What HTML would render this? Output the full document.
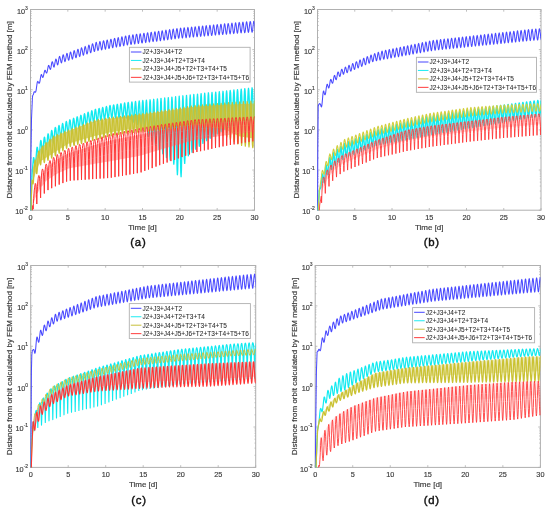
<!DOCTYPE html><html><head><meta charset="utf-8"><style>html,body{margin:0;padding:0;background:#fff}svg{display:block;filter:blur(0.5px)}</style></head><body><svg width="550" height="511" viewBox="0 0 550 511">
<style>text{font-family:"Liberation Sans",Arial,sans-serif;fill:#222}.tl{font-size:7.3px;fill:#3a3a3a;stroke:#3a3a3a;stroke-width:0.15px}.sup{font-size:5px}.xl{font-size:8px;fill:#3c3c3c;stroke:#3c3c3c;stroke-width:0.18px}.lg{font-size:6.5px;fill:#2a2a2a;stroke:#2a2a2a;stroke-width:0.06px}.pl{font-size:11.4px;fill:#111;stroke:#111;stroke-width:0.4px;letter-spacing:0.8px}</style>
<rect width="550" height="511" fill="#fff"/>
<clipPath id="clipa"><rect x="29.9" y="9.5" width="224.6" height="200.7"/></clipPath>
<rect x="30.5" y="9.5" width="224.0" height="200.7" fill="none" stroke="#b0b0b0" stroke-width="1"/>
<path d="M30.50,210.2v-2.2M30.50,9.5v2.2M67.83,210.2v-2.2M67.83,9.5v2.2M105.17,210.2v-2.2M105.17,9.5v2.2M142.50,210.2v-2.2M142.50,9.5v2.2M179.83,210.2v-2.2M179.83,9.5v2.2M217.17,210.2v-2.2M217.17,9.5v2.2M254.50,210.2v-2.2M254.50,9.5v2.2M30.5,210.20h2.2M254.5,210.20h-2.2M30.5,198.12h1.2M254.5,198.12h-1.2M30.5,191.05h1.2M254.5,191.05h-1.2M30.5,186.03h1.2M254.5,186.03h-1.2M30.5,182.14h1.2M254.5,182.14h-1.2M30.5,178.97h1.2M254.5,178.97h-1.2M30.5,176.28h1.2M254.5,176.28h-1.2M30.5,173.95h1.2M254.5,173.95h-1.2M30.5,171.90h1.2M254.5,171.90h-1.2M30.5,170.06h2.2M254.5,170.06h-2.2M30.5,157.98h1.2M254.5,157.98h-1.2M30.5,150.91h1.2M254.5,150.91h-1.2M30.5,145.89h1.2M254.5,145.89h-1.2M30.5,142.00h1.2M254.5,142.00h-1.2M30.5,138.83h1.2M254.5,138.83h-1.2M30.5,136.14h1.2M254.5,136.14h-1.2M30.5,133.81h1.2M254.5,133.81h-1.2M30.5,131.76h1.2M254.5,131.76h-1.2M30.5,129.92h2.2M254.5,129.92h-2.2M30.5,117.84h1.2M254.5,117.84h-1.2M30.5,110.77h1.2M254.5,110.77h-1.2M30.5,105.75h1.2M254.5,105.75h-1.2M30.5,101.86h1.2M254.5,101.86h-1.2M30.5,98.69h1.2M254.5,98.69h-1.2M30.5,96.00h1.2M254.5,96.00h-1.2M30.5,93.67h1.2M254.5,93.67h-1.2M30.5,91.62h1.2M254.5,91.62h-1.2M30.5,89.78h2.2M254.5,89.78h-2.2M30.5,77.70h1.2M254.5,77.70h-1.2M30.5,70.63h1.2M254.5,70.63h-1.2M30.5,65.61h1.2M254.5,65.61h-1.2M30.5,61.72h1.2M254.5,61.72h-1.2M30.5,58.55h1.2M254.5,58.55h-1.2M30.5,55.86h1.2M254.5,55.86h-1.2M30.5,53.53h1.2M254.5,53.53h-1.2M30.5,51.48h1.2M254.5,51.48h-1.2M30.5,49.64h2.2M254.5,49.64h-2.2M30.5,37.56h1.2M254.5,37.56h-1.2M30.5,30.49h1.2M254.5,30.49h-1.2M30.5,25.47h1.2M254.5,25.47h-1.2M30.5,21.58h1.2M254.5,21.58h-1.2M30.5,18.41h1.2M254.5,18.41h-1.2M30.5,15.72h1.2M254.5,15.72h-1.2M30.5,13.39h1.2M254.5,13.39h-1.2M30.5,11.34h1.2M254.5,11.34h-1.2" stroke="#b0b0b0" stroke-width="0.8" fill="none"/>
<g clip-path="url(#clipa)" fill="none" stroke-linejoin="round">
<path d="M30.5,230.0 30.9,160.0 31.5,119.0 32.4,98.0 32.7,95.5 33.2,94.8 33.6,93.7 33.9,92.5 34.2,91.8 34.5,91.7 34.8,91.9 35.1,92.2 35.4,92.3 35.7,91.9 36.0,90.8 36.3,89.1 36.6,86.9 36.9,84.7 37.2,82.7 37.5,81.6 37.8,81.4 38.1,81.8 38.4,82.5 38.8,83.1 39.1,83.3 39.4,83.1 39.7,82.3 40.0,80.8 40.3,79.0 40.6,77.2 40.9,75.6 41.2,74.7 41.5,74.5 41.8,75.2 42.1,76.1 42.4,77.0 42.7,77.4 43.0,77.3 43.3,76.5 43.6,75.3 43.9,73.8 44.3,72.2 44.6,71.0 44.9,70.3 45.2,70.3 45.5,70.8 45.8,71.7 46.1,72.5 46.4,73.0 46.7,72.9 47.0,72.3 47.3,71.1 47.6,69.5 47.9,67.8 48.2,66.4 48.5,65.5 48.8,65.4 49.1,66.0 49.4,67.1 49.8,68.3 50.1,69.2 50.4,69.4 50.7,68.8 51.0,67.4 51.3,65.6 51.6,63.7 51.9,62.3 52.2,61.7 52.5,61.9 52.8,62.9 53.1,64.4 53.4,65.8 53.7,66.9 54.0,67.1 54.3,66.5 54.6,65.0 54.9,63.1 55.3,61.2 55.6,59.7 55.9,59.0 56.2,59.3 56.5,60.3 56.8,61.9 57.1,63.5 57.4,64.6 57.7,64.9 58.0,64.2 58.3,62.7 58.6,60.7 58.9,58.7 59.2,57.1 59.5,56.4 59.8,56.7 60.1,57.8 60.5,59.5 60.8,61.2 61.1,62.5 61.4,62.9 61.7,62.3 62.0,60.8 62.3,58.8 62.6,56.8 62.9,55.3 63.2,54.7 63.5,55.1 63.8,56.4 64.1,58.1 64.4,59.9 64.7,61.2 65.0,61.6 65.3,61.0 65.6,59.5 66.0,57.5 66.3,55.5 66.6,54.0 66.9,53.4 67.2,53.7 67.5,55.0 67.8,56.8 68.1,58.6 68.4,59.9 68.7,60.3 69.0,59.7 69.3,58.2 69.6,56.2 69.9,54.1 70.2,52.6 70.5,52.0 70.8,52.4 71.1,53.7 71.5,55.5 71.8,57.3 72.1,58.7 72.4,59.1 72.7,58.5 73.0,56.9 73.3,54.8 73.6,52.8 73.9,51.2 74.2,50.6 74.5,51.0 74.8,52.3 75.1,54.2 75.4,56.1 75.7,57.4 76.0,57.8 76.3,57.2 76.6,55.6 77.0,53.5 77.3,51.4 77.6,49.9 77.9,49.2 78.2,49.6 78.5,51.0 78.8,52.9 79.1,54.8 79.4,56.1 79.7,56.6 80.0,55.9 80.3,54.3 80.6,52.2 80.9,50.1 81.2,48.5 81.5,47.8 81.8,48.3 82.2,49.6 82.5,51.5 82.8,53.5 83.1,54.9 83.4,55.3 83.7,54.7 84.0,53.0 84.3,50.9 84.6,48.7 84.9,47.1 85.2,46.4 85.5,46.9 85.8,48.3 86.1,50.2 86.4,52.2 86.7,53.6 87.0,54.0 87.3,53.4 87.7,51.8 88.0,49.6 88.3,47.4 88.6,45.7 88.9,45.1 89.2,45.5 89.5,46.9 89.8,48.9 90.1,50.9 90.4,52.3 90.7,52.8 91.0,52.1 91.3,50.5 91.6,48.2 91.9,46.0 92.2,44.4 92.5,43.7 92.8,44.1 93.2,45.6 93.5,47.6 93.8,49.6 94.1,51.1 94.4,51.5 94.7,50.9 95.0,49.2 95.3,46.9 95.6,44.7 95.9,43.0 96.2,42.3 96.5,42.8 96.8,44.3 97.1,46.4 97.4,48.5 97.7,50.0 98.0,50.6 98.3,49.9 98.7,48.3 99.0,46.0 99.3,43.8 99.6,42.2 99.9,41.5 100.2,42.0 100.5,43.6 100.8,45.7 101.1,47.8 101.4,49.3 101.7,49.9 102.0,49.2 102.3,47.6 102.6,45.3 102.9,43.1 103.2,41.4 103.5,40.7 103.9,41.3 104.2,42.8 104.5,44.9 104.8,47.1 105.1,48.6 105.4,49.2 105.7,48.5 106.0,46.8 106.3,44.6 106.6,42.3 106.9,40.6 107.2,40.0 107.5,40.5 107.8,42.0 108.1,44.2 108.4,46.4 108.7,47.9 109.0,48.5 109.4,47.8 109.7,46.1 110.0,43.8 110.3,41.5 110.6,39.8 110.9,39.2 111.2,39.7 111.5,41.3 111.8,43.5 112.1,45.7 112.4,47.2 112.7,47.8 113.0,47.1 113.3,45.4 113.6,43.1 113.9,40.8 114.2,39.1 114.5,38.4 114.9,38.9 115.2,40.5 115.5,42.7 115.8,44.9 116.1,46.5 116.4,47.1 116.7,46.4 117.0,44.7 117.3,42.4 117.6,40.0 117.9,38.3 118.2,37.6 118.5,38.2 118.8,39.8 119.1,42.0 119.4,44.2 119.7,45.8 120.0,46.4 120.4,45.7 120.7,44.0 121.0,41.6 121.3,39.3 121.6,37.5 121.9,36.8 122.2,37.4 122.5,39.0 122.8,41.3 123.1,43.5 123.4,45.1 123.7,45.7 124.0,45.0 124.3,43.3 124.6,40.9 124.9,38.5 125.2,36.7 125.6,36.0 125.9,36.6 126.2,38.2 126.5,40.5 126.8,42.8 127.1,44.4 127.4,45.0 127.7,44.3 128.0,42.6 128.3,40.2 128.6,37.7 128.9,36.0 129.2,35.3 129.5,35.9 129.8,37.5 130.1,39.9 130.4,42.2 130.7,43.9 131.1,44.4 131.4,43.8 131.7,42.0 132.0,39.6 132.3,37.2 132.6,35.4 132.9,34.8 133.2,35.4 133.5,37.0 133.8,39.4 134.1,41.7 134.4,43.4 134.7,44.0 135.0,43.3 135.3,41.5 135.6,39.1 135.9,36.7 136.2,34.9 136.6,34.3 136.9,34.8 137.2,36.5 137.5,38.9 137.8,41.2 138.1,42.9 138.4,43.5 138.7,42.8 139.0,41.0 139.3,38.6 139.6,36.2 139.9,34.4 140.2,33.7 140.5,34.3 140.8,36.0 141.1,38.4 141.4,40.7 141.7,42.4 142.1,43.0 142.4,42.4 142.7,40.6 143.0,38.1 143.3,35.7 143.6,33.9 143.9,33.2 144.2,33.8 144.5,35.5 144.8,37.9 145.1,40.2 145.4,42.0 145.7,42.6 146.0,41.9 146.3,40.1 146.6,37.6 146.9,35.2 147.3,33.4 147.6,32.7 147.9,33.3 148.2,35.0 148.5,37.4 148.8,39.8 149.1,41.5 149.4,42.1 149.7,41.4 150.0,39.6 150.3,37.2 150.6,34.7 150.9,32.9 151.2,32.2 151.5,32.8 151.8,34.5 152.1,36.9 152.4,39.3 152.8,41.0 153.1,41.6 153.4,40.9 153.7,39.1 154.0,36.7 154.3,34.2 154.6,32.4 154.9,31.7 155.2,32.3 155.5,34.0 155.8,36.4 156.1,38.8 156.4,40.5 156.7,41.2 157.0,40.5 157.3,38.6 157.6,36.2 157.9,33.7 158.3,31.9 158.6,31.2 158.9,31.8 159.2,33.5 159.5,35.9 159.8,38.3 160.1,40.1 160.4,40.7 160.7,40.0 161.0,38.2 161.3,35.7 161.6,33.2 161.9,31.4 162.2,30.7 162.5,31.3 162.8,33.0 163.1,35.4 163.4,37.8 163.8,39.6 164.1,40.2 164.4,39.5 164.7,37.7 165.0,35.2 165.3,32.7 165.6,30.9 165.9,30.1 166.2,30.8 166.5,32.5 166.8,34.9 167.1,37.4 167.4,39.1 167.7,39.7 168.0,39.1 168.3,37.2 168.6,34.7 169.0,32.2 169.3,30.3 169.6,29.6 169.9,30.3 170.2,32.0 170.5,34.5 170.8,36.9 171.1,38.7 171.4,39.3 171.7,38.6 172.0,36.7 172.3,34.2 172.6,31.7 172.9,29.8 173.2,29.1 173.5,29.7 173.8,31.5 174.1,34.0 174.5,36.4 174.8,38.2 175.1,38.8 175.4,38.1 175.7,36.2 176.0,33.7 176.3,31.2 176.6,29.3 176.9,28.6 177.2,29.2 177.5,31.0 177.8,33.5 178.1,35.9 178.4,37.7 178.7,38.3 179.0,37.6 179.3,35.8 179.6,33.2 180.0,30.7 180.3,28.8 180.6,28.1 180.9,28.8 181.2,30.6 181.5,33.0 181.8,35.5 182.1,37.3 182.4,38.0 182.7,37.3 183.0,35.4 183.3,32.9 183.6,30.3 183.9,28.5 184.2,27.8 184.5,28.4 184.8,30.2 185.1,32.7 185.5,35.2 185.8,37.0 186.1,37.7 186.4,37.0 186.7,35.1 187.0,32.5 187.3,30.0 187.6,28.1 187.9,27.4 188.2,28.1 188.5,29.9 188.8,32.4 189.1,34.9 189.4,36.7 189.7,37.3 190.0,36.6 190.3,34.8 190.7,32.2 191.0,29.6 191.3,27.8 191.6,27.1 191.9,27.7 192.2,29.5 192.5,32.0 192.8,34.5 193.1,36.4 193.4,37.0 193.7,36.3 194.0,34.4 194.3,31.9 194.6,29.3 194.9,27.4 195.2,26.7 195.5,27.4 195.8,29.2 196.2,31.7 196.5,34.2 196.8,36.1 197.1,36.7 197.4,36.0 197.7,34.1 198.0,31.5 198.3,29.0 198.6,27.1 198.9,26.3 199.2,27.0 199.5,28.8 199.8,31.4 200.1,33.9 200.4,35.7 200.7,36.4 201.0,35.7 201.3,33.8 201.7,31.2 202.0,28.6 202.3,26.7 202.6,26.0 202.9,26.6 203.2,28.5 203.5,31.0 203.8,33.6 204.1,35.4 204.4,36.1 204.7,35.4 205.0,33.5 205.3,30.9 205.6,28.3 205.9,26.4 206.2,25.6 206.5,26.3 206.8,28.1 207.2,30.7 207.5,33.2 207.8,35.1 208.1,35.8 208.4,35.1 208.7,33.1 209.0,30.5 209.3,27.9 209.6,26.0 209.9,25.3 210.2,25.9 210.5,27.8 210.8,30.4 211.1,32.9 211.4,34.8 211.7,35.5 212.0,34.7 212.4,32.8 212.7,30.2 213.0,27.6 213.3,25.6 213.6,24.9 213.9,25.6 214.2,27.5 214.5,30.0 214.8,32.6 215.1,34.5 215.4,35.1 215.7,34.4 216.0,32.5 216.3,29.9 216.6,27.2 216.9,25.3 217.2,24.6 217.5,25.2 217.9,27.1 218.2,29.7 218.5,32.3 218.8,34.1 219.1,34.8 219.4,34.1 219.7,32.2 220.0,29.5 220.3,26.9 220.6,24.9 220.9,24.2 221.2,24.9 221.5,26.8 221.8,29.4 222.1,31.9 222.4,33.8 222.7,34.5 223.0,33.8 223.4,31.8 223.7,29.2 224.0,26.5 224.3,24.6 224.6,23.8 224.9,24.5 225.2,26.4 225.5,29.0 225.8,31.6 226.1,33.5 226.4,34.2 226.7,33.5 227.0,31.5 227.3,28.8 227.6,26.2 227.9,24.2 228.2,23.5 228.5,24.2 228.9,26.1 229.2,28.7 229.5,31.3 229.8,33.2 230.1,33.9 230.4,33.1 230.7,31.2 231.0,28.5 231.3,25.8 231.6,23.9 231.9,23.1 232.2,23.8 232.5,25.7 232.8,28.3 233.1,31.0 233.4,32.9 233.7,33.6 234.1,32.8 234.4,30.9 234.7,28.2 235.0,25.5 235.3,23.5 235.6,22.8 235.9,23.5 236.2,25.4 236.5,28.0 236.8,30.6 237.1,32.6 237.4,33.2 237.7,32.5 238.0,30.5 238.3,27.8 238.6,25.1 238.9,23.2 239.2,22.4 239.6,23.1 239.9,25.0 240.2,27.7 240.5,30.3 240.8,32.2 241.1,32.9 241.4,32.2 241.7,30.2 242.0,27.5 242.3,24.8 242.6,22.8 242.9,22.1 243.2,22.8 243.5,24.7 243.8,27.4 244.1,30.0 244.4,32.0 244.7,32.7 245.1,31.9 245.4,29.9 245.7,27.2 246.0,24.5 246.3,22.5 246.6,21.8 246.9,22.5 247.2,24.4 247.5,27.1 247.8,29.8 248.1,31.7 248.4,32.4 248.7,31.7 249.0,29.7 249.3,27.0 249.6,24.3 249.9,22.3 250.2,21.5 250.6,22.2 250.9,24.2 251.2,26.8 251.5,29.5 251.8,31.5 252.1,32.2 252.4,31.4 252.7,29.4 253.0,26.7 253.3,24.0 253.6,22.0 253.9,21.2 254.2,21.9 254.5,23.9 254.8,26.6 255.1,29.3 255.4,31.3 255.8,32.0 256.1,31.3 256.4,29.3 256.7,26.6" stroke="#4a4aff" stroke-width="1.05" stroke-opacity="1"/>
<path d="M30.5,260.0 31.2,200.0 32.0,175.0 33.5,157.6 33.8,157.6 34.1,159.3 34.4,161.8 34.7,164.3 35.0,166.0 35.3,166.1 35.6,164.3 35.9,160.9 36.2,156.6 36.5,152.2 36.8,148.8 37.1,147.3 37.4,147.6 37.7,149.5 38.0,152.4 38.3,155.3 38.6,157.2 39.0,157.6 39.3,156.0 39.6,152.8 39.9,148.7 40.2,144.6 40.5,141.7 40.8,140.5 41.1,141.1 41.4,143.4 41.7,146.6 42.0,149.9 42.3,152.2 42.6,152.8 42.9,151.6 43.2,148.8 43.5,145.0 43.8,141.2 44.1,138.4 44.4,137.1 44.7,137.8 45.0,140.1 45.3,143.3 45.6,146.5 45.9,148.8 46.2,149.5 46.5,148.3 46.8,145.4 47.2,141.6 47.5,137.9 47.8,135.0 48.1,133.8 48.4,134.5 48.7,136.7 49.0,140.0 49.3,143.2 49.6,145.5 49.9,146.1 50.2,144.9 50.5,142.1 50.8,138.3 51.1,134.5 51.4,131.7 51.7,130.5 52.0,131.1 52.3,133.4 52.6,136.6 52.9,139.9 53.2,142.1 53.5,142.8 53.8,141.6 54.1,138.7 54.4,135.0 54.7,131.3 55.0,128.6 55.3,127.5 55.7,128.2 56.0,130.6 56.3,133.9 56.6,137.1 56.9,139.5 57.2,140.2 57.5,139.1 57.8,136.4 58.1,132.8 58.4,129.2 58.7,126.6 59.0,125.5 59.3,126.2 59.6,128.5 59.9,131.7 60.2,134.9 60.5,137.1 60.8,137.8 61.1,136.7 61.4,134.1 61.7,130.6 62.0,127.1 62.3,124.6 62.6,123.5 62.9,124.2 63.2,126.5 63.5,129.5 63.9,132.6 64.2,134.8 64.5,135.4 64.8,134.4 65.1,131.8 65.4,128.4 65.7,125.1 66.0,122.6 66.3,121.5 66.6,122.2 66.9,124.4 67.2,127.4 67.5,130.3 67.8,132.4 68.1,133.1 68.4,132.1 68.7,129.7 69.0,126.4 69.3,123.2 69.6,120.8 69.9,119.8 70.2,120.5 70.5,122.7 70.8,125.7 71.1,128.7 71.4,130.8 71.7,131.5 72.0,130.6 72.4,128.2 72.7,124.9 73.0,121.7 73.3,119.2 73.6,118.3 73.9,119.0 74.2,121.1 74.5,124.1 74.8,127.1 75.1,129.3 75.4,130.0 75.7,129.1 76.0,126.6 76.3,123.4 76.6,120.1 76.9,117.7 77.2,116.8 77.5,117.5 77.8,119.6 78.1,122.6 78.4,125.6 78.7,127.8 79.0,128.5 79.3,127.5 79.6,125.1 79.9,121.9 80.2,118.6 80.6,116.2 80.9,115.3 81.2,116.0 81.5,118.1 81.8,121.1 82.1,124.1 82.4,126.3 82.7,127.0 83.0,126.0 83.3,123.6 83.6,120.4 83.9,117.1 84.2,114.7 84.5,113.7 84.8,114.5 85.1,116.6 85.4,119.6 85.7,122.6 86.0,124.8 86.3,125.5 86.6,124.5 86.9,122.1 87.2,118.9 87.5,115.6 87.8,113.2 88.1,112.2 88.4,112.9 88.7,115.1 89.1,118.1 89.4,121.1 89.7,123.3 90.0,124.0 90.3,123.0 90.6,120.6 90.9,117.3 91.2,114.1 91.5,111.7 91.8,110.7 92.1,111.4 92.4,113.6 92.7,116.6 93.0,119.6 93.3,121.7 93.6,122.5 93.9,121.5 94.2,119.1 94.5,115.8 94.8,112.6 95.1,110.2 95.4,109.3 95.7,110.1 96.0,112.3 96.3,115.3 96.6,118.4 96.9,120.6 97.3,121.3 97.6,120.4 97.9,118.1 98.2,114.8 98.5,111.6 98.8,109.3 99.1,108.4 99.4,109.1 99.7,111.3 100.0,114.4 100.3,117.4 100.6,119.6 100.9,120.4 101.2,119.5 101.5,117.1 101.8,113.9 102.1,110.7 102.4,108.3 102.7,107.4 103.0,108.2 103.3,110.4 103.6,113.4 103.9,116.5 104.2,118.7 104.5,119.4 104.8,118.5 105.1,116.1 105.5,112.9 105.8,109.7 106.1,107.4 106.4,106.5 106.7,107.2 107.0,109.4 107.3,112.5 107.6,115.5 107.9,117.7 108.2,118.5 108.5,117.6 108.8,115.2 109.1,112.0 109.4,108.8 109.7,106.4 110.0,105.5 110.3,106.3 110.6,108.5 110.9,111.7 111.2,114.8 111.5,117.1 111.8,118.0 112.1,117.1 112.4,114.8 112.7,111.5 113.0,108.2 113.3,105.8 113.6,104.9 114.0,105.7 114.3,108.1 114.6,111.4 114.9,114.7 115.2,117.1 115.5,118.0 115.8,117.1 116.1,114.6 116.4,111.2 116.7,107.8 117.0,105.2 117.3,104.3 117.6,105.1 117.9,107.6 118.2,111.1 118.5,114.5 118.8,117.1 119.1,118.0 119.4,117.1 119.7,114.5 120.0,110.9 120.3,107.3 120.6,104.6 120.9,103.6 121.2,104.5 121.5,107.1 121.8,110.7 122.2,114.4 122.5,117.0 122.8,118.0 123.1,117.0 123.4,114.3 123.7,110.6 124.0,106.8 124.3,104.1 124.6,103.0 124.9,104.0 125.2,106.7 125.5,110.4 125.8,114.2 126.1,117.0 126.4,118.0 126.7,117.0 127.0,114.1 127.3,110.3 127.6,106.4 127.9,103.5 128.2,102.4 128.5,103.5 128.8,106.5 129.1,110.7 129.4,115.0 129.7,118.3 130.0,119.7 130.3,118.7 130.7,115.6 131.0,111.2 131.3,106.6 131.6,103.2 131.9,101.9 132.2,103.2 132.5,106.7 132.8,111.6 133.1,116.7 133.4,120.5 133.7,122.1 134.0,120.9 134.3,117.3 134.6,112.1 134.9,106.9 135.2,102.9 135.5,101.4 135.8,102.9 136.1,106.9 136.4,112.6 136.7,118.4 137.0,122.8 137.3,124.5 137.6,123.2 137.9,119.0 138.2,113.1 138.5,107.1 138.9,102.6 139.2,100.9 139.5,102.6 139.8,107.2 140.1,113.6 140.4,120.1 140.7,125.0 141.0,127.0 141.3,125.4 141.6,120.7 141.9,114.1 142.2,107.4 142.5,102.3 142.8,100.5 143.1,102.3 143.4,107.6 143.7,115.1 144.0,122.7 144.3,128.6 144.6,131.0 144.9,129.4 145.2,124.0 145.5,116.3 145.8,108.3 146.1,102.4 146.4,100.1 146.7,102.4 147.0,108.7 147.4,117.5 147.7,126.5 148.0,133.4 148.3,136.3 148.6,134.2 148.9,127.8 149.2,118.7 149.5,109.4 149.8,102.4 150.1,99.8 150.4,102.4 150.7,109.7 151.0,119.8 151.3,130.1 151.6,137.9 151.9,141.0 152.2,138.6 152.5,131.2 152.8,120.8 153.1,110.2 153.4,102.3 153.7,99.3 154.0,102.3 154.3,110.4 154.6,121.8 154.9,133.3 155.2,142.0 155.6,145.4 155.9,142.7 156.2,134.4 156.5,122.8 156.8,110.9 157.1,102.2 157.4,98.9 157.7,102.1 158.0,111.2 158.3,123.7 158.6,136.5 158.9,146.1 159.2,149.8 159.5,146.7 159.8,137.5 160.1,124.7 160.4,111.7 160.7,102.0 161.0,98.4 161.3,102.0 161.6,111.9 161.9,125.6 162.2,139.4 162.5,149.7 162.8,153.7 163.1,150.3 163.4,140.3 163.8,126.4 164.1,112.3 164.4,101.9 164.7,98.0 165.0,101.9 165.3,112.5 165.6,127.3 165.9,142.2 166.2,153.3 166.5,157.6 166.8,153.7 167.1,142.9 167.4,127.9 167.7,112.8 168.0,101.7 168.3,97.6 168.6,101.7 168.9,112.9 169.2,128.4 169.5,144.1 169.8,155.6 170.1,160.0 170.4,156.0 170.7,144.6 171.0,128.9 171.3,113.1 171.6,101.5 171.9,97.1 172.3,101.4 172.6,113.2 172.9,129.4 173.2,145.9 173.5,158.7 173.8,164.1 174.1,160.5 174.4,148.8 174.7,131.9 175.0,114.6 175.3,101.6 175.6,96.7 175.9,101.6 176.2,115.4 176.5,134.7 176.8,154.5 177.1,169.1 177.4,174.7 177.7,169.8 178.0,155.7 178.3,136.1 178.6,116.2 178.9,101.6 179.2,96.2 179.5,101.6 179.8,116.5 180.1,137.1 180.5,157.8 180.8,172.4 181.1,176.7 181.4,170.2 181.7,154.8 182.0,134.5 182.3,114.9 182.6,100.8 182.9,95.8 183.2,100.6 183.5,113.6 183.8,131.0 184.1,147.9 184.4,159.8 184.7,163.4 185.0,157.9 185.3,145.0 185.6,128.0 185.9,111.5 186.2,99.7 186.5,95.4 186.8,99.5 187.1,110.7 187.4,126.0 187.7,141.1 188.0,152.0 188.3,155.8 188.6,151.5 189.0,140.2 189.3,125.0 189.6,109.9 189.9,99.0 190.2,95.0 190.5,98.9 190.8,109.5 191.1,124.0 191.4,138.4 191.7,148.7 192.0,152.3 192.3,148.2 192.6,137.5 192.9,123.1 193.2,108.7 193.5,98.3 193.8,94.5 194.1,98.2 194.4,108.4 194.7,122.1 195.0,135.8 195.3,145.7 195.6,149.1 195.9,145.2 196.2,135.0 196.5,121.3 196.8,107.7 197.2,97.7 197.5,94.1 197.8,97.6 198.1,107.3 198.4,120.5 198.7,133.5 199.0,143.0 199.3,146.3 199.6,142.5 199.9,132.8 200.2,119.6 200.5,106.6 200.8,97.1 201.1,93.6 201.4,97.0 201.7,106.2 202.0,118.8 202.3,131.3 202.6,140.3 202.9,143.4 203.2,139.8 203.5,130.5 203.8,118.0 204.1,105.5 204.4,96.5 204.7,93.2 205.0,96.4 205.3,105.2 205.7,117.1 206.0,129.0 206.3,137.6 206.6,140.6 206.9,137.3 207.2,128.4 207.5,116.5 207.8,104.6 208.1,96.0 208.4,92.8 208.7,95.9 209.0,104.3 209.3,115.8 209.6,127.2 209.9,135.5 210.2,138.3 210.5,135.1 210.8,126.6 211.1,115.2 211.4,103.8 211.7,95.5 212.0,92.5 212.3,95.4 212.6,103.5 212.9,114.5 213.2,125.4 213.5,133.3 213.9,136.1 214.2,133.0 214.5,124.8 214.8,113.9 215.1,103.0 215.4,95.0 215.7,92.1 216.0,95.0 216.3,102.7 216.6,113.2 216.9,123.6 217.2,131.2 217.5,133.8 217.8,130.8 218.1,123.1 218.4,112.6 218.7,102.1 219.0,94.5 219.3,91.7 219.6,94.4 219.9,101.9 220.2,111.9 220.5,121.9 220.8,129.2 221.1,131.7 221.4,128.8 221.7,121.4 222.0,111.3 222.4,101.3 222.7,94.0 223.0,91.3 223.3,93.9 223.6,101.0 223.9,110.6 224.2,120.2 224.5,127.1 224.8,129.5 225.1,126.8 225.4,119.6 225.7,110.0 226.0,100.4 226.3,93.5 226.6,90.9 226.9,93.4 227.2,100.1 227.5,109.4 227.8,118.5 228.1,125.1 228.4,127.4 228.7,124.8 229.0,117.9 229.3,108.8 229.6,99.6 229.9,92.9 230.2,90.5 230.6,92.9 230.9,99.4 231.2,108.4 231.5,117.3 231.8,123.8 232.1,126.1 232.4,123.6 232.7,117.0 233.0,108.0 233.3,99.0 233.6,92.5 233.9,90.0 234.2,92.4 234.5,98.8 234.8,107.6 235.1,116.4 235.4,122.7 235.7,125.0 236.0,122.6 236.3,116.1 236.6,107.2 236.9,98.4 237.2,92.0 237.5,89.6 237.8,91.9 238.1,98.2 238.4,106.8 238.8,115.4 239.1,121.7 239.4,123.9 239.7,121.5 240.0,115.1 240.3,106.5 240.6,97.8 240.9,91.5 241.2,89.2 241.5,91.4 241.8,97.6 242.1,106.1 242.4,114.6 242.7,120.8 243.0,123.1 243.3,120.7 243.6,114.4 243.9,105.9 244.2,97.3 244.5,91.0 244.8,88.7 245.1,91.0 245.4,97.1 245.7,105.6 246.0,114.0 246.3,120.2 246.6,122.4 246.9,120.1 247.3,113.8 247.6,105.3 247.9,96.8 248.2,90.6 248.5,88.3 248.8,90.5 249.1,96.6 249.4,105.0 249.7,113.4 250.0,119.5 250.3,121.8 250.6,119.4 250.9,113.2 251.2,104.8 251.5,96.3 251.8,90.1 252.1,87.8 252.4,90.0 252.7,96.1 253.0,104.5 253.3,112.8 253.6,118.9 253.9,121.1 254.2,118.8 254.5,112.6 254.8,104.3 255.1,95.9 255.5,89.7 255.8,87.5 256.1,89.7 256.4,95.9 256.7,104.2" stroke="#10eaf0" stroke-width="1.35" stroke-opacity="1"/>
<path d="M32.7,168.8 33.9,164.9 35.0,161.0 36.1,157.4 37.2,155.1 38.4,152.7 39.5,150.3 40.6,148.5 41.7,147.5 42.9,146.5 44.0,145.5 45.1,144.5 46.2,143.5 47.4,142.6 48.5,141.6 49.6,140.6 50.8,139.6 51.9,138.6 53.0,137.6 54.1,136.9 55.3,136.4 56.4,135.9 57.5,135.4 58.6,135.0 59.8,134.5 60.9,134.0 62.0,133.6 63.1,133.1 64.3,132.6 65.4,132.2 66.5,131.7 67.6,131.2 68.8,130.8 69.9,130.4 71.0,129.9 72.1,129.5 73.3,129.1 74.4,128.7 75.5,128.2 76.6,127.8 77.8,127.4 78.9,127.0 80.0,126.5 81.1,126.1 82.3,125.7 83.4,125.3 84.5,124.8 85.6,124.4 86.8,124.0 87.9,123.6 89.0,123.1 90.1,122.7 91.3,122.3 92.4,121.9 93.5,121.4 94.6,121.0 95.8,120.8 96.9,120.6 98.0,120.5 99.2,120.3 100.3,120.1 101.4,119.9 102.5,119.7 103.7,119.5 104.8,119.3 105.9,119.2 107.0,119.0 108.2,118.8 109.3,118.6 110.4,118.4 111.5,118.3 112.7,118.2 113.8,118.0 114.9,117.9 116.0,117.8 117.2,117.6 118.3,117.5 119.4,117.3 120.5,117.2 121.7,117.1 122.8,116.9 123.9,116.8 125.0,116.7 126.2,116.5 127.3,116.4 128.4,116.3 129.5,116.1 130.7,116.0 131.8,115.8 132.9,115.7 134.0,115.5 135.2,115.4 136.3,115.2 137.4,115.1 138.5,114.9 139.7,114.8 140.8,114.6 141.9,114.5 143.1,114.3 144.2,114.2 145.3,114.0 146.4,113.9 147.6,113.7 148.7,113.6 149.8,113.4 150.9,113.3 152.1,113.1 153.2,112.9 154.3,112.8 155.4,112.6 156.6,112.4 157.7,112.3 158.8,112.1 159.9,111.9 161.1,111.8 162.2,111.6 163.3,111.4 164.4,111.3 165.6,111.1 166.7,110.9 167.8,110.8 168.9,110.6 170.1,110.4 171.2,110.3 172.3,110.1 173.4,109.9 174.6,109.7 175.7,109.6 176.8,109.4 177.9,109.2 179.1,109.1 180.2,108.9 181.3,108.7 182.4,108.6 183.6,108.4 184.7,108.2 185.8,108.1 187.0,107.9 188.1,107.7 189.2,107.6 190.3,107.4 191.5,107.2 192.6,107.1 193.7,106.9 194.8,106.7 196.0,106.6 197.1,106.6 198.2,106.5 199.3,106.4 200.5,106.3 201.6,106.3 202.7,106.2 203.8,106.1 205.0,106.0 206.1,105.9 207.2,105.9 208.3,105.8 209.5,105.7 210.6,105.6 211.7,105.5 212.8,105.5 214.0,105.4 215.1,105.3 216.2,105.2 217.3,105.2 218.5,105.1 219.6,105.0 220.7,104.9 221.8,104.8 223.0,104.8 224.1,104.7 225.2,104.6 226.3,104.6 227.5,104.6 228.6,104.5 229.7,104.5 230.9,104.4 232.0,104.4 233.1,104.4 234.2,104.3 235.4,104.3 236.5,104.3 237.6,104.2 238.7,104.2 239.9,104.1 241.0,104.1 242.1,104.0 243.2,104.0 244.4,103.9 245.5,103.8 246.6,103.8 247.7,103.7 248.9,103.7 250.0,103.6 251.1,103.5 252.2,103.5 253.4,103.4 254.5,103.4 255.6,103.3 256.7,103.3 256.7,138.6 255.6,138.6 254.5,138.6 253.4,138.4 252.2,138.3 251.1,138.1 250.0,137.9 248.9,137.8 247.7,137.6 246.6,137.4 245.5,137.3 244.4,137.1 243.2,136.9 242.1,136.8 241.0,136.6 239.9,136.4 238.7,136.0 237.6,135.5 236.5,135.0 235.4,134.4 234.2,133.9 233.1,133.4 232.0,132.8 230.9,132.3 229.7,131.8 228.6,131.3 227.5,130.7 226.3,130.2 225.2,129.7 224.1,129.3 223.0,129.2 221.8,129.0 220.7,128.8 219.6,128.7 218.5,128.5 217.3,128.4 216.2,128.2 215.1,128.0 214.0,127.9 212.8,127.7 211.7,127.5 210.6,127.4 209.5,127.2 208.3,127.1 207.2,126.9 206.1,126.7 205.0,126.6 203.8,126.4 202.7,126.2 201.6,126.1 200.5,125.9 199.3,125.8 198.2,125.6 197.1,125.4 196.0,125.3 194.8,125.1 193.7,125.2 192.6,125.2 191.5,125.3 190.3,125.3 189.2,125.4 188.1,125.4 187.0,125.5 185.8,125.5 184.7,125.6 183.6,125.6 182.4,125.7 181.3,125.8 180.2,125.8 179.1,125.9 177.9,125.9 176.8,126.0 175.7,126.0 174.6,126.1 173.4,126.1 172.3,126.2 171.2,126.3 170.1,126.3 168.9,126.4 167.8,126.4 166.7,126.5 165.6,126.5 164.4,126.6 163.3,126.6 162.2,126.7 161.1,126.8 159.9,126.8 158.8,126.9 157.7,126.9 156.6,127.0 155.4,127.0 154.3,127.1 153.2,127.1 152.1,127.2 150.9,127.3 149.8,127.3 148.7,127.4 147.6,127.5 146.4,127.6 145.3,127.8 144.2,127.9 143.1,128.0 141.9,128.1 140.8,128.2 139.7,128.3 138.5,128.4 137.4,128.5 136.3,128.6 135.2,128.8 134.0,128.9 132.9,129.0 131.8,129.1 130.7,129.2 129.5,129.3 128.4,129.4 127.3,129.5 126.2,129.7 125.0,129.9 123.9,130.1 122.8,130.3 121.7,130.5 120.5,130.6 119.4,130.8 118.3,131.0 117.2,131.2 116.0,131.4 114.9,131.6 113.8,131.7 112.7,131.9 111.5,132.1 110.4,132.3 109.3,132.6 108.2,132.8 107.0,133.1 105.9,133.4 104.8,133.6 103.7,133.9 102.5,134.2 101.4,134.4 100.3,134.7 99.2,135.0 98.0,135.2 96.9,135.5 95.8,135.7 94.6,136.0 93.5,136.3 92.4,136.7 91.3,137.0 90.1,137.3 89.0,137.7 87.9,138.0 86.8,138.3 85.6,138.6 84.5,139.0 83.4,139.3 82.3,139.6 81.1,139.9 80.0,140.3 78.9,140.6 77.8,140.9 76.6,141.3 75.5,141.6 74.4,141.9 73.3,142.2 72.1,142.6 71.0,142.9 69.9,143.2 68.8,143.5 67.6,144.2 66.5,144.9 65.4,145.6 64.3,146.3 63.1,147.0 62.0,147.6 60.9,148.3 59.8,149.0 58.6,149.7 57.5,150.4 56.4,151.1 55.3,151.8 54.1,152.5 53.0,153.2 51.9,154.0 50.8,154.7 49.6,155.4 48.5,156.2 47.4,156.9 46.2,157.6 45.1,158.4 44.0,159.1 42.9,159.9 41.7,160.6 40.6,161.3 39.5,163.3 38.4,166.1 37.2,168.9 36.1,171.6 35.0,174.9 33.9,178.2 32.7,181.6Z" fill="#c8c040" fill-opacity="0.7" stroke="none"/>
<path d="M30.5,260.0 31.2,200.0 32.0,180.0 32.8,183.7 33.1,183.9 33.4,181.9 33.7,177.8 34.0,172.4 34.3,166.9 34.7,162.5 35.0,160.2 35.3,160.3 35.6,162.7 35.9,166.4 36.2,170.4 36.5,173.1 36.8,173.6 37.1,171.6 37.5,167.4 37.8,162.1 38.1,156.9 38.4,153.0 38.7,151.1 39.0,151.7 39.3,154.2 39.6,157.8 39.9,161.4 40.2,163.8 40.6,164.8 40.9,163.5 41.2,160.1 41.5,155.5 41.8,151.0 42.1,147.5 42.4,146.0 42.7,146.9 43.0,149.9 43.3,154.2 43.7,158.4 44.0,161.5 44.3,162.6 44.6,161.2 44.9,157.6 45.2,152.8 45.5,147.9 45.8,144.2 46.1,142.7 46.4,143.7 46.8,146.9 47.1,151.4 47.4,155.9 47.7,159.3 48.0,160.4 48.3,158.9 48.6,155.1 48.9,150.0 49.2,144.9 49.6,141.0 49.9,139.4 50.2,140.4 50.5,143.8 50.8,148.6 51.1,153.5 51.4,157.0 51.7,158.1 52.0,156.6 52.3,152.6 52.7,147.2 53.0,141.8 53.3,137.7 53.6,136.1 53.9,137.3 54.2,141.0 54.5,146.0 54.8,151.0 55.1,154.6 55.4,155.8 55.8,154.2 56.1,150.3 56.4,145.0 56.7,139.8 57.0,136.0 57.3,134.5 57.6,135.7 57.9,139.2 58.2,144.0 58.5,148.8 58.9,152.2 59.2,153.3 59.5,151.8 59.8,148.0 60.1,143.0 60.4,138.1 60.7,134.4 61.0,133.0 61.3,134.2 61.7,137.5 62.0,142.0 62.3,146.6 62.6,149.8 62.9,150.8 63.2,149.4 63.5,145.8 63.8,141.0 64.1,136.3 64.4,132.9 64.8,131.5 65.1,132.6 65.4,135.8 65.7,140.1 66.0,144.3 66.3,147.3 66.6,148.3 66.9,146.9 67.2,143.6 67.5,139.1 67.9,134.6 68.2,131.3 68.5,130.0 68.8,131.1 69.1,134.1 69.4,138.2 69.7,142.4 70.0,145.5 70.3,146.5 70.6,145.3 71.0,142.0 71.3,137.6 71.6,133.2 71.9,129.9 72.2,128.6 72.5,129.7 72.8,132.7 73.1,137.0 73.4,141.3 73.7,144.4 74.1,145.5 74.4,144.3 74.7,140.9 75.0,136.4 75.3,131.9 75.6,128.5 75.9,127.2 76.2,128.3 76.5,131.4 76.9,135.8 77.2,140.2 77.5,143.4 77.8,144.5 78.1,143.2 78.4,139.8 78.7,135.2 79.0,130.6 79.3,127.1 79.6,125.8 80.0,126.9 80.3,130.1 80.6,134.6 80.9,139.1 81.2,142.4 81.5,143.5 81.8,142.2 82.1,138.7 82.4,134.0 82.7,129.2 83.1,125.7 83.4,124.3 83.7,125.5 84.0,128.8 84.3,133.4 84.6,138.0 84.9,141.4 85.2,142.5 85.5,141.2 85.8,137.6 86.2,132.8 86.5,127.9 86.8,124.3 87.1,122.9 87.4,124.1 87.7,127.5 88.0,132.2 88.3,136.9 88.6,140.3 89.0,141.5 89.3,140.2 89.6,136.5 89.9,131.6 90.2,126.6 90.5,122.9 90.8,121.5 91.1,122.7 91.4,126.2 91.7,131.0 92.1,135.8 92.4,139.3 92.7,140.5 93.0,139.1 93.3,135.4 93.6,130.4 93.9,125.3 94.2,121.5 94.5,120.1 94.8,121.3 95.2,124.9 95.5,129.8 95.8,134.8 96.1,138.3 96.4,139.6 96.7,138.2 97.0,134.5 97.3,129.5 97.6,124.5 97.9,120.8 98.3,119.4 98.6,120.7 98.9,124.2 99.2,129.1 99.5,133.9 99.8,137.4 100.1,138.6 100.4,137.2 100.7,133.6 101.1,128.7 101.4,123.8 101.7,120.2 102.0,118.8 102.3,120.1 102.6,123.6 102.9,128.3 103.2,133.0 103.5,136.5 103.8,137.7 104.2,136.3 104.5,132.7 104.8,127.9 105.1,123.1 105.4,119.6 105.7,118.2 106.0,119.5 106.3,122.9 106.6,127.5 106.9,132.2 107.3,135.5 107.6,136.7 107.9,135.4 108.2,131.9 108.5,127.1 108.8,122.4 109.1,119.0 109.4,117.7 109.7,118.8 110.0,122.2 110.4,126.8 110.7,131.3 111.0,134.7 111.3,135.8 111.6,134.6 111.9,131.1 112.2,126.5 112.5,121.8 112.8,118.4 113.2,117.2 113.5,118.4 113.8,121.7 114.1,126.2 114.4,130.7 114.7,134.0 115.0,135.2 115.3,133.9 115.6,130.5 115.9,125.9 116.3,121.4 116.6,118.0 116.9,116.7 117.2,117.9 117.5,121.2 117.8,125.7 118.1,130.1 118.4,133.4 118.7,134.5 119.0,133.3 119.4,129.9 119.7,125.4 120.0,120.9 120.3,117.5 120.6,116.3 120.9,117.5 121.2,120.7 121.5,125.1 121.8,129.5 122.1,132.8 122.5,133.9 122.8,132.6 123.1,129.3 123.4,124.9 123.7,120.4 124.0,117.1 124.3,115.9 124.6,117.0 124.9,120.2 125.2,124.6 125.6,128.9 125.9,132.1 126.2,133.2 126.5,132.0 126.8,128.7 127.1,124.3 127.4,119.9 127.7,116.7 128.0,115.4 128.4,116.6 128.7,119.7 129.0,124.1 129.3,128.5 129.6,131.6 129.9,132.8 130.2,131.6 130.5,128.3 130.8,123.9 131.1,119.4 131.5,116.2 131.8,114.9 132.1,116.1 132.4,119.3 132.7,123.7 133.0,128.1 133.3,131.3 133.6,132.5 133.9,131.2 134.2,128.0 134.6,123.5 134.9,119.0 135.2,115.7 135.5,114.4 135.8,115.6 136.1,118.8 136.4,123.3 136.7,127.7 137.0,131.0 137.3,132.1 137.7,130.9 138.0,127.6 138.3,123.1 138.6,118.5 138.9,115.2 139.2,113.9 139.5,115.1 139.8,118.4 140.1,122.8 140.5,127.3 140.8,130.6 141.1,131.8 141.4,130.6 141.7,127.2 142.0,122.6 142.3,118.1 142.6,114.7 142.9,113.4 143.2,114.6 143.6,117.9 143.9,122.4 144.2,127.0 144.5,130.3 144.8,131.5 145.1,130.2 145.4,126.8 145.7,122.2 146.0,117.6 146.3,114.2 146.7,112.9 147.0,114.1 147.3,117.5 147.6,122.0 147.9,126.6 148.2,129.9 148.5,131.1 148.8,129.9 149.1,126.5 149.4,121.8 149.8,117.2 150.1,113.7 150.4,112.4 150.7,113.6 151.0,117.0 151.3,121.6 151.6,126.3 151.9,129.7 152.2,130.9 152.6,129.7 152.9,126.2 153.2,121.5 153.5,116.7 153.8,113.2 154.1,111.9 154.4,113.1 154.7,116.5 155.0,121.3 155.3,126.1 155.7,129.6 156.0,130.9 156.3,129.6 156.6,126.0 156.9,121.1 157.2,116.2 157.5,112.6 157.8,111.3 158.1,112.5 158.4,116.1 158.8,121.0 159.1,125.9 159.4,129.5 159.7,130.8 160.0,129.4 160.3,125.8 160.6,120.8 160.9,115.8 161.2,112.1 161.5,110.7 161.9,112.0 162.2,115.6 162.5,120.6 162.8,125.7 163.1,129.3 163.4,130.7 163.7,129.3 164.0,125.6 164.3,120.5 164.6,115.3 165.0,111.5 165.3,110.1 165.6,111.4 165.9,115.2 166.2,120.3 166.5,125.5 166.8,129.2 167.1,130.6 167.4,129.2 167.8,125.4 168.1,120.1 168.4,114.9 168.7,111.0 169.0,109.5 169.3,110.9 169.6,114.7 169.9,120.0 170.2,125.2 170.5,129.1 170.9,130.5 171.2,129.1 171.5,125.2 171.8,119.8 172.1,114.4 172.4,110.4 172.7,108.9 173.0,110.3 173.3,114.3 173.6,119.6 174.0,125.0 174.3,129.0 174.6,130.5 174.9,129.0 175.2,125.0 175.5,119.5 175.8,114.0 176.1,109.9 176.4,108.4 176.7,109.8 177.1,113.8 177.4,119.3 177.7,124.8 178.0,128.9 178.3,130.4 178.6,128.9 178.9,124.8 179.2,119.1 179.5,113.5 179.9,109.3 180.2,107.8 180.5,109.2 180.8,113.3 181.1,119.0 181.4,124.6 181.7,128.8 182.0,130.3 182.3,128.7 182.6,124.6 183.0,118.8 183.3,113.0 183.6,108.8 183.9,107.2 184.2,108.7 184.5,112.9 184.8,118.6 185.1,124.4 185.4,128.7 185.7,130.2 186.1,128.6 186.4,124.3 186.7,118.5 187.0,112.6 187.3,108.2 187.6,106.6 187.9,108.1 188.2,112.4 188.5,118.3 188.8,124.2 189.2,128.5 189.5,130.1 189.8,128.5 190.1,124.1 190.4,118.1 190.7,112.1 191.0,107.7 191.3,106.0 191.6,107.6 192.0,112.0 192.3,118.0 192.6,124.0 192.9,128.4 193.2,130.0 193.5,128.4 193.8,123.9 194.1,117.8 194.4,111.7 194.7,107.1 195.1,105.5 195.4,107.1 195.7,111.6 196.0,117.8 196.3,124.1 196.6,128.7 196.9,130.4 197.2,128.8 197.5,124.2 197.8,117.9 198.2,111.6 198.5,106.9 198.8,105.2 199.1,106.9 199.4,111.6 199.7,118.0 200.0,124.6 200.3,129.4 200.6,131.2 200.9,129.5 201.3,124.7 201.6,118.1 201.9,111.5 202.2,106.7 202.5,104.9 202.8,106.6 203.1,111.5 203.4,118.3 203.7,125.0 204.1,130.0 204.4,131.9 204.7,130.2 205.0,125.2 205.3,118.4 205.6,111.5 205.9,106.4 206.2,104.5 206.5,106.4 206.8,111.5 207.2,118.5 207.5,125.5 207.8,130.7 208.1,132.7 208.4,130.8 208.7,125.7 209.0,118.6 209.3,111.4 209.6,106.2 209.9,104.2 210.3,106.1 210.6,111.4 210.9,118.7 211.2,126.0 211.5,131.4 211.8,133.4 212.1,131.5 212.4,126.2 212.7,118.8 213.0,111.4 213.4,105.9 213.7,103.9 214.0,105.9 214.3,111.4 214.6,118.9 214.9,126.5 215.2,132.1 215.5,134.2 215.8,132.2 216.1,126.6 216.5,119.0 216.8,111.3 217.1,105.7 217.4,103.6 217.7,105.7 218.0,111.3 218.3,119.1 218.6,127.0 218.9,132.8 219.3,134.9 219.6,132.9 219.9,127.1 220.2,119.2 220.5,111.3 220.8,105.5 221.1,103.3 221.4,105.4 221.7,111.3 222.0,119.3 222.4,127.5 222.7,133.4 223.0,135.7 223.3,133.5 223.6,127.6 223.9,119.5 224.2,111.3 224.5,105.2 224.8,103.0 225.1,105.2 225.5,111.3 225.8,119.8 226.1,128.4 226.4,134.8 226.7,137.2 227.0,135.1 227.3,128.9 227.6,120.3 227.9,111.6 228.2,105.1 228.6,102.7 228.9,105.1 229.2,111.7 229.5,120.8 229.8,130.0 230.1,136.8 230.4,139.5 230.7,137.2 231.0,130.5 231.4,121.3 231.7,112.0 232.0,105.0 232.3,102.5 232.6,105.0 232.9,112.1 233.2,121.8 233.5,131.6 233.8,138.9 234.1,141.7 234.5,139.3 234.8,132.2 235.1,122.3 235.4,112.3 235.7,105.0 236.0,102.2 236.3,105.0 236.6,112.5 236.9,122.8 237.2,133.2 237.6,141.0 237.9,144.0 238.2,141.3 238.5,133.8 238.8,123.3 239.1,112.7 239.4,104.9 239.7,102.0 240.0,104.9 240.3,112.7 240.7,123.6 241.0,134.4 241.3,142.4 241.6,145.4 241.9,142.5 242.2,134.6 242.5,123.7 242.8,112.8 243.1,104.7 243.5,101.7 243.8,104.7 244.1,112.7 244.4,123.8 244.7,134.9 245.0,143.1 245.3,146.2 245.6,143.2 245.9,135.1 246.2,123.9 246.6,112.7 246.9,104.5 247.2,101.5 247.5,104.5 247.8,112.8 248.1,124.1 248.4,135.4 248.7,143.8 249.0,146.9 249.3,143.9 249.7,135.6 250.0,124.2 250.3,112.7 250.6,104.3 250.9,101.2 251.2,104.3 251.5,112.8 251.8,124.3 252.1,135.9 252.4,144.5 252.8,147.7 253.1,144.6 253.4,136.1 253.7,124.4 254.0,112.8 254.3,104.2 254.6,101.0 254.9,104.1 255.2,112.7 255.6,124.5 255.9,136.3 256.2,144.9 256.5,148.0" stroke="#cac232" stroke-width="1.25" stroke-opacity="1"/>
<path d="M32.7,199.7 33.9,193.9 35.0,188.1 36.1,184.8 37.2,182.4 38.4,180.1 39.5,177.7 40.6,175.9 41.7,174.2 42.9,172.5 44.0,171.0 45.1,169.5 46.2,168.0 47.4,167.0 48.5,166.0 49.6,165.0 50.8,164.0 51.9,163.2 53.0,162.3 54.1,161.5 55.3,160.6 56.4,159.8 57.5,159.0 58.6,158.4 59.8,157.8 60.9,157.2 62.0,156.6 63.1,156.0 64.3,155.4 65.4,154.8 66.5,154.2 67.6,153.6 68.8,153.0 69.9,152.7 71.0,152.3 72.1,152.0 73.3,151.6 74.4,151.3 75.5,150.9 76.6,150.6 77.8,150.2 78.9,149.9 80.0,149.5 81.1,149.2 82.3,148.9 83.4,148.5 84.5,148.2 85.6,147.8 86.8,147.5 87.9,147.1 89.0,146.8 90.1,146.4 91.3,146.1 92.4,145.7 93.5,145.4 94.6,145.0 95.8,144.7 96.9,144.4 98.0,144.1 99.2,143.8 100.3,143.4 101.4,143.1 102.5,142.8 103.7,142.5 104.8,142.2 105.9,141.8 107.0,141.5 108.2,141.2 109.3,140.9 110.4,140.6 111.5,140.4 112.7,140.1 113.8,139.9 114.9,139.7 116.0,139.5 117.2,139.3 118.3,139.0 119.4,138.8 120.5,138.6 121.7,138.4 122.8,138.1 123.9,137.9 125.0,137.7 126.2,137.5 127.3,137.3 128.4,137.0 129.5,136.8 130.7,136.6 131.8,136.4 132.9,136.1 134.0,135.9 135.2,135.7 136.3,135.5 137.4,135.3 138.5,135.0 139.7,134.8 140.8,134.6 141.9,134.4 143.1,134.1 144.2,133.9 145.3,133.7 146.4,133.5 147.6,133.2 148.7,133.0 149.8,132.8 150.9,132.6 152.1,132.3 153.2,132.1 154.3,131.9 155.4,131.7 156.6,131.4 157.7,131.2 158.8,131.0 159.9,130.8 161.1,130.5 162.2,130.3 163.3,130.1 164.4,129.9 165.6,129.7 166.7,129.5 167.8,129.3 168.9,129.1 170.1,128.9 171.2,128.7 172.3,128.5 173.4,128.3 174.6,128.1 175.7,127.9 176.8,127.7 177.9,127.5 179.1,127.3 180.2,127.1 181.3,126.9 182.4,126.7 183.6,126.5 184.7,126.3 185.8,126.1 187.0,125.9 188.1,125.7 189.2,125.5 190.3,125.3 191.5,125.0 192.6,124.8 193.7,124.6 194.8,124.4 196.0,124.4 197.1,124.3 198.2,124.2 199.3,124.1 200.5,124.0 201.6,123.9 202.7,123.9 203.8,123.8 205.0,123.7 206.1,123.6 207.2,123.5 208.3,123.4 209.5,123.3 210.6,123.3 211.7,123.2 212.8,123.1 214.0,123.0 215.1,122.9 216.2,122.8 217.3,122.7 218.5,122.7 219.6,122.6 220.7,122.5 221.8,122.4 223.0,122.3 224.1,122.2 225.2,122.2 226.3,122.1 227.5,122.0 228.6,121.9 229.7,121.9 230.9,121.8 232.0,121.7 233.1,121.6 234.2,121.5 235.4,121.5 236.5,121.4 237.6,121.3 238.7,121.2 239.9,121.2 241.0,121.1 242.1,121.0 243.2,120.9 244.4,120.9 245.5,120.8 246.6,120.7 247.7,120.6 248.9,120.6 250.0,120.5 251.1,120.4 252.2,120.3 253.4,120.3 254.5,120.2 255.6,120.2 256.7,120.2 256.7,131.7 255.6,131.7 254.5,131.7 253.4,131.8 252.2,132.0 251.1,132.1 250.0,132.2 248.9,132.4 247.7,132.5 246.6,132.7 245.5,132.8 244.4,132.9 243.2,133.1 242.1,133.2 241.0,133.4 239.9,133.5 238.7,133.6 237.6,133.8 236.5,133.9 235.4,134.0 234.2,134.2 233.1,134.3 232.0,134.5 230.9,134.6 229.7,134.7 228.6,134.9 227.5,135.0 226.3,135.1 225.2,135.3 224.1,135.4 223.0,135.6 221.8,135.8 220.7,136.0 219.6,136.1 218.5,136.3 217.3,136.5 216.2,136.7 215.1,136.8 214.0,137.0 212.8,137.2 211.7,137.3 210.6,137.5 209.5,137.7 208.3,137.9 207.2,138.0 206.1,138.2 205.0,138.4 203.8,138.6 202.7,138.7 201.6,138.9 200.5,139.1 199.3,139.3 198.2,139.4 197.1,139.6 196.0,139.8 194.8,140.0 193.7,140.3 192.6,140.6 191.5,140.9 190.3,141.2 189.2,141.5 188.1,141.8 187.0,142.1 185.8,142.5 184.7,142.8 183.6,143.1 182.4,143.4 181.3,143.7 180.2,144.0 179.1,144.4 177.9,144.7 176.8,145.0 175.7,145.3 174.6,145.6 173.4,145.9 172.3,146.2 171.2,146.6 170.1,146.9 168.9,147.2 167.8,147.5 166.7,147.8 165.6,148.1 164.4,148.4 163.3,148.8 162.2,149.1 161.1,149.4 159.9,149.7 158.8,150.1 157.7,150.4 156.6,150.8 155.4,151.1 154.3,151.4 153.2,151.8 152.1,152.1 150.9,152.5 149.8,152.8 148.7,153.2 147.6,153.5 146.4,153.8 145.3,154.2 144.2,154.5 143.1,154.9 141.9,155.2 140.8,155.5 139.7,155.8 138.5,156.0 137.4,156.2 136.3,156.4 135.2,156.7 134.0,156.9 132.9,157.1 131.8,157.3 130.7,157.5 129.5,157.7 128.4,157.9 127.3,158.1 126.2,158.3 125.0,158.5 123.9,158.7 122.8,158.9 121.7,159.1 120.5,159.3 119.4,159.6 118.3,159.8 117.2,160.0 116.0,160.2 114.9,160.4 113.8,160.6 112.7,160.8 111.5,161.0 110.4,161.2 109.3,161.4 108.2,161.6 107.0,161.8 105.9,162.0 104.8,162.1 103.7,162.3 102.5,162.5 101.4,162.7 100.3,162.9 99.2,163.1 98.0,163.3 96.9,163.4 95.8,163.6 94.6,163.8 93.5,164.0 92.4,164.2 91.3,164.4 90.1,164.6 89.0,164.8 87.9,165.0 86.8,165.2 85.6,165.4 84.5,165.6 83.4,165.8 82.3,166.0 81.1,166.2 80.0,166.4 78.9,166.6 77.8,166.8 76.6,167.0 75.5,167.2 74.4,167.4 73.3,167.6 72.1,167.8 71.0,168.0 69.9,168.2 68.8,168.4 67.6,168.8 66.5,169.4 65.4,169.9 64.3,170.4 63.1,170.9 62.0,171.4 60.9,171.9 59.8,172.5 58.6,173.0 57.5,173.5 56.4,174.2 55.3,174.9 54.1,175.6 53.0,176.3 51.9,177.0 50.8,177.7 49.6,178.4 48.5,179.2 47.4,179.9 46.2,180.7 45.1,182.2 44.0,183.7 42.9,185.2 41.7,186.6 40.6,188.0 39.5,189.5 38.4,191.7 37.2,193.9 36.1,196.2 35.0,198.7 33.9,201.9 32.7,205.1Z" fill="#ff8080" fill-opacity="0.5" stroke="none"/>
<path d="M30.5,260.0 31.6,230.0 32.8,205.5 33.1,209.1 33.4,203.6 33.7,198.5 34.0,193.9 34.3,190.1 34.7,187.1 35.0,184.8 35.3,183.4 35.6,184.2 35.9,186.0 36.2,189.2 36.5,194.5 36.8,204.0 37.1,193.3 37.5,186.6 37.8,182.0 38.1,178.9 38.4,176.8 38.7,175.7 39.0,175.4 39.3,176.2 39.6,178.1 39.9,181.6 40.2,187.4 40.6,197.9 40.9,186.5 41.2,179.7 41.5,175.1 41.8,172.0 42.1,170.0 42.4,169.1 42.7,169.1 43.0,170.2 43.3,172.4 43.7,176.1 44.0,182.2 44.3,193.5 44.6,181.4 44.9,174.4 45.2,169.9 45.5,166.8 45.8,164.9 46.1,164.1 46.4,164.2 46.8,165.4 47.1,167.8 47.4,171.7 47.7,178.1 48.0,190.1 48.3,177.6 48.6,170.6 48.9,166.0 49.2,163.0 49.6,161.3 49.9,160.5 50.2,160.7 50.5,161.9 50.8,164.3 51.1,168.4 51.4,175.2 51.7,188.2 52.0,174.8 52.3,167.5 52.7,162.9 53.0,159.9 53.3,158.1 53.6,157.4 53.9,157.6 54.2,158.9 54.5,161.5 54.8,165.7 55.1,172.6 55.4,186.3 55.8,172.2 56.1,164.7 56.4,160.0 56.7,157.0 57.0,155.2 57.3,154.5 57.6,154.8 57.9,156.2 58.2,158.8 58.5,163.1 58.9,170.3 59.2,184.6 59.5,170.0 59.8,162.5 60.1,157.8 60.4,154.8 60.7,153.1 61.0,152.4 61.3,152.7 61.7,154.1 62.0,156.8 62.3,161.1 62.6,168.4 62.9,183.1 63.2,168.1 63.5,160.5 63.8,155.8 64.1,152.7 64.4,151.0 64.8,150.3 65.1,150.7 65.4,152.1 65.7,154.7 66.0,159.2 66.3,166.5 66.6,181.6 66.9,166.2 67.2,158.5 67.5,153.7 67.9,150.7 68.2,148.9 68.5,148.3 68.8,148.6 69.1,150.1 69.4,152.9 69.7,157.4 70.0,165.0 70.3,180.7 70.6,164.8 71.0,157.0 71.3,152.3 71.6,149.3 71.9,147.6 72.2,146.9 72.5,147.3 72.8,148.8 73.1,151.6 73.4,156.3 73.7,164.0 74.1,180.4 74.4,163.8 74.7,155.9 75.0,151.0 75.3,148.0 75.6,146.2 75.9,145.6 76.2,146.0 76.5,147.5 76.9,150.4 77.2,155.1 77.5,163.0 77.8,180.2 78.1,162.8 78.4,154.7 78.7,149.8 79.0,146.7 79.3,144.9 79.6,144.3 80.0,144.7 80.3,146.3 80.6,149.1 80.9,153.9 81.2,162.0 81.5,179.9 81.8,161.8 82.1,153.5 82.4,148.5 82.7,145.4 83.1,143.6 83.4,143.0 83.7,143.4 84.0,145.0 84.3,147.9 84.6,152.7 84.9,160.9 85.2,179.7 85.5,160.8 85.8,152.3 86.2,147.2 86.5,144.1 86.8,142.3 87.1,141.7 87.4,142.1 87.7,143.7 88.0,146.6 88.3,151.5 88.6,159.9 89.0,179.4 89.3,159.7 89.6,151.1 89.9,146.0 90.2,142.8 90.5,141.0 90.8,140.4 91.1,140.8 91.4,142.4 91.7,145.3 92.1,150.3 92.4,158.8 92.7,179.1 93.0,158.6 93.3,149.9 93.6,144.7 93.9,141.5 94.2,139.7 94.5,139.1 94.8,139.5 95.2,141.1 95.5,144.1 95.8,149.1 96.1,157.8 96.4,178.9 96.7,157.6 97.0,148.7 97.3,143.5 97.6,140.3 97.9,138.5 98.3,137.9 98.6,138.3 98.9,139.9 99.2,142.9 99.5,148.0 99.8,156.8 100.1,178.6 100.4,156.6 100.7,147.6 101.1,142.4 101.4,139.1 101.7,137.3 102.0,136.7 102.3,137.1 102.6,138.8 102.9,141.8 103.2,146.9 103.5,155.8 103.8,178.4 104.2,155.6 104.5,146.5 104.8,141.2 105.1,138.0 105.4,136.1 105.7,135.5 106.0,135.9 106.3,137.6 106.6,140.6 106.9,145.8 107.3,154.8 107.6,178.1 107.9,154.6 108.2,145.4 108.5,140.1 108.8,136.8 109.1,135.0 109.4,134.3 109.7,134.8 110.0,136.4 110.4,139.5 110.7,144.7 111.0,153.8 111.3,177.7 111.6,153.7 111.9,144.4 112.2,139.1 112.5,135.9 112.8,134.1 113.2,133.4 113.5,133.9 113.8,135.6 114.1,138.7 114.4,143.9 114.7,153.1 115.0,177.1 115.3,153.0 115.6,143.7 115.9,138.4 116.3,135.1 116.6,133.3 116.9,132.7 117.2,133.2 117.5,134.9 117.8,138.0 118.1,143.2 118.4,152.4 118.7,176.4 119.0,152.2 119.4,142.9 119.7,137.6 120.0,134.4 120.3,132.6 120.6,132.0 120.9,132.4 121.2,134.1 121.5,137.2 121.8,142.5 122.1,151.6 122.5,175.8 122.8,151.5 123.1,142.2 123.4,136.9 123.7,133.6 124.0,131.8 124.3,131.2 124.6,131.7 124.9,133.4 125.2,136.5 125.6,141.7 125.9,150.9 126.2,175.2 126.5,150.8 126.8,141.5 127.1,136.1 127.4,132.9 127.7,131.1 128.0,130.5 128.4,130.9 128.7,132.6 129.0,135.8 129.3,141.0 129.6,150.2 129.9,174.5 130.2,150.1 130.5,140.7 130.8,135.4 131.1,132.1 131.5,130.3 131.8,129.7 132.1,130.2 132.4,131.9 132.7,135.0 133.0,140.2 133.3,149.5 133.6,173.9 133.9,149.3 134.2,140.0 134.6,134.6 134.9,131.4 135.2,129.6 135.5,129.0 135.8,129.5 136.1,131.1 136.4,134.3 136.7,139.5 137.0,148.7 137.3,173.2 137.7,148.6 138.0,139.2 138.3,133.9 138.6,130.6 138.9,128.8 139.2,128.2 139.5,128.7 139.8,130.4 140.1,133.5 140.5,138.8 140.8,148.0 141.1,172.4 141.4,147.9 141.7,138.5 142.0,133.2 142.3,130.0 142.6,128.2 142.9,127.6 143.2,128.1 143.6,129.7 143.9,132.9 144.2,138.1 144.5,147.2 144.8,170.9 145.1,147.1 145.4,137.8 145.7,132.5 146.0,129.3 146.3,127.5 146.7,126.9 147.0,127.4 147.3,129.1 147.6,132.2 147.9,137.4 148.2,146.4 148.5,169.5 148.8,146.3 149.1,137.2 149.4,131.9 149.8,128.7 150.1,126.9 150.4,126.3 150.7,126.8 151.0,128.5 151.3,131.6 151.6,136.7 151.9,145.6 152.2,168.1 152.6,145.5 152.9,136.5 153.2,131.2 153.5,128.1 153.8,126.3 154.1,125.7 154.4,126.2 154.7,127.8 155.0,130.9 155.3,136.0 155.7,144.8 156.0,166.6 156.3,144.7 156.6,135.8 156.9,130.6 157.2,127.4 157.5,125.7 157.8,125.1 158.1,125.6 158.4,127.2 158.8,130.3 159.1,135.3 159.4,144.1 159.7,165.2 160.0,143.9 160.3,135.1 160.6,129.9 160.9,126.8 161.2,125.0 161.5,124.4 161.9,124.9 162.2,126.6 162.5,129.6 162.8,134.6 163.1,143.3 163.4,163.8 163.7,143.2 164.0,134.4 164.3,129.3 164.6,126.2 165.0,124.5 165.3,123.9 165.6,124.4 165.9,126.0 166.2,129.0 166.5,134.0 166.8,142.5 167.1,162.5 167.4,142.4 167.8,133.8 168.1,128.7 168.4,125.6 168.7,123.9 169.0,123.3 169.3,123.8 169.6,125.5 169.9,128.5 170.2,133.4 170.5,141.8 170.9,161.1 171.2,141.7 171.5,133.2 171.8,128.2 172.1,125.1 172.4,123.4 172.7,122.8 173.0,123.3 173.3,124.9 173.6,127.9 174.0,132.8 174.3,141.1 174.6,159.8 174.9,140.9 175.2,132.5 175.5,127.6 175.8,124.5 176.1,122.8 176.4,122.2 176.7,122.7 177.1,124.3 177.4,127.3 177.7,132.1 178.0,140.3 178.3,158.4 178.6,140.2 178.9,131.9 179.2,127.0 179.5,123.9 179.9,122.2 180.2,121.7 180.5,122.2 180.8,123.7 181.1,126.7 181.4,131.5 181.7,139.5 182.0,157.1 182.3,139.4 182.6,131.3 183.0,126.4 183.3,123.4 183.6,121.7 183.9,121.1 184.2,121.6 184.5,123.2 184.8,126.1 185.1,130.8 185.4,138.8 185.7,155.7 186.1,138.6 186.4,130.6 186.7,125.8 187.0,122.8 187.3,121.1 187.6,120.6 187.9,121.0 188.2,122.6 188.5,125.5 188.8,130.2 189.2,138.0 189.5,154.4 189.8,137.9 190.1,130.0 190.4,125.2 190.7,122.2 191.0,120.6 191.3,120.0 191.6,120.5 192.0,122.0 192.3,124.9 192.6,129.5 192.9,137.2 193.2,153.1 193.5,137.1 193.8,129.3 194.1,124.6 194.4,121.7 194.7,120.0 195.1,119.5 195.4,120.0 195.7,121.6 196.0,124.4 196.3,129.0 196.6,136.6 196.9,152.0 197.2,136.6 197.5,128.9 197.8,124.3 198.2,121.4 198.5,119.8 198.8,119.3 199.1,119.8 199.4,121.4 199.7,124.2 200.0,128.8 200.3,136.2 200.6,151.2 200.9,136.2 201.3,128.7 201.6,124.1 201.9,121.2 202.2,119.6 202.5,119.1 202.8,119.6 203.1,121.2 203.4,124.0 203.7,128.5 204.1,135.9 204.4,150.4 204.7,135.8 205.0,128.4 205.3,123.8 205.6,121.0 205.9,119.4 206.2,118.9 206.5,119.4 206.8,121.0 207.2,123.7 207.5,128.2 207.8,135.5 208.1,149.6 208.4,135.4 208.7,128.1 209.0,123.6 209.3,120.8 209.6,119.3 209.9,118.7 210.3,119.2 210.6,120.7 210.9,123.5 211.2,127.9 211.5,135.1 211.8,148.8 212.1,135.0 212.4,127.8 212.7,123.4 213.0,120.6 213.4,119.1 213.7,118.6 214.0,119.0 214.3,120.5 214.6,123.3 214.9,127.6 215.2,134.7 215.5,148.0 215.8,134.6 216.1,127.6 216.5,123.2 216.8,120.4 217.1,118.9 217.4,118.4 217.7,118.8 218.0,120.3 218.3,123.0 218.6,127.4 218.9,134.3 219.3,147.2 219.6,134.2 219.9,127.3 220.2,122.9 220.5,120.2 220.8,118.7 221.1,118.2 221.4,118.6 221.7,120.1 222.0,122.8 222.4,127.1 222.7,133.9 223.0,146.4 223.3,133.8 223.6,127.0 223.9,122.7 224.2,120.0 224.5,118.5 224.8,118.0 225.1,118.5 225.5,119.9 225.8,122.6 226.1,126.8 226.4,133.5 226.7,145.7 227.0,133.4 227.3,126.7 227.6,122.5 227.9,119.8 228.2,118.3 228.6,117.8 228.9,118.3 229.2,119.7 229.5,122.4 229.8,126.5 230.1,133.1 230.4,145.0 230.7,133.1 231.0,126.4 231.4,122.3 231.7,119.6 232.0,118.1 232.3,117.6 232.6,118.1 232.9,119.5 233.2,122.1 233.5,126.3 233.8,132.8 234.1,144.4 234.5,132.7 234.8,126.2 235.1,122.0 235.4,119.4 235.7,117.9 236.0,117.4 236.3,117.9 236.6,119.3 236.9,121.9 237.2,126.0 237.6,132.4 237.9,143.8 238.2,132.4 238.5,125.9 238.8,121.8 239.1,119.2 239.4,117.7 239.7,117.2 240.0,117.7 240.3,119.1 240.7,121.7 241.0,125.7 241.3,132.1 241.6,143.2 241.9,132.0 242.2,125.7 242.5,121.6 242.8,119.0 243.1,117.5 243.5,117.1 243.8,117.5 244.1,118.9 244.4,121.5 244.7,125.5 245.0,131.7 245.3,142.5 245.6,131.7 245.9,125.4 246.2,121.4 246.6,118.8 246.9,117.3 247.2,116.9 247.5,117.3 247.8,118.7 248.1,121.2 248.4,125.2 248.7,131.4 249.0,141.9 249.3,131.3 249.7,125.1 250.0,121.1 250.3,118.6 250.6,117.2 250.9,116.7 251.2,117.1 251.5,118.5 251.8,121.0 252.1,124.9 252.4,131.0 252.8,141.3 253.1,130.9 253.4,124.8 253.7,120.9 254.0,118.4 254.3,117.0 254.6,116.5 254.9,117.0 255.2,118.4 255.6,120.9 255.9,124.8 256.2,130.8 256.5,141.0" stroke="#ff3434" stroke-width="1.0" stroke-opacity="1"/>
</g>
<text x="30.50" y="219.80" text-anchor="middle" class="tl">0</text>
<text x="67.83" y="219.80" text-anchor="middle" class="tl">5</text>
<text x="105.17" y="219.80" text-anchor="middle" class="tl">10</text>
<text x="142.50" y="219.80" text-anchor="middle" class="tl">15</text>
<text x="179.83" y="219.80" text-anchor="middle" class="tl">20</text>
<text x="217.17" y="219.80" text-anchor="middle" class="tl">25</text>
<text x="254.50" y="219.80" text-anchor="middle" class="tl">30</text>
<text x="27.90" y="214.40" text-anchor="end" class="tl">10<tspan dy="-4.1" class="sup">-2</tspan></text>
<text x="27.90" y="174.26" text-anchor="end" class="tl">10<tspan dy="-4.1" class="sup">-1</tspan></text>
<text x="27.90" y="134.12" text-anchor="end" class="tl">10<tspan dy="-4.1" class="sup">0</tspan></text>
<text x="27.90" y="93.98" text-anchor="end" class="tl">10<tspan dy="-4.1" class="sup">1</tspan></text>
<text x="27.90" y="53.84" text-anchor="end" class="tl">10<tspan dy="-4.1" class="sup">2</tspan></text>
<text x="27.90" y="13.70" text-anchor="end" class="tl">10<tspan dy="-4.1" class="sup">3</tspan></text>
<text x="142.50" y="229.80" text-anchor="middle" class="xl">Time [d]</text>
<text transform="translate(12.20,109.85) rotate(-90)" text-anchor="middle" class="xl">Distance from orbit calculated by FEM method [m]</text>
<text x="138.40" y="246.40" text-anchor="middle" class="pl">(a)</text>
<rect x="129.4" y="47.3" width="120.70" height="34.80" fill="#fff" stroke="#b0b0b0" stroke-width="0.9"/>
<path d="M130.90,52.00h10.6" stroke="#3c3cff" stroke-width="0.95"/>
<text x="142.60" y="54.30" class="lg">J2+J3+J4+T2</text>
<path d="M130.90,60.45h10.6" stroke="#10eaf0" stroke-width="0.95"/>
<text x="142.60" y="62.75" class="lg">J2+J3+J4+T2+T3+T4</text>
<path d="M130.90,68.90h10.6" stroke="#c4bc30" stroke-width="0.95"/>
<text x="142.60" y="71.20" class="lg">J2+J3+J4+J5+T2+T3+T4+T5</text>
<path d="M130.90,77.35h10.6" stroke="#ff3030" stroke-width="0.95"/>
<text x="142.60" y="79.65" class="lg">J2+J3+J4+J5+J6+T2+T3+T4+T5+T6</text>
<clipPath id="clipb"><rect x="316.9" y="9.5" width="224.1" height="200.7"/></clipPath>
<rect x="317.5" y="9.5" width="223.5" height="200.7" fill="none" stroke="#b0b0b0" stroke-width="1"/>
<path d="M317.50,210.2v-2.2M317.50,9.5v2.2M354.75,210.2v-2.2M354.75,9.5v2.2M392.00,210.2v-2.2M392.00,9.5v2.2M429.25,210.2v-2.2M429.25,9.5v2.2M466.50,210.2v-2.2M466.50,9.5v2.2M503.75,210.2v-2.2M503.75,9.5v2.2M541.00,210.2v-2.2M541.00,9.5v2.2M317.5,210.20h2.2M541.0,210.20h-2.2M317.5,198.12h1.2M541.0,198.12h-1.2M317.5,191.05h1.2M541.0,191.05h-1.2M317.5,186.03h1.2M541.0,186.03h-1.2M317.5,182.14h1.2M541.0,182.14h-1.2M317.5,178.97h1.2M541.0,178.97h-1.2M317.5,176.28h1.2M541.0,176.28h-1.2M317.5,173.95h1.2M541.0,173.95h-1.2M317.5,171.90h1.2M541.0,171.90h-1.2M317.5,170.06h2.2M541.0,170.06h-2.2M317.5,157.98h1.2M541.0,157.98h-1.2M317.5,150.91h1.2M541.0,150.91h-1.2M317.5,145.89h1.2M541.0,145.89h-1.2M317.5,142.00h1.2M541.0,142.00h-1.2M317.5,138.83h1.2M541.0,138.83h-1.2M317.5,136.14h1.2M541.0,136.14h-1.2M317.5,133.81h1.2M541.0,133.81h-1.2M317.5,131.76h1.2M541.0,131.76h-1.2M317.5,129.92h2.2M541.0,129.92h-2.2M317.5,117.84h1.2M541.0,117.84h-1.2M317.5,110.77h1.2M541.0,110.77h-1.2M317.5,105.75h1.2M541.0,105.75h-1.2M317.5,101.86h1.2M541.0,101.86h-1.2M317.5,98.69h1.2M541.0,98.69h-1.2M317.5,96.00h1.2M541.0,96.00h-1.2M317.5,93.67h1.2M541.0,93.67h-1.2M317.5,91.62h1.2M541.0,91.62h-1.2M317.5,89.78h2.2M541.0,89.78h-2.2M317.5,77.70h1.2M541.0,77.70h-1.2M317.5,70.63h1.2M541.0,70.63h-1.2M317.5,65.61h1.2M541.0,65.61h-1.2M317.5,61.72h1.2M541.0,61.72h-1.2M317.5,58.55h1.2M541.0,58.55h-1.2M317.5,55.86h1.2M541.0,55.86h-1.2M317.5,53.53h1.2M541.0,53.53h-1.2M317.5,51.48h1.2M541.0,51.48h-1.2M317.5,49.64h2.2M541.0,49.64h-2.2M317.5,37.56h1.2M541.0,37.56h-1.2M317.5,30.49h1.2M541.0,30.49h-1.2M317.5,25.47h1.2M541.0,25.47h-1.2M317.5,21.58h1.2M541.0,21.58h-1.2M317.5,18.41h1.2M541.0,18.41h-1.2M317.5,15.72h1.2M541.0,15.72h-1.2M317.5,13.39h1.2M541.0,13.39h-1.2M317.5,11.34h1.2M541.0,11.34h-1.2" stroke="#b0b0b0" stroke-width="0.8" fill="none"/>
<g clip-path="url(#clipb)" fill="none" stroke-linejoin="round">
<path d="M317.5,230.0 317.8,150.0 318.2,106.0 319.0,104.0 319.4,103.9 319.7,103.5 320.0,103.7 320.3,104.3 320.7,105.1 321.0,106.2 321.3,106.9 321.6,106.7 321.9,105.1 322.2,102.4 322.5,99.0 322.8,95.6 323.1,92.8 323.4,91.0 323.7,91.0 324.0,92.0 324.3,93.3 324.6,94.4 324.9,94.8 325.2,94.7 325.5,93.6 325.8,91.8 326.1,89.4 326.4,87.1 326.8,85.3 327.1,84.2 327.4,84.2 327.7,85.1 328.0,86.2 328.3,87.3 328.6,87.9 328.9,87.8 329.2,87.0 329.5,85.5 329.8,83.6 330.1,81.7 330.4,80.2 330.7,79.4 331.0,79.5 331.3,80.2 331.6,81.3 331.9,82.4 332.2,83.1 332.6,83.2 332.9,82.5 333.2,81.1 333.5,79.4 333.8,77.6 334.1,76.1 334.4,75.4 334.7,75.5 335.0,76.3 335.3,77.5 335.6,78.8 335.9,79.6 336.2,79.7 336.5,79.0 336.8,77.7 337.1,75.9 337.4,74.1 337.7,72.7 338.0,72.0 338.3,72.1 338.7,73.0 339.0,74.3 339.3,75.5 339.6,76.3 339.9,76.4 340.2,75.8 340.5,74.6 340.8,72.9 341.1,71.2 341.4,69.9 341.7,69.2 342.0,69.3 342.3,70.2 342.6,71.6 342.9,73.0 343.2,74.0 343.5,74.3 343.8,73.7 344.1,72.5 344.5,70.7 344.8,69.0 345.1,67.7 345.4,67.1 345.7,67.4 346.0,68.4 346.3,69.9 346.6,71.4 346.9,72.4 347.2,72.7 347.5,72.1 347.8,70.8 348.1,69.0 348.4,67.3 348.7,65.9 349.0,65.3 349.3,65.6 349.6,66.7 349.9,68.2 350.2,69.7 350.6,70.8 350.9,71.1 351.2,70.5 351.5,69.2 351.8,67.3 352.1,65.5 352.4,64.1 352.7,63.5 353.0,63.8 353.3,64.9 353.6,66.5 353.9,68.1 354.2,69.2 354.5,69.5 354.8,68.9 355.1,67.5 355.4,65.6 355.7,63.7 356.0,62.3 356.4,61.7 356.7,62.0 357.0,63.2 357.3,64.8 357.6,66.4 357.9,67.6 358.2,67.9 358.5,67.3 358.8,65.9 359.1,63.9 359.4,62.0 359.7,60.5 360.0,59.9 360.3,60.2 360.6,61.4 360.9,63.1 361.2,64.8 361.5,66.0 361.8,66.4 362.1,65.7 362.5,64.2 362.8,62.3 363.1,60.3 363.4,58.8 363.7,58.2 364.0,58.5 364.3,59.8 364.6,61.5 364.9,63.2 365.2,64.4 365.5,64.8 365.8,64.2 366.1,62.7 366.4,60.7 366.7,58.7 367.0,57.2 367.3,56.6 367.6,57.0 367.9,58.2 368.3,59.9 368.6,61.7 368.9,62.9 369.2,63.3 369.5,62.6 369.8,61.1 370.1,59.1 370.4,57.2 370.7,55.7 371.0,55.0 371.3,55.4 371.6,56.6 371.9,58.4 372.2,60.1 372.5,61.4 372.8,61.7 373.1,61.1 373.4,59.6 373.7,57.6 374.0,55.7 374.4,54.2 374.7,53.6 375.0,54.0 375.3,55.3 375.6,57.1 375.9,59.0 376.2,60.4 376.5,60.8 376.8,60.2 377.1,58.7 377.4,56.6 377.7,54.6 378.0,53.0 378.3,52.3 378.6,52.8 378.9,54.2 379.2,56.1 379.5,58.1 379.8,59.6 380.2,60.1 380.5,59.4 380.8,57.8 381.1,55.6 381.4,53.4 381.7,51.8 382.0,51.1 382.3,51.6 382.6,53.1 382.9,55.2 383.2,57.3 383.5,58.8 383.8,59.3 384.1,58.7 384.4,57.1 384.7,54.8 385.0,52.6 385.3,50.9 385.6,50.3 386.0,50.8 386.3,52.4 386.6,54.5 386.9,56.6 387.2,58.1 387.5,58.7 387.8,58.0 388.1,56.4 388.4,54.1 388.7,51.9 389.0,50.2 389.3,49.5 389.6,50.1 389.9,51.6 390.2,53.8 390.5,55.9 390.8,57.5 391.1,58.0 391.4,57.3 391.7,55.7 392.1,53.4 392.4,51.1 392.7,49.4 393.0,48.8 393.3,49.3 393.6,50.9 393.9,53.0 394.2,55.2 394.5,56.8 394.8,57.3 395.1,56.7 395.4,55.0 395.7,52.7 396.0,50.4 396.3,48.7 396.6,48.0 396.9,48.5 397.2,50.1 397.5,52.3 397.9,54.5 398.2,56.1 398.5,56.7 398.8,56.0 399.1,54.3 399.4,52.0 399.7,49.6 400.0,47.9 400.3,47.2 400.6,47.8 400.9,49.4 401.2,51.6 401.5,53.8 401.8,55.4 402.1,56.0 402.4,55.3 402.7,53.6 403.0,51.3 403.3,48.9 403.6,47.2 404.0,46.5 404.3,47.0 404.6,48.6 404.9,50.9 405.2,53.1 405.5,54.8 405.8,55.3 406.1,54.7 406.4,52.9 406.7,50.5 407.0,48.2 407.3,46.4 407.6,45.7 407.9,46.3 408.2,47.9 408.5,50.2 408.8,52.5 409.1,54.1 409.4,54.7 409.8,54.0 410.1,52.2 410.4,49.8 410.7,47.4 411.0,45.6 411.3,44.9 411.6,45.5 411.9,47.2 412.2,49.5 412.5,51.8 412.8,53.4 413.1,54.0 413.4,53.3 413.7,51.5 414.0,49.1 414.3,46.7 414.6,44.9 414.9,44.2 415.2,44.7 415.5,46.4 415.9,48.7 416.2,51.1 416.5,52.8 416.8,53.3 417.1,52.6 417.4,50.8 417.7,48.4 418.0,45.9 418.3,44.1 418.6,43.4 418.9,44.0 419.2,45.7 419.5,48.0 419.8,50.4 420.1,52.1 420.4,52.7 420.7,52.0 421.0,50.1 421.3,47.7 421.7,45.2 422.0,43.4 422.3,42.6 422.6,43.2 422.9,44.9 423.2,47.3 423.5,49.7 423.8,51.4 424.1,52.0 424.4,51.3 424.7,49.5 425.0,47.0 425.3,44.5 425.6,42.6 425.9,41.9 426.2,42.5 426.5,44.2 426.8,46.6 427.1,49.0 427.4,50.7 427.8,51.3 428.1,50.6 428.4,48.8 428.7,46.2 429.0,43.7 429.3,41.8 429.6,41.1 429.9,41.7 430.2,43.5 430.5,45.9 430.8,48.3 431.1,50.1 431.4,50.7 431.7,50.0 432.0,48.1 432.3,45.5 432.6,43.0 432.9,41.1 433.2,40.4 433.6,41.0 433.9,42.8 434.2,45.3 434.5,47.7 434.8,49.5 435.1,50.2 435.4,49.5 435.7,47.6 436.0,45.1 436.3,42.5 436.6,40.7 436.9,40.0 437.2,40.6 437.5,42.4 437.8,44.9 438.1,47.4 438.4,49.2 438.7,49.8 439.0,49.1 439.3,47.2 439.7,44.7 440.0,42.1 440.3,40.2 440.6,39.5 440.9,40.2 441.2,42.0 441.5,44.5 441.8,47.0 442.1,48.8 442.4,49.4 442.7,48.7 443.0,46.9 443.3,44.3 443.6,41.7 443.9,39.8 444.2,39.1 444.5,39.8 444.8,41.6 445.1,44.1 445.5,46.6 445.8,48.4 446.1,49.1 446.4,48.4 446.7,46.5 447.0,43.9 447.3,41.3 447.6,39.4 447.9,38.7 448.2,39.4 448.5,41.2 448.8,43.7 449.1,46.2 449.4,48.0 449.7,48.7 450.0,48.0 450.3,46.1 450.6,43.5 450.9,40.9 451.3,39.0 451.6,38.3 451.9,38.9 452.2,40.8 452.5,43.3 452.8,45.8 453.1,47.7 453.4,48.3 453.7,47.6 454.0,45.7 454.3,43.1 454.6,40.5 454.9,38.6 455.2,37.9 455.5,38.5 455.8,40.4 456.1,42.9 456.4,45.4 456.7,47.3 457.0,48.0 457.4,47.2 457.7,45.3 458.0,42.7 458.3,40.1 458.6,38.2 458.9,37.5 459.2,38.1 459.5,40.0 459.8,42.5 460.1,45.1 460.4,46.9 460.7,47.6 461.0,46.9 461.3,44.9 461.6,42.3 461.9,39.7 462.2,37.8 462.5,37.1 462.8,37.7 463.2,39.6 463.5,42.1 463.8,44.7 464.1,46.5 464.4,47.2 464.7,46.5 465.0,44.6 465.3,41.9 465.6,39.3 465.9,37.4 466.2,36.6 466.5,37.3 466.8,39.2 467.1,41.7 467.4,44.3 467.7,46.2 468.0,46.8 468.3,46.1 468.6,44.2 468.9,41.5 469.3,38.9 469.6,37.0 469.9,36.2 470.2,36.9 470.5,38.8 470.8,41.3 471.1,43.9 471.4,45.8 471.7,46.5 472.0,45.7 472.3,43.8 472.6,41.1 472.9,38.5 473.2,36.5 473.5,35.8 473.8,36.5 474.1,38.4 474.4,40.9 474.7,43.5 475.1,45.4 475.4,46.1 475.7,45.4 476.0,43.4 476.3,40.7 476.6,38.1 476.9,36.1 477.2,35.4 477.5,36.1 477.8,38.0 478.1,40.5 478.4,43.1 478.7,45.0 479.0,45.7 479.3,45.0 479.6,43.0 479.9,40.4 480.2,37.7 480.5,35.7 480.8,35.0 481.2,35.7 481.5,37.5 481.8,40.2 482.1,42.8 482.4,44.7 482.7,45.3 483.0,44.6 483.3,42.6 483.6,40.0 483.9,37.3 484.2,35.3 484.5,34.6 484.8,35.2 485.1,37.1 485.4,39.8 485.7,42.4 486.0,44.3 486.3,45.0 486.6,44.2 487.0,42.3 487.3,39.6 487.6,36.9 487.9,34.9 488.2,34.1 488.5,34.8 488.8,36.7 489.1,39.4 489.4,42.0 489.7,43.9 490.0,44.6 490.3,43.9 490.6,41.9 490.9,39.2 491.2,36.5 491.5,34.5 491.8,33.7 492.1,34.4 492.4,36.3 492.7,39.0 493.1,41.6 493.4,43.5 493.7,44.2 494.0,43.5 494.3,41.5 494.6,38.8 494.9,36.1 495.2,34.1 495.5,33.3 495.8,34.0 496.1,35.9 496.4,38.6 496.7,41.2 497.0,43.2 497.3,43.9 497.6,43.1 497.9,41.1 498.2,38.4 498.5,35.7 498.9,33.7 499.2,32.9 499.5,33.6 499.8,35.5 500.1,38.2 500.4,40.8 500.7,42.8 501.0,43.5 501.3,42.7 501.6,40.7 501.9,38.0 502.2,35.3 502.5,33.2 502.8,32.5 503.1,33.2 503.4,35.1 503.7,37.8 504.0,40.5 504.3,42.4 504.6,43.1 505.0,42.4 505.3,40.3 505.6,37.6 505.9,34.9 506.2,32.8 506.5,32.1 506.8,32.8 507.1,34.7 507.4,37.4 507.7,40.1 508.0,42.0 508.3,42.7 508.6,42.0 508.9,40.0 509.2,37.2 509.5,34.5 509.8,32.4 510.1,31.7 510.4,32.4 510.8,34.3 511.1,37.0 511.4,39.7 511.7,41.7 512.0,42.4 512.3,41.6 512.6,39.6 512.9,36.8 513.2,34.0 513.5,32.0 513.8,31.2 514.1,31.9 514.4,33.9 514.7,36.6 515.0,39.3 515.3,41.3 515.6,42.0 515.9,41.2 516.2,39.2 516.6,36.4 516.9,33.6 517.2,31.6 517.5,30.8 517.8,31.5 518.1,33.5 518.4,36.2 518.7,38.9 519.0,40.9 519.3,41.6 519.6,40.9 519.9,38.8 520.2,36.0 520.5,33.2 520.8,31.2 521.1,30.4 521.4,31.1 521.7,33.1 522.0,35.8 522.3,38.6 522.7,40.5 523.0,41.2 523.3,40.5 523.6,38.4 523.9,35.6 524.2,32.8 524.5,30.8 524.8,30.0 525.1,30.7 525.4,32.7 525.7,35.4 526.0,38.2 526.3,40.2 526.6,40.9 526.9,40.1 527.2,38.0 527.5,35.2 527.8,32.4 528.1,30.4 528.5,29.6 528.8,30.3 529.1,32.3 529.4,35.1 529.7,37.8 530.0,39.8 530.3,40.6 530.6,39.8 530.9,37.7 531.2,34.9 531.5,32.1 531.8,30.1 532.1,29.3 532.4,30.0 532.7,32.0 533.0,34.8 533.3,37.6 533.6,39.6 533.9,40.3 534.2,39.5 534.6,37.5 534.9,34.7 535.2,31.8 535.5,29.8 535.8,29.0 536.1,29.7 536.4,31.8 536.7,34.5 537.0,37.3 537.3,39.3 537.6,40.0 537.9,39.3 538.2,37.2 538.5,34.4 538.8,31.6 539.1,29.5 539.4,28.7 539.7,29.4 540.0,31.5 540.4,34.2 540.7,37.0 541.0,39.1 541.3,39.8 541.6,39.0 541.9,37.0 542.2,34.2 542.5,31.4 542.8,29.4 543.1,28.6" stroke="#4a4aff" stroke-width="1.05" stroke-opacity="1"/>
<path d="M317.5,260.0 318.2,210.0 319.4,190.0 320.8,187.3 321.1,184.9 321.4,181.7 321.7,178.4 322.0,175.6 322.3,174.1 322.6,174.1 323.0,175.5 323.3,178.0 323.6,180.5 323.9,182.4 324.2,182.8 324.5,181.4 324.8,178.3 325.1,174.1 325.4,169.9 325.7,166.6 326.0,165.0 326.4,165.2 326.7,167.1 327.0,169.9 327.3,172.7 327.6,174.5 327.9,174.8 328.2,173.1 328.5,169.8 328.8,165.8 329.1,161.9 329.5,158.9 329.8,157.5 330.1,158.1 330.4,160.3 330.7,163.4 331.0,166.6 331.3,168.8 331.6,169.4 331.9,168.1 332.2,165.0 332.5,161.0 332.9,157.0 333.2,154.1 333.5,152.8 333.8,153.5 334.1,155.8 334.4,159.2 334.7,162.5 335.0,164.8 335.3,165.5 335.6,164.2 336.0,161.3 336.3,157.3 336.6,153.4 336.9,150.5 337.2,149.2 337.5,150.0 337.8,152.4 338.1,155.7 338.4,159.1 338.7,161.5 339.0,162.2 339.4,161.0 339.7,158.1 340.0,154.2 340.3,150.4 340.6,147.5 340.9,146.3 341.2,147.0 341.5,149.4 341.8,152.8 342.1,156.1 342.5,158.5 342.8,159.3 343.1,158.0 343.4,155.1 343.7,151.3 344.0,147.4 344.3,144.5 344.6,143.4 344.9,144.2 345.2,146.8 345.5,150.3 345.9,153.8 346.2,156.3 346.5,157.1 346.8,156.0 347.1,153.3 347.4,149.5 347.7,145.7 348.0,142.9 348.3,141.8 348.6,142.7 349.0,145.2 349.3,148.8 349.6,152.3 349.9,154.8 350.2,155.7 350.5,154.6 350.8,151.8 351.1,148.0 351.4,144.2 351.7,141.4 352.0,140.3 352.4,141.2 352.7,143.7 353.0,147.3 353.3,150.8 353.6,153.3 353.9,154.2 354.2,153.1 354.5,150.3 354.8,146.5 355.1,142.7 355.5,139.9 355.8,138.8 356.1,139.6 356.4,142.2 356.7,145.7 357.0,149.3 357.3,151.9 357.6,152.7 357.9,151.6 358.2,148.8 358.5,145.0 358.9,141.2 359.2,138.4 359.5,137.3 359.8,138.1 360.1,140.7 360.4,144.2 360.7,147.8 361.0,150.4 361.3,151.3 361.6,150.1 362.0,147.3 362.3,143.5 362.6,139.7 362.9,136.8 363.2,135.7 363.5,136.6 363.8,139.2 364.1,142.7 364.4,146.3 364.7,148.9 365.0,149.8 365.4,148.7 365.7,145.8 366.0,142.0 366.3,138.2 366.6,135.3 366.9,134.2 367.2,135.1 367.5,137.7 367.8,141.2 368.1,144.8 368.5,147.4 368.8,148.3 369.1,147.2 369.4,144.3 369.7,140.5 370.0,136.6 370.3,133.8 370.6,132.7 370.9,133.5 371.2,136.1 371.6,139.7 371.9,143.3 372.2,146.0 372.5,146.8 372.8,145.7 373.1,142.9 373.4,139.0 373.7,135.1 374.0,132.3 374.3,131.1 374.6,132.0 375.0,134.6 375.3,138.2 375.6,141.9 375.9,144.5 376.2,145.4 376.5,144.2 376.8,141.4 377.1,137.5 377.4,133.7 377.7,130.8 378.1,129.7 378.4,130.7 378.7,133.3 379.0,137.1 379.3,140.8 379.6,143.5 379.9,144.5 380.2,143.4 380.5,140.5 380.8,136.6 381.1,132.7 381.5,129.8 381.8,128.7 382.1,129.6 382.4,132.4 382.7,136.2 383.0,140.0 383.3,142.8 383.6,143.8 383.9,142.7 384.2,139.8 384.6,135.7 384.9,131.7 385.2,128.8 385.5,127.6 385.8,128.6 386.1,131.4 386.4,135.3 386.7,139.2 387.0,142.1 387.3,143.1 387.6,142.0 388.0,139.0 388.3,134.9 388.6,130.8 388.9,127.7 389.2,126.6 389.5,127.6 389.8,130.4 390.1,134.4 390.4,138.5 390.7,141.4 391.1,142.4 391.4,141.3 391.7,138.2 392.0,134.0 392.3,129.8 392.6,126.7 392.9,125.5 393.2,126.5 393.5,129.5 393.8,133.6 394.1,137.7 394.5,140.7 394.8,141.7 395.1,140.6 395.4,137.4 395.7,133.1 396.0,128.8 396.3,125.7 396.6,124.4 396.9,125.5 397.2,128.5 397.6,132.7 397.9,136.9 398.2,140.0 398.5,141.1 398.8,139.8 399.1,136.6 399.4,132.3 399.7,127.9 400.0,124.6 400.3,123.4 400.6,124.4 401.0,127.5 401.3,131.8 401.6,136.1 401.9,139.3 402.2,140.4 402.5,139.1 402.8,135.9 403.1,131.4 403.4,126.9 403.7,123.6 404.1,122.3 404.4,123.4 404.7,126.6 405.0,131.0 405.3,135.3 405.6,138.5 405.9,139.7 406.2,138.4 406.5,135.1 406.8,130.5 407.1,125.9 407.5,122.6 407.8,121.3 408.1,122.4 408.4,125.7 408.7,130.1 409.0,134.6 409.3,137.8 409.6,139.0 409.9,137.7 410.2,134.3 410.6,129.7 410.9,125.1 411.2,121.7 411.5,120.4 411.8,121.5 412.1,124.8 412.4,129.3 412.7,133.8 413.0,137.0 413.3,138.2 413.6,136.9 414.0,133.5 414.3,128.9 414.6,124.2 414.9,120.8 415.2,119.5 415.5,120.6 415.8,123.9 416.1,128.4 416.4,133.0 416.7,136.3 417.1,137.5 417.4,136.2 417.7,132.7 418.0,128.0 418.3,123.3 418.6,119.9 418.9,118.5 419.2,119.7 419.5,123.0 419.8,127.6 420.1,132.2 420.5,135.5 420.8,136.7 421.1,135.4 421.4,131.9 421.7,127.2 422.0,122.5 422.3,119.0 422.6,117.6 422.9,118.8 423.2,122.2 423.6,126.8 423.9,131.4 424.2,134.8 424.5,136.0 424.8,134.6 425.1,131.1 425.4,126.4 425.7,121.6 426.0,118.1 426.3,116.7 426.6,117.9 427.0,121.3 427.3,125.9 427.6,130.6 427.9,134.0 428.2,135.2 428.5,133.9 428.8,130.3 429.1,125.5 429.4,120.7 429.7,117.2 430.1,115.9 430.4,117.1 430.7,120.5 431.0,125.2 431.3,129.9 431.6,133.3 431.9,134.5 432.2,133.2 432.5,129.7 432.8,124.9 433.2,120.2 433.5,116.6 433.8,115.3 434.1,116.6 434.4,120.0 434.7,124.6 435.0,129.3 435.3,132.7 435.6,133.9 435.9,132.6 436.2,129.1 436.6,124.3 436.9,119.6 437.2,116.1 437.5,114.8 437.8,116.0 438.1,119.4 438.4,124.0 438.7,128.7 439.0,132.1 439.3,133.3 439.7,132.0 440.0,128.5 440.3,123.8 440.6,119.0 440.9,115.5 441.2,114.3 441.5,115.5 441.8,118.8 442.1,123.5 442.4,128.1 442.7,131.4 443.1,132.6 443.4,131.3 443.7,127.9 444.0,123.2 444.3,118.5 444.6,115.0 444.9,113.7 445.2,114.9 445.5,118.3 445.8,122.9 446.2,127.5 446.5,130.8 446.8,132.0 447.1,130.7 447.4,127.3 447.7,122.6 448.0,117.9 448.3,114.4 448.6,113.2 448.9,114.4 449.2,117.7 449.6,122.3 449.9,126.9 450.2,130.2 450.5,131.4 450.8,130.1 451.1,126.6 451.4,122.0 451.7,117.3 452.0,113.9 452.3,112.6 452.7,113.8 453.0,117.1 453.3,121.7 453.6,126.2 453.9,129.6 454.2,130.7 454.5,129.5 454.8,126.0 455.1,121.4 455.4,116.8 455.7,113.3 456.1,112.1 456.4,113.3 456.7,116.6 457.0,121.1 457.3,125.6 457.6,128.9 457.9,130.1 458.2,128.8 458.5,125.4 458.8,120.8 459.2,116.2 459.5,112.8 459.8,111.5 460.1,112.7 460.4,116.0 460.7,120.5 461.0,125.0 461.3,128.3 461.6,129.5 461.9,128.2 462.2,124.8 462.6,120.2 462.9,115.6 463.2,112.2 463.5,111.0 463.8,112.2 464.1,115.4 464.4,119.9 464.7,124.4 465.0,127.7 465.3,128.8 465.7,127.6 466.0,124.2 466.3,119.6 466.6,115.1 466.9,111.7 467.2,110.4 467.5,111.6 467.8,114.9 468.1,119.3 468.4,123.8 468.7,127.0 469.1,128.2 469.4,126.9 469.7,123.6 470.0,119.0 470.3,114.5 470.6,111.1 470.9,109.9 471.2,111.1 471.5,114.3 471.8,118.7 472.2,123.2 472.5,126.4 472.8,127.5 473.1,126.3 473.4,123.0 473.7,118.4 474.0,113.9 474.3,110.6 474.6,109.3 474.9,110.5 475.2,113.7 475.6,118.1 475.9,122.5 476.2,125.7 476.5,126.9 476.8,125.6 477.1,122.3 477.4,117.8 477.7,113.3 478.0,110.0 478.3,108.8 478.7,109.9 479.0,113.1 479.3,117.5 479.6,121.9 479.9,125.1 480.2,126.2 480.5,125.0 480.8,121.7 481.1,117.2 481.4,112.7 481.7,109.5 482.1,108.2 482.4,109.4 482.7,112.5 483.0,116.9 483.3,121.3 483.6,124.4 483.9,125.5 484.2,124.3 484.5,121.0 484.8,116.6 485.2,112.2 485.5,108.9 485.8,107.7 486.1,108.8 486.4,112.0 486.7,116.3 487.0,120.6 487.3,123.8 487.6,124.9 487.9,123.7 488.2,120.4 488.6,116.0 488.9,111.6 489.2,108.3 489.5,107.1 489.8,108.2 490.1,111.4 490.4,115.7 490.7,120.0 491.0,123.1 491.3,124.2 491.7,123.0 492.0,119.8 492.3,115.4 492.6,111.0 492.9,107.8 493.2,106.6 493.5,107.7 493.8,110.8 494.1,115.1 494.4,119.3 494.8,122.5 495.1,123.6 495.4,122.3 495.7,119.1 496.0,114.8 496.3,110.4 496.6,107.2 496.9,106.0 497.2,107.1 497.5,110.2 497.8,114.5 498.2,118.7 498.5,121.8 498.8,122.9 499.1,121.7 499.4,118.5 499.7,114.2 500.0,109.8 500.3,106.7 500.6,105.5 500.9,106.6 501.3,109.6 501.6,113.9 501.9,118.1 502.2,121.1 502.5,122.2 502.8,121.0 503.1,117.9 503.4,113.6 503.7,109.3 504.0,106.1 504.3,104.9 504.7,106.0 505.0,109.1 505.3,113.3 505.6,117.5 505.9,120.5 506.2,121.6 506.5,120.4 506.8,117.3 507.1,113.0 507.4,108.7 507.8,105.6 508.1,104.4 508.4,105.5 508.7,108.6 509.0,112.7 509.3,116.9 509.6,119.9 509.9,121.0 510.2,119.8 510.5,116.7 510.8,112.5 511.2,108.2 511.5,105.1 511.8,103.9 512.1,105.0 512.4,108.0 512.7,112.2 513.0,116.3 513.3,119.3 513.6,120.4 513.9,119.2 514.3,116.1 514.6,111.9 514.9,107.7 515.2,104.6 515.5,103.4 515.8,104.5 516.1,107.5 516.4,111.6 516.7,115.7 517.0,118.7 517.3,119.8 517.7,118.6 518.0,115.6 518.3,111.4 518.6,107.2 518.9,104.1 519.2,102.9 519.5,104.0 519.8,107.0 520.1,111.1 520.4,115.2 520.8,118.2 521.1,119.2 521.4,118.1 521.7,115.0 522.0,110.8 522.3,106.6 522.6,103.6 522.9,102.4 523.2,103.5 523.5,106.5 523.8,110.5 524.2,114.6 524.5,117.6 524.8,118.6 525.1,117.5 525.4,114.4 525.7,110.3 526.0,106.1 526.3,103.1 526.6,101.9 526.9,103.0 527.3,105.9 527.6,110.0 527.9,114.0 528.2,117.0 528.5,118.0 528.8,116.9 529.1,113.8 529.4,109.7 529.7,105.6 530.0,102.6 530.3,101.4 530.7,102.5 531.0,105.4 531.3,109.4 531.6,113.5 531.9,116.4 532.2,117.4 532.5,116.3 532.8,113.3 533.1,109.2 533.4,105.1 533.8,102.1 534.1,100.9 534.4,102.0 534.7,104.9 535.0,108.9 535.3,112.9 535.6,115.8 535.9,116.8 536.2,115.7 536.5,112.7 536.8,108.6 537.2,104.5 537.5,101.6 537.8,100.4 538.1,101.5 538.4,104.4 538.7,108.3 539.0,112.3 539.3,115.2 539.6,116.2 539.9,115.1 540.3,112.1 540.6,108.1 540.9,104.0 541.2,101.1 541.5,100.0 541.8,101.1 542.1,104.0 542.4,108.0 542.7,112.0 543.0,114.9" stroke="#10eaf0" stroke-width="1.5" stroke-opacity="1"/>
<path d="M317.5,260.0 318.2,210.0 319.4,190.0 320.8,181.5 321.1,179.4 321.4,176.7 321.7,174.1 322.0,171.9 322.3,170.7 322.6,170.4 323.0,171.1 323.3,172.4 323.6,173.6 323.9,174.4 324.2,174.2 324.5,173.0 324.8,170.8 325.1,168.0 325.4,165.3 325.7,163.0 326.0,161.7 326.4,161.5 326.7,162.3 327.0,163.7 327.3,165.1 327.6,165.9 327.9,165.8 328.2,164.5 328.5,162.2 328.8,159.5 329.1,156.9 329.5,154.9 329.8,153.9 330.1,154.1 330.4,155.2 330.7,156.8 331.0,158.5 331.3,159.6 331.6,159.7 331.9,158.7 332.2,156.7 332.5,154.2 332.9,151.8 333.2,150.0 333.5,149.1 333.8,149.4 334.1,150.6 334.4,152.3 334.7,154.1 335.0,155.3 335.3,155.5 335.6,154.7 336.0,152.9 336.3,150.5 336.6,148.2 336.9,146.4 337.2,145.6 337.5,145.9 337.8,147.1 338.1,148.9 338.4,150.7 338.7,151.9 339.0,152.2 339.4,151.4 339.7,149.7 340.0,147.4 340.3,145.0 340.6,143.3 340.9,142.4 341.2,142.7 341.5,144.0 341.8,145.8 342.1,147.7 342.5,148.9 342.8,149.3 343.1,148.4 343.4,146.6 343.7,144.3 344.0,141.9 344.3,140.1 344.6,139.4 344.9,139.8 345.2,141.3 345.5,143.3 345.9,145.3 346.2,146.7 346.5,147.1 346.8,146.5 347.1,144.8 347.4,142.5 347.7,140.3 348.0,138.6 348.3,137.9 348.6,138.4 349.0,139.8 349.3,141.8 349.6,143.8 349.9,145.2 350.2,145.7 350.5,145.0 350.8,143.3 351.1,141.1 351.4,138.8 351.7,137.1 352.0,136.4 352.4,136.9 352.7,138.3 353.0,140.3 353.3,142.3 353.6,143.8 353.9,144.2 354.2,143.5 354.5,141.8 354.8,139.6 355.1,137.3 355.5,135.7 355.8,135.0 356.1,135.4 356.4,136.8 356.7,138.8 357.0,140.8 357.3,142.3 357.6,142.7 357.9,142.0 358.2,140.4 358.5,138.1 358.9,135.9 359.2,134.2 359.5,133.5 359.8,133.9 360.1,135.4 360.4,137.4 360.7,139.4 361.0,140.8 361.3,141.3 361.6,140.6 362.0,138.9 362.3,136.6 362.6,134.4 362.9,132.7 363.2,132.0 363.5,132.5 363.8,133.9 364.1,135.9 364.4,137.9 364.7,139.3 365.0,139.8 365.4,139.1 365.7,137.4 366.0,135.2 366.3,132.9 366.6,131.2 366.9,130.5 367.2,131.0 367.5,132.4 367.8,134.4 368.1,136.4 368.5,137.9 368.8,138.3 369.1,137.6 369.4,135.9 369.7,133.7 370.0,131.4 370.3,129.8 370.6,129.1 370.9,129.5 371.2,130.9 371.6,133.0 371.9,135.0 372.2,136.4 372.5,136.8 372.8,136.1 373.1,134.5 373.4,132.2 373.7,130.0 374.0,128.3 374.3,127.6 374.6,128.0 375.0,129.5 375.3,131.5 375.6,133.5 375.9,134.9 376.2,135.4 376.5,134.7 376.8,133.0 377.1,130.7 377.4,128.5 377.7,126.9 378.1,126.2 378.4,126.7 378.7,128.2 379.0,130.2 379.3,132.3 379.6,133.8 379.9,134.2 380.2,133.6 380.5,132.0 380.8,129.7 381.1,127.5 381.5,125.9 381.8,125.2 382.1,125.7 382.4,127.2 382.7,129.2 383.0,131.3 383.3,132.8 383.6,133.2 383.9,132.6 384.2,131.0 384.6,128.7 384.9,126.5 385.2,124.9 385.5,124.3 385.8,124.7 386.1,126.2 386.4,128.3 386.7,130.3 387.0,131.8 387.3,132.3 387.6,131.6 388.0,130.0 388.3,127.8 388.6,125.5 388.9,123.9 389.2,123.3 389.5,123.7 389.8,125.2 390.1,127.3 390.4,129.3 390.7,130.8 391.1,131.3 391.4,130.6 391.7,129.0 392.0,126.8 392.3,124.5 392.6,122.9 392.9,122.3 393.2,122.7 393.5,124.2 393.8,126.3 394.1,128.3 394.5,129.8 394.8,130.3 395.1,129.6 395.4,128.0 395.7,125.8 396.0,123.6 396.3,121.9 396.6,121.3 396.9,121.7 397.2,123.2 397.6,125.3 397.9,127.3 398.2,128.8 398.5,129.3 398.8,128.6 399.1,127.0 399.4,124.8 399.7,122.6 400.0,120.9 400.3,120.3 400.6,120.7 401.0,122.2 401.3,124.3 401.6,126.3 401.9,127.8 402.2,128.3 402.5,127.6 402.8,126.0 403.1,123.8 403.4,121.6 403.7,119.9 404.1,119.3 404.4,119.8 404.7,121.2 405.0,123.3 405.3,125.3 405.6,126.8 405.9,127.3 406.2,126.6 406.5,125.0 406.8,122.8 407.1,120.6 407.5,118.9 407.8,118.3 408.1,118.8 408.4,120.3 408.7,122.3 409.0,124.4 409.3,125.9 409.6,126.4 409.9,125.8 410.2,124.1 410.6,121.9 410.9,119.7 411.2,118.1 411.5,117.5 411.8,118.0 412.1,119.5 412.4,121.5 412.7,123.6 413.0,125.1 413.3,125.6 413.6,124.9 414.0,123.3 414.3,121.1 414.6,118.9 414.9,117.3 415.2,116.6 415.5,117.1 415.8,118.6 416.1,120.7 416.4,122.7 416.7,124.2 417.1,124.7 417.4,124.1 417.7,122.5 418.0,120.3 418.3,118.1 418.6,116.5 418.9,115.8 419.2,116.3 419.5,117.8 419.8,119.9 420.1,121.9 420.5,123.4 420.8,123.9 421.1,123.3 421.4,121.6 421.7,119.4 422.0,117.2 422.3,115.6 422.6,115.0 422.9,115.5 423.2,117.0 423.6,119.0 423.9,121.1 424.2,122.6 424.5,123.1 424.8,122.4 425.1,120.8 425.4,118.6 425.7,116.4 426.0,114.8 426.3,114.2 426.6,114.7 427.0,116.1 427.3,118.2 427.6,120.2 427.9,121.7 428.2,122.2 428.5,121.6 428.8,120.0 429.1,117.8 429.4,115.6 429.7,114.0 430.1,113.4 430.4,113.9 430.7,115.4 431.0,117.5 431.3,119.6 431.6,121.1 431.9,121.6 432.2,121.0 432.5,119.4 432.8,117.2 433.2,115.1 433.5,113.5 433.8,112.8 434.1,113.4 434.4,114.9 434.7,117.0 435.0,119.0 435.3,120.5 435.6,121.1 435.9,120.5 436.2,118.9 436.6,116.7 436.9,114.5 437.2,112.9 437.5,112.3 437.8,112.8 438.1,114.3 438.4,116.4 438.7,118.5 439.0,120.0 439.3,120.5 439.7,119.9 440.0,118.3 440.3,116.1 440.6,114.0 440.9,112.4 441.2,111.8 441.5,112.3 441.8,113.8 442.1,115.9 442.4,117.9 442.7,119.5 443.1,120.0 443.4,119.4 443.7,117.8 444.0,115.6 444.3,113.4 444.6,111.8 444.9,111.2 445.2,111.7 445.5,113.2 445.8,115.3 446.2,117.4 446.5,118.9 446.8,119.4 447.1,118.8 447.4,117.2 447.7,115.0 448.0,112.9 448.3,111.3 448.6,110.7 448.9,111.2 449.2,112.7 449.6,114.8 449.9,116.9 450.2,118.4 450.5,118.9 450.8,118.3 451.1,116.7 451.4,114.5 451.7,112.3 452.0,110.7 452.3,110.1 452.7,110.6 453.0,112.2 453.3,114.2 453.6,116.3 453.9,117.8 454.2,118.3 454.5,117.7 454.8,116.1 455.1,114.0 455.4,111.8 455.7,110.2 456.1,109.6 456.4,110.1 456.7,111.6 457.0,113.7 457.3,115.8 457.6,117.3 457.9,117.8 458.2,117.2 458.5,115.6 458.8,113.4 459.2,111.2 459.5,109.6 459.8,109.0 460.1,109.6 460.4,111.1 460.7,113.1 461.0,115.2 461.3,116.7 461.6,117.3 461.9,116.6 462.2,115.0 462.6,112.9 462.9,110.7 463.2,109.1 463.5,108.5 463.8,109.0 464.1,110.5 464.4,112.6 464.7,114.7 465.0,116.2 465.3,116.7 465.7,116.1 466.0,114.5 466.3,112.3 466.6,110.2 466.9,108.6 467.2,107.9 467.5,108.5 467.8,110.0 468.1,112.1 468.4,114.1 468.7,115.6 469.1,116.2 469.4,115.6 469.7,114.0 470.0,111.8 470.3,109.6 470.6,108.0 470.9,107.4 471.2,108.0 471.5,109.5 471.8,111.6 472.2,113.7 472.5,115.2 472.8,115.8 473.1,115.2 473.4,113.6 473.7,111.5 474.0,109.3 474.3,107.8 474.6,107.2 474.9,107.7 475.2,109.2 475.6,111.3 475.9,113.4 476.2,114.9 476.5,115.4 476.8,114.8 477.1,113.3 477.4,111.2 477.7,109.0 478.0,107.5 478.3,106.9 478.7,107.4 479.0,108.9 479.3,111.0 479.6,113.1 479.9,114.6 480.2,115.1 480.5,114.5 480.8,113.0 481.1,110.9 481.4,108.7 481.7,107.2 482.1,106.6 482.4,107.2 482.7,108.6 483.0,110.7 483.3,112.8 483.6,114.2 483.9,114.8 484.2,114.2 484.5,112.6 484.8,110.6 485.2,108.5 485.5,106.9 485.8,106.3 486.1,106.9 486.4,108.4 486.7,110.4 487.0,112.4 487.3,113.9 487.6,114.4 487.9,113.9 488.2,112.3 488.6,110.2 488.9,108.2 489.2,106.6 489.5,106.1 489.8,106.6 490.1,108.1 490.4,110.1 490.7,112.1 491.0,113.6 491.3,114.1 491.7,113.5 492.0,112.0 492.3,109.9 492.6,107.9 492.9,106.4 493.2,105.8 493.5,106.3 493.8,107.8 494.1,109.8 494.4,111.8 494.8,113.3 495.1,113.8 495.4,113.2 495.7,111.7 496.0,109.6 496.3,107.6 496.6,106.1 496.9,105.5 497.2,106.0 497.5,107.5 497.8,109.5 498.2,111.5 498.5,112.9 498.8,113.4 499.1,112.9 499.4,111.4 499.7,109.3 500.0,107.3 500.3,105.8 500.6,105.2 500.9,105.7 501.3,107.2 501.6,109.2 501.9,111.2 502.2,112.6 502.5,113.1 502.8,112.5 503.1,111.1 503.4,109.0 503.7,107.0 504.0,105.5 504.3,105.0 504.7,105.5 505.0,106.9 505.3,108.9 505.6,110.9 505.9,112.4 506.2,112.9 506.5,112.3 506.8,110.8 507.1,108.8 507.4,106.8 507.8,105.4 508.1,104.8 508.4,105.3 508.7,106.8 509.0,108.8 509.3,110.7 509.6,112.2 509.9,112.7 510.2,112.1 510.5,110.7 510.8,108.7 511.2,106.7 511.5,105.2 511.8,104.7 512.1,105.2 512.4,106.6 512.7,108.6 513.0,110.5 513.3,112.0 513.6,112.5 513.9,111.9 514.3,110.5 514.6,108.5 514.9,106.5 515.2,105.1 515.5,104.5 515.8,105.0 516.1,106.5 516.4,108.4 516.7,110.3 517.0,111.8 517.3,112.3 517.7,111.7 518.0,110.3 518.3,108.3 518.6,106.4 518.9,104.9 519.2,104.4 519.5,104.9 519.8,106.3 520.1,108.2 520.4,110.2 520.8,111.6 521.1,112.1 521.4,111.5 521.7,110.1 522.0,108.1 522.3,106.2 522.6,104.8 522.9,104.2 523.2,104.7 523.5,106.1 523.8,108.1 524.2,110.0 524.5,111.4 524.8,111.9 525.1,111.3 525.4,109.9 525.7,108.0 526.0,106.0 526.3,104.6 526.6,104.1 526.9,104.6 527.3,106.0 527.6,107.9 527.9,109.8 528.2,111.2 528.5,111.7 528.8,111.1 529.1,109.7 529.4,107.8 529.7,105.9 530.0,104.5 530.3,103.9 530.7,104.4 531.0,105.8 531.3,107.7 531.6,109.6 531.9,111.0 532.2,111.5 532.5,110.9 532.8,109.5 533.1,107.6 533.4,105.7 533.8,104.3 534.1,103.8 534.4,104.3 534.7,105.7 535.0,107.5 535.3,109.4 535.6,110.8 535.9,111.3 536.2,110.7 536.5,109.3 536.8,107.4 537.2,105.5 537.5,104.1 537.8,103.6 538.1,104.1 538.4,105.5 538.7,107.4 539.0,109.2 539.3,110.6 539.6,111.1 539.9,110.6 540.3,109.2 540.6,107.3 540.9,105.4 541.2,104.0 541.5,103.5 541.8,104.0 542.1,105.4 542.4,107.3 542.7,109.1 543.0,110.5" stroke="#d2d040" stroke-width="1.1" stroke-opacity="1"/>
<path d="M321.2,184.0 322.3,180.3 323.5,177.4 324.6,175.0 325.7,172.6 326.8,170.5 327.9,169.0 329.0,167.5 330.2,166.0 331.3,164.6 332.4,163.4 333.5,162.2 334.6,161.0 335.7,160.1 336.8,159.3 338.0,158.4 339.1,157.5 340.2,156.8 341.3,156.0 342.4,155.3 343.5,154.7 344.7,154.2 345.8,153.7 346.9,153.2 348.0,152.7 349.1,152.2 350.2,151.8 351.3,151.3 352.5,150.8 353.6,150.3 354.7,149.8 355.8,149.3 356.9,148.8 358.0,148.3 359.2,147.9 360.3,147.4 361.4,146.9 362.5,146.4 363.6,145.9 364.7,145.4 365.9,144.9 367.0,144.4 368.1,143.9 369.2,143.5 370.3,143.0 371.4,142.5 372.5,142.0 373.7,141.5 374.8,141.0 375.9,140.5 377.0,140.0 378.1,139.7 379.2,139.3 380.4,138.9 381.5,138.5 382.6,138.2 383.7,137.8 384.8,137.4 385.9,137.0 387.0,136.7 388.2,136.3 389.3,135.9 390.4,135.5 391.5,135.2 392.6,134.8 393.7,134.4 394.9,134.0 396.0,133.7 397.1,133.3 398.2,132.9 399.3,132.5 400.4,132.2 401.6,131.8 402.7,131.4 403.8,131.0 404.9,130.7 406.0,130.3 407.1,130.0 408.2,129.8 409.4,129.6 410.5,129.4 411.6,129.2 412.7,129.0 413.8,128.8 414.9,128.6 416.1,128.4 417.2,128.2 418.3,128.0 419.4,127.8 420.5,127.6 421.6,127.4 422.7,127.2 423.9,127.0 425.0,126.8 426.1,126.6 427.2,126.4 428.3,126.2 429.4,126.0 430.6,125.8 431.7,125.7 432.8,125.6 433.9,125.4 435.0,125.3 436.1,125.2 437.3,125.0 438.4,124.9 439.5,124.8 440.6,124.6 441.7,124.5 442.8,124.3 443.9,124.2 445.1,124.1 446.2,123.9 447.3,123.8 448.4,123.7 449.5,123.5 450.6,123.4 451.8,123.3 452.9,123.1 454.0,123.0 455.1,122.8 456.2,122.7 457.3,122.6 458.4,122.4 459.6,122.3 460.7,122.2 461.8,122.0 462.9,121.9 464.0,121.8 465.1,121.6 466.3,121.5 467.4,121.3 468.5,121.2 469.6,121.1 470.7,120.9 471.8,120.8 473.0,120.7 474.1,120.5 475.2,120.4 476.3,120.3 477.4,120.1 478.5,120.0 479.6,119.9 480.8,119.7 481.9,119.6 483.0,119.5 484.1,119.3 485.2,119.2 486.3,119.1 487.5,118.9 488.6,118.8 489.7,118.7 490.8,118.5 491.9,118.4 493.0,118.3 494.1,118.1 495.3,118.0 496.4,117.9 497.5,117.7 498.6,117.6 499.7,117.5 500.8,117.3 502.0,117.2 503.1,117.1 504.2,117.0 505.3,116.9 506.4,116.7 507.5,116.6 508.7,116.5 509.8,116.4 510.9,116.3 512.0,116.2 513.1,116.1 514.2,116.0 515.3,115.9 516.5,115.8 517.6,115.7 518.7,115.6 519.8,115.5 520.9,115.4 522.0,115.3 523.2,115.2 524.3,115.1 525.4,115.0 526.5,114.9 527.6,114.8 528.7,114.7 529.8,114.5 531.0,114.4 532.1,114.3 533.2,114.2 534.3,114.1 535.4,114.0 536.5,113.9 537.7,113.8 538.8,113.7 539.9,113.6 541.0,113.5 542.1,113.5 543.2,113.5 543.2,124.3 542.1,124.3 541.0,124.3 539.9,124.3 538.8,124.4 537.7,124.5 536.5,124.6 535.4,124.7 534.3,124.8 533.2,124.9 532.1,125.0 531.0,125.1 529.8,125.2 528.7,125.3 527.6,125.4 526.5,125.5 525.4,125.6 524.3,125.7 523.2,125.8 522.0,125.9 520.9,126.0 519.8,126.1 518.7,126.2 517.6,126.3 516.5,126.4 515.3,126.5 514.2,126.6 513.1,126.7 512.0,126.8 510.9,126.9 509.8,127.0 508.7,127.1 507.5,127.2 506.4,127.3 505.3,127.4 504.2,127.5 503.1,127.6 502.0,127.7 500.8,127.8 499.7,128.0 498.6,128.1 497.5,128.2 496.4,128.3 495.3,128.5 494.1,128.6 493.0,128.7 491.9,128.8 490.8,129.0 489.7,129.1 488.6,129.2 487.5,129.3 486.3,129.5 485.2,129.6 484.1,129.7 483.0,129.9 481.9,130.0 480.8,130.1 479.6,130.2 478.5,130.4 477.4,130.5 476.3,130.6 475.2,130.7 474.1,130.9 473.0,131.0 471.8,131.1 470.7,131.2 469.6,131.4 468.5,131.5 467.4,131.7 466.3,131.8 465.1,131.9 464.0,132.1 462.9,132.2 461.8,132.4 460.7,132.5 459.6,132.7 458.4,132.8 457.3,132.9 456.2,133.1 455.1,133.2 454.0,133.4 452.9,133.5 451.8,133.6 450.6,133.8 449.5,133.9 448.4,134.1 447.3,134.2 446.2,134.4 445.1,134.5 443.9,134.6 442.8,134.8 441.7,134.9 440.6,135.1 439.5,135.2 438.4,135.3 437.3,135.5 436.1,135.6 435.0,135.8 433.9,135.9 432.8,136.1 431.7,136.2 430.6,136.3 429.4,136.5 428.3,136.7 427.2,136.9 426.1,137.1 425.0,137.3 423.9,137.5 422.7,137.7 421.6,137.9 420.5,138.1 419.4,138.3 418.3,138.5 417.2,138.7 416.1,138.9 414.9,139.1 413.8,139.3 412.7,139.5 411.6,139.7 410.5,139.9 409.4,140.1 408.2,140.3 407.1,140.5 406.0,140.8 404.9,141.1 403.8,141.4 402.7,141.7 401.6,142.0 400.4,142.3 399.3,142.7 398.2,143.0 397.1,143.3 396.0,143.6 394.9,143.9 393.7,144.3 392.6,144.6 391.5,144.9 390.4,145.2 389.3,145.5 388.2,145.8 387.0,146.2 385.9,146.5 384.8,146.8 383.7,147.1 382.6,147.4 381.5,147.8 380.4,148.1 379.2,148.4 378.1,148.7 377.0,149.0 375.9,149.5 374.8,150.0 373.7,150.5 372.5,150.9 371.4,151.4 370.3,151.9 369.2,152.3 368.1,152.8 367.0,153.3 365.9,153.8 364.7,154.2 363.6,154.7 362.5,155.2 361.4,155.6 360.3,156.1 359.2,156.6 358.0,157.1 356.9,157.5 355.8,158.0 354.7,158.5 353.6,159.0 352.5,159.4 351.3,159.9 350.2,160.4 349.1,160.8 348.0,161.3 346.9,161.8 345.8,162.3 344.7,162.7 343.5,163.2 342.4,163.8 341.3,164.6 340.2,165.4 339.1,166.3 338.0,167.1 336.8,168.0 335.7,168.9 334.6,169.8 333.5,171.0 332.4,172.3 331.3,173.6 330.2,175.2 329.0,176.9 327.9,178.7 326.8,180.4 325.7,182.6 324.6,185.0 323.5,187.4 322.3,190.3 321.2,194.0Z" fill="#ff9a9a" fill-opacity="0.35" stroke="none"/>
<path d="M317.5,260.0 318.2,230.0 319.7,205.0 321.3,196.1 321.6,202.8 321.9,194.0 322.2,188.0 322.5,183.5 322.8,180.4 323.1,178.5 323.4,177.4 323.8,177.2 324.1,177.8 324.4,179.3 324.7,182.0 325.0,186.4 325.3,193.4 325.6,185.1 325.9,179.4 326.2,175.3 326.5,172.5 326.9,170.9 327.2,170.0 327.5,170.0 327.8,170.8 328.1,172.6 328.4,175.4 328.7,179.7 329.0,186.4 329.3,178.8 329.6,173.6 330.0,170.0 330.3,167.5 330.6,165.8 330.9,165.0 331.2,165.1 331.5,165.9 331.8,167.7 332.1,170.4 332.4,174.6 332.7,180.8 333.0,173.9 333.4,169.1 333.7,165.6 334.0,163.3 334.3,161.8 334.6,161.0 334.9,161.2 335.2,162.1 335.5,163.9 335.8,166.7 336.1,170.9 336.5,177.1 336.8,170.4 337.1,165.7 337.4,162.4 337.7,160.2 338.0,158.7 338.3,158.1 338.6,158.3 338.9,159.2 339.2,161.0 339.5,163.8 339.9,168.0 340.2,174.1 340.5,167.5 340.8,163.0 341.1,159.7 341.4,157.5 341.7,156.1 342.0,155.5 342.3,155.7 342.6,156.6 343.0,158.5 343.3,161.3 343.6,165.5 343.9,171.6 344.2,165.2 344.5,160.8 344.8,157.7 345.1,155.5 345.4,154.2 345.7,153.7 346.0,154.0 346.4,155.0 346.7,156.8 347.0,159.7 347.3,163.9 347.6,170.1 347.9,163.7 348.2,159.2 348.5,156.0 348.8,153.9 349.1,152.6 349.5,152.1 349.8,152.3 350.1,153.4 350.4,155.2 350.7,158.1 351.0,162.3 351.3,168.5 351.6,162.1 351.9,157.6 352.2,154.4 352.5,152.3 352.9,151.0 353.2,150.5 353.5,150.7 353.8,151.7 354.1,153.6 354.4,156.5 354.7,160.8 355.0,167.0 355.3,160.5 355.6,156.0 356.0,152.8 356.3,150.7 356.6,149.4 356.9,148.8 357.2,149.1 357.5,150.1 357.8,152.0 358.1,154.9 358.4,159.2 358.7,165.5 359.0,158.9 359.4,154.4 359.7,151.2 360.0,149.0 360.3,147.7 360.6,147.2 360.9,147.5 361.2,148.5 361.5,150.4 361.8,153.3 362.1,157.6 362.5,164.0 362.8,157.4 363.1,152.8 363.4,149.6 363.7,147.4 364.0,146.1 364.3,145.6 364.6,145.8 364.9,146.9 365.2,148.8 365.5,151.7 365.9,156.1 366.2,162.5 366.5,155.8 366.8,151.2 367.1,148.0 367.4,145.8 367.7,144.5 368.0,144.0 368.3,144.2 368.6,145.3 369.0,147.2 369.3,150.1 369.6,154.5 369.9,160.9 370.2,154.2 370.5,149.6 370.8,146.4 371.1,144.2 371.4,142.9 371.7,142.3 372.0,142.6 372.4,143.6 372.7,145.6 373.0,148.5 373.3,152.9 373.6,159.4 373.9,152.7 374.2,148.0 374.5,144.8 374.8,142.6 375.1,141.2 375.5,140.7 375.8,141.0 376.1,142.0 376.4,144.0 376.7,146.9 377.0,151.3 377.3,158.0 377.6,151.2 377.9,146.5 378.2,143.3 378.5,141.1 378.9,139.8 379.2,139.3 379.5,139.6 379.8,140.7 380.1,142.7 380.4,145.8 380.7,150.3 381.0,157.1 381.3,150.1 381.6,145.4 382.0,142.1 382.3,139.9 382.6,138.6 382.9,138.1 383.2,138.3 383.5,139.5 383.8,141.5 384.1,144.6 384.4,149.2 384.7,156.2 385.0,149.0 385.4,144.2 385.7,140.9 386.0,138.6 386.3,137.3 386.6,136.8 386.9,137.1 387.2,138.2 387.5,140.3 387.8,143.4 388.1,148.2 388.5,155.3 388.8,148.0 389.1,143.1 389.4,139.7 389.7,137.4 390.0,136.1 390.3,135.6 390.6,135.9 390.9,137.0 391.2,139.1 391.6,142.3 391.9,147.1 392.2,154.5 392.5,146.9 392.8,141.9 393.1,138.5 393.4,136.2 393.7,134.8 394.0,134.3 394.3,134.6 394.6,135.8 395.0,137.9 395.3,141.1 395.6,146.0 395.9,153.6 396.2,145.8 396.5,140.8 396.8,137.3 397.1,135.0 397.4,133.6 397.7,133.1 398.1,133.4 398.4,134.5 398.7,136.7 399.0,140.0 399.3,145.0 399.6,152.7 399.9,144.8 400.2,139.6 400.5,136.1 400.8,133.7 401.1,132.3 401.5,131.8 401.8,132.1 402.1,133.3 402.4,135.5 402.7,138.8 403.0,143.9 403.3,151.8 403.6,143.7 403.9,138.4 404.2,134.9 404.6,132.5 404.9,131.1 405.2,130.6 405.5,130.9 405.8,132.1 406.1,134.3 406.4,137.7 406.7,142.8 407.0,151.0 407.3,142.7 407.6,137.4 408.0,133.8 408.3,131.5 408.6,130.1 408.9,129.6 409.2,130.0 409.5,131.3 409.8,133.5 410.1,136.9 410.4,142.1 410.7,150.3 411.1,142.0 411.4,136.7 411.7,133.1 412.0,130.8 412.3,129.5 412.6,129.0 412.9,129.3 413.2,130.6 413.5,132.8 413.8,136.3 414.1,141.5 414.5,149.6 414.8,141.3 415.1,136.0 415.4,132.5 415.7,130.1 416.0,128.8 416.3,128.3 416.6,128.7 416.9,129.9 417.2,132.2 417.6,135.6 417.9,140.8 418.2,149.0 418.5,140.7 418.8,135.4 419.1,131.8 419.4,129.5 419.7,128.1 420.0,127.7 420.3,128.0 420.6,129.3 421.0,131.5 421.3,134.9 421.6,140.1 421.9,148.3 422.2,140.0 422.5,134.7 422.8,131.2 423.1,128.8 423.4,127.5 423.7,127.0 424.1,127.4 424.4,128.6 424.7,130.8 425.0,134.3 425.3,139.5 425.6,147.7 425.9,139.4 426.2,134.1 426.5,130.5 426.8,128.1 427.1,126.8 427.5,126.3 427.8,126.7 428.1,127.9 428.4,130.2 428.7,133.6 429.0,138.8 429.3,147.0 429.6,138.7 429.9,133.4 430.2,129.9 430.6,127.6 430.9,126.2 431.2,125.8 431.5,126.1 431.8,127.4 432.1,129.7 432.4,133.1 432.7,138.3 433.0,146.5 433.3,138.2 433.6,133.0 434.0,129.4 434.3,127.1 434.6,125.8 434.9,125.3 435.2,125.7 435.5,127.0 435.8,129.2 436.1,132.7 436.4,137.8 436.7,146.0 437.1,137.8 437.4,132.5 437.7,129.0 438.0,126.6 438.3,125.3 438.6,124.9 438.9,125.2 439.2,126.5 439.5,128.7 439.8,132.2 440.1,137.4 440.5,145.5 440.8,137.3 441.1,132.0 441.4,128.5 441.7,126.2 442.0,124.9 442.3,124.4 442.6,124.8 442.9,126.0 443.2,128.3 443.6,131.7 443.9,136.9 444.2,145.0 444.5,136.8 444.8,131.6 445.1,128.0 445.4,125.7 445.7,124.4 446.0,124.0 446.3,124.3 446.6,125.6 447.0,127.8 447.3,131.3 447.6,136.4 447.9,144.5 448.2,136.4 448.5,131.1 448.8,127.6 449.1,125.3 449.4,124.0 449.7,123.5 450.1,123.9 450.4,125.1 450.7,127.4 451.0,130.8 451.3,136.0 451.6,144.1 451.9,135.9 452.2,130.7 452.5,127.1 452.8,124.8 453.1,123.5 453.5,123.0 453.8,123.4 454.1,124.7 454.4,126.9 454.7,130.3 455.0,135.5 455.3,143.6 455.6,135.4 455.9,130.2 456.2,126.7 456.6,124.4 456.9,123.0 457.2,122.6 457.5,123.0 457.8,124.2 458.1,126.4 458.4,129.9 458.7,135.0 459.0,143.1 459.3,134.9 459.7,129.7 460.0,126.2 460.3,123.9 460.6,122.6 460.9,122.1 461.2,122.5 461.5,123.8 461.8,126.0 462.1,129.4 462.4,134.6 462.7,142.6 463.1,134.5 463.4,129.3 463.7,125.8 464.0,123.5 464.3,122.1 464.6,121.7 464.9,122.1 465.2,123.3 465.5,125.5 465.8,129.0 466.2,134.1 466.5,142.1 466.8,134.0 467.1,128.8 467.4,125.3 467.7,123.0 468.0,121.7 468.3,121.2 468.6,121.6 468.9,122.9 469.2,125.1 469.6,128.5 469.9,133.6 470.2,141.6 470.5,133.5 470.8,128.4 471.1,124.9 471.4,122.6 471.7,121.2 472.0,120.8 472.3,121.2 472.7,122.4 473.0,124.6 473.3,128.1 473.6,133.2 473.9,141.2 474.2,133.1 474.5,127.9 474.8,124.4 475.1,122.1 475.4,120.8 475.7,120.3 476.1,120.7 476.4,122.0 476.7,124.2 477.0,127.6 477.3,132.8 477.6,140.8 477.9,132.7 478.2,127.5 478.5,124.0 478.8,121.7 479.2,120.4 479.5,119.9 479.8,120.3 480.1,121.5 480.4,123.8 480.7,127.2 481.0,132.3 481.3,140.4 481.6,132.3 481.9,127.1 482.2,123.5 482.6,121.2 482.9,119.9 483.2,119.5 483.5,119.8 483.8,121.1 484.1,123.3 484.4,126.8 484.7,131.9 485.0,140.0 485.3,131.9 485.7,126.6 486.0,123.1 486.3,120.8 486.6,119.5 486.9,119.0 487.2,119.4 487.5,120.6 487.8,122.9 488.1,126.3 488.4,131.5 488.7,139.6 489.1,131.4 489.4,126.2 489.7,122.7 490.0,120.4 490.3,119.0 490.6,118.6 490.9,119.0 491.2,120.2 491.5,122.4 491.8,125.9 492.2,131.1 492.5,139.2 492.8,131.0 493.1,125.8 493.4,122.2 493.7,119.9 494.0,118.6 494.3,118.1 494.6,118.5 494.9,119.8 495.2,122.0 495.6,125.5 495.9,130.7 496.2,138.8 496.5,130.6 496.8,125.3 497.1,121.8 497.4,119.5 497.7,118.1 498.0,117.7 498.3,118.1 498.7,119.3 499.0,121.6 499.3,125.0 499.6,130.2 499.9,138.4 500.2,130.2 500.5,124.9 500.8,121.3 501.1,119.0 501.4,117.7 501.7,117.2 502.1,117.6 502.4,118.9 502.7,121.1 503.0,124.6 503.3,129.8 503.6,138.0 503.9,129.7 504.2,124.5 504.5,120.9 504.8,118.6 505.2,117.3 505.5,116.8 505.8,117.2 506.1,118.5 506.4,120.8 506.7,124.2 507.0,129.5 507.3,137.7 507.6,129.4 507.9,124.1 508.2,120.6 508.6,118.3 508.9,116.9 509.2,116.5 509.5,116.9 509.8,118.2 510.1,120.4 510.4,123.9 510.7,129.1 511.0,137.4 511.3,129.1 511.7,123.8 512.0,120.2 512.3,117.9 512.6,116.6 512.9,116.1 513.2,116.5 513.5,117.8 513.8,120.1 514.1,123.6 514.4,128.8 514.7,137.1 515.1,128.8 515.4,123.5 515.7,119.9 516.0,117.6 516.3,116.2 516.6,115.8 516.9,116.2 517.2,117.5 517.5,119.7 517.8,123.2 518.2,128.5 518.5,136.8 518.8,128.4 519.1,123.1 519.4,119.6 519.7,117.2 520.0,115.9 520.3,115.4 520.6,115.8 520.9,117.1 521.3,119.4 521.6,122.9 521.9,128.2 522.2,136.5 522.5,128.1 522.8,122.8 523.1,119.2 523.4,116.9 523.7,115.5 524.0,115.1 524.3,115.5 524.7,116.8 525.0,119.0 525.3,122.6 525.6,127.8 525.9,136.2 526.2,127.8 526.5,122.4 526.8,118.9 527.1,116.5 527.4,115.2 527.8,114.7 528.1,115.1 528.4,116.4 528.7,118.7 529.0,122.2 529.3,127.5 529.6,135.9 529.9,127.5 530.2,122.1 530.5,118.5 530.8,116.2 531.2,114.8 531.5,114.4 531.8,114.8 532.1,116.1 532.4,118.4 532.7,121.9 533.0,127.2 533.3,135.6 533.6,127.1 533.9,121.8 534.3,118.2 534.6,115.8 534.9,114.5 535.2,114.0 535.5,114.4 535.8,115.7 536.1,118.0 536.4,121.5 536.7,126.9 537.0,135.3 537.3,126.8 537.7,121.4 538.0,117.8 538.3,115.5 538.6,114.2 538.9,113.7 539.2,114.1 539.5,115.4 539.8,117.7 540.1,121.2 540.4,126.5 540.8,135.0 541.1,126.5 541.4,121.1 541.7,117.6 542.0,115.2 542.3,113.9 542.6,113.5 542.9,113.9 543.2,115.2" stroke="#ff3434" stroke-width="0.95" stroke-opacity="0.9"/>
</g>
<text x="317.50" y="219.80" text-anchor="middle" class="tl">0</text>
<text x="354.75" y="219.80" text-anchor="middle" class="tl">5</text>
<text x="392.00" y="219.80" text-anchor="middle" class="tl">10</text>
<text x="429.25" y="219.80" text-anchor="middle" class="tl">15</text>
<text x="466.50" y="219.80" text-anchor="middle" class="tl">20</text>
<text x="503.75" y="219.80" text-anchor="middle" class="tl">25</text>
<text x="541.00" y="219.80" text-anchor="middle" class="tl">30</text>
<text x="314.90" y="214.40" text-anchor="end" class="tl">10<tspan dy="-4.1" class="sup">-2</tspan></text>
<text x="314.90" y="174.26" text-anchor="end" class="tl">10<tspan dy="-4.1" class="sup">-1</tspan></text>
<text x="314.90" y="134.12" text-anchor="end" class="tl">10<tspan dy="-4.1" class="sup">0</tspan></text>
<text x="314.90" y="93.98" text-anchor="end" class="tl">10<tspan dy="-4.1" class="sup">1</tspan></text>
<text x="314.90" y="53.84" text-anchor="end" class="tl">10<tspan dy="-4.1" class="sup">2</tspan></text>
<text x="314.90" y="13.70" text-anchor="end" class="tl">10<tspan dy="-4.1" class="sup">3</tspan></text>
<text x="429.25" y="229.80" text-anchor="middle" class="xl">Time [d]</text>
<text transform="translate(299.20,109.85) rotate(-90)" text-anchor="middle" class="xl">Distance from orbit calculated by FEM method [m]</text>
<text x="431.80" y="246.40" text-anchor="middle" class="pl">(b)</text>
<rect x="416.4" y="57.3" width="120.10" height="35.00" fill="#fff" stroke="#b0b0b0" stroke-width="0.9"/>
<path d="M417.90,62.00h10.6" stroke="#3c3cff" stroke-width="0.95"/>
<text x="429.60" y="64.30" class="lg">J2+J3+J4+T2</text>
<path d="M417.90,70.45h10.6" stroke="#10eaf0" stroke-width="0.95"/>
<text x="429.60" y="72.75" class="lg">J2+J3+J4+T2+T3+T4</text>
<path d="M417.90,78.90h10.6" stroke="#c4bc30" stroke-width="0.95"/>
<text x="429.60" y="81.20" class="lg">J2+J3+J4+J5+T2+T3+T4+T5</text>
<path d="M417.90,87.35h10.6" stroke="#ff3030" stroke-width="0.95"/>
<text x="429.60" y="89.65" class="lg">J2+J3+J4+J5+J6+T2+T3+T4+T5+T6</text>
<clipPath id="clipc"><rect x="30.099999999999998" y="265.5" width="225.6" height="201.89999999999998"/></clipPath>
<rect x="30.7" y="265.5" width="225.0" height="201.89999999999998" fill="none" stroke="#b0b0b0" stroke-width="1"/>
<path d="M30.70,467.4v-2.2M30.70,265.5v2.2M68.20,467.4v-2.2M68.20,265.5v2.2M105.70,467.4v-2.2M105.70,265.5v2.2M143.20,467.4v-2.2M143.20,265.5v2.2M180.70,467.4v-2.2M180.70,265.5v2.2M218.20,467.4v-2.2M218.20,265.5v2.2M255.70,467.4v-2.2M255.70,265.5v2.2M30.7,467.40h2.2M255.7,467.40h-2.2M30.7,455.24h1.2M255.7,455.24h-1.2M30.7,448.13h1.2M255.7,448.13h-1.2M30.7,443.09h1.2M255.7,443.09h-1.2M30.7,439.18h1.2M255.7,439.18h-1.2M30.7,435.98h1.2M255.7,435.98h-1.2M30.7,433.27h1.2M255.7,433.27h-1.2M30.7,430.93h1.2M255.7,430.93h-1.2M30.7,428.87h1.2M255.7,428.87h-1.2M30.7,427.02h2.2M255.7,427.02h-2.2M30.7,414.86h1.2M255.7,414.86h-1.2M30.7,407.75h1.2M255.7,407.75h-1.2M30.7,402.71h1.2M255.7,402.71h-1.2M30.7,398.80h1.2M255.7,398.80h-1.2M30.7,395.60h1.2M255.7,395.60h-1.2M30.7,392.89h1.2M255.7,392.89h-1.2M30.7,390.55h1.2M255.7,390.55h-1.2M30.7,388.49h1.2M255.7,388.49h-1.2M30.7,386.64h2.2M255.7,386.64h-2.2M30.7,374.48h1.2M255.7,374.48h-1.2M30.7,367.37h1.2M255.7,367.37h-1.2M30.7,362.33h1.2M255.7,362.33h-1.2M30.7,358.42h1.2M255.7,358.42h-1.2M30.7,355.22h1.2M255.7,355.22h-1.2M30.7,352.51h1.2M255.7,352.51h-1.2M30.7,350.17h1.2M255.7,350.17h-1.2M30.7,348.11h1.2M255.7,348.11h-1.2M30.7,346.26h2.2M255.7,346.26h-2.2M30.7,334.10h1.2M255.7,334.10h-1.2M30.7,326.99h1.2M255.7,326.99h-1.2M30.7,321.95h1.2M255.7,321.95h-1.2M30.7,318.04h1.2M255.7,318.04h-1.2M30.7,314.84h1.2M255.7,314.84h-1.2M30.7,312.13h1.2M255.7,312.13h-1.2M30.7,309.79h1.2M255.7,309.79h-1.2M30.7,307.73h1.2M255.7,307.73h-1.2M30.7,305.88h2.2M255.7,305.88h-2.2M30.7,293.72h1.2M255.7,293.72h-1.2M30.7,286.61h1.2M255.7,286.61h-1.2M30.7,281.57h1.2M255.7,281.57h-1.2M30.7,277.66h1.2M255.7,277.66h-1.2M30.7,274.46h1.2M255.7,274.46h-1.2M30.7,271.75h1.2M255.7,271.75h-1.2M30.7,269.41h1.2M255.7,269.41h-1.2M30.7,267.35h1.2M255.7,267.35h-1.2" stroke="#b0b0b0" stroke-width="0.8" fill="none"/>
<g clip-path="url(#clipc)" fill="none" stroke-linejoin="round">
<path d="M30.7,480.0 31.1,420.0 31.4,372.0 31.8,355.0 32.3,350.7 32.6,350.5 32.9,349.9 33.2,349.4 33.6,349.4 33.9,349.6 34.2,350.7 34.5,352.2 34.8,353.3 35.1,353.0 35.4,351.3 35.7,348.5 36.0,344.9 36.3,341.4 36.6,338.6 36.9,337.0 37.2,337.1 37.6,338.2 37.9,339.9 38.2,341.4 38.5,342.2 38.8,342.1 39.1,341.0 39.4,338.9 39.7,336.2 40.0,333.5 40.3,331.3 40.6,330.2 40.9,330.3 41.2,331.4 41.5,333.0 41.9,334.5 42.2,335.4 42.5,335.4 42.8,334.4 43.1,332.6 43.4,330.2 43.7,327.8 44.0,326.0 44.3,325.1 44.6,325.2 44.9,326.3 45.2,327.9 45.5,329.5 45.9,330.5 46.2,330.7 46.5,329.8 46.8,328.1 47.1,325.8 47.4,323.5 47.7,321.8 48.0,321.0 48.3,321.3 48.6,322.4 48.9,323.9 49.2,325.5 49.5,326.5 49.8,326.7 50.2,326.0 50.5,324.4 50.8,322.3 51.1,320.2 51.4,318.6 51.7,317.8 52.0,318.0 52.3,319.1 52.6,320.8 52.9,322.5 53.2,323.7 53.5,324.0 53.8,323.2 54.2,321.5 54.5,319.2 54.8,316.9 55.1,315.1 55.4,314.3 55.7,314.6 56.0,315.9 56.3,317.8 56.6,319.6 56.9,320.9 57.2,321.2 57.5,320.5 57.8,318.9 58.1,316.7 58.5,314.6 58.8,312.9 59.1,312.2 59.4,312.7 59.7,314.1 60.0,316.0 60.3,318.0 60.6,319.4 60.9,319.9 61.2,319.2 61.5,317.6 61.8,315.3 62.1,313.1 62.5,311.4 62.8,310.7 63.1,311.1 63.4,312.6 63.7,314.6 64.0,316.6 64.3,318.1 64.6,318.6 64.9,317.9 65.2,316.2 65.5,313.9 65.8,311.6 66.1,309.8 66.4,309.1 66.8,309.6 67.1,311.1 67.4,313.2 67.7,315.3 68.0,316.8 68.3,317.3 68.6,316.6 68.9,314.8 69.2,312.4 69.5,310.1 69.8,308.3 70.1,307.5 70.4,308.0 70.7,309.6 71.1,311.7 71.4,313.9 71.7,315.4 72.0,315.9 72.3,315.2 72.6,313.4 72.9,311.0 73.2,308.6 73.5,306.7 73.8,306.0 74.1,306.5 74.4,308.1 74.7,310.3 75.1,312.5 75.4,314.1 75.7,314.6 76.0,313.9 76.3,312.0 76.6,309.6 76.9,307.1 77.2,305.2 77.5,304.4 77.8,304.9 78.1,306.6 78.4,308.8 78.7,311.1 79.0,312.8 79.4,313.3 79.7,312.6 80.0,310.7 80.3,308.1 80.6,305.6 80.9,303.6 81.2,302.9 81.5,303.4 81.8,305.1 82.1,307.4 82.4,309.7 82.7,311.4 83.0,312.0 83.4,311.2 83.7,309.3 84.0,306.7 84.3,304.1 84.6,302.1 84.9,301.3 85.2,301.8 85.5,303.6 85.8,306.0 86.1,308.4 86.4,310.1 86.7,310.7 87.0,309.9 87.3,307.9 87.7,305.2 88.0,302.6 88.3,300.5 88.6,299.7 88.9,300.3 89.2,302.1 89.5,304.5 89.8,307.0 90.1,308.8 90.4,309.4 90.7,308.6 91.0,306.5 91.3,303.8 91.7,301.0 92.0,299.0 92.3,298.2 92.6,298.7 92.9,300.5 93.2,303.1 93.5,305.6 93.8,307.5 94.1,308.1 94.4,307.2 94.7,305.2 95.0,302.4 95.3,299.5 95.6,297.5 96.0,296.6 96.3,297.3 96.6,299.2 96.9,301.8 97.2,304.5 97.5,306.4 97.8,307.1 98.1,306.3 98.4,304.2 98.7,301.5 99.0,298.7 99.3,296.6 99.6,295.8 100.0,296.5 100.3,298.4 100.6,301.1 100.9,303.8 101.2,305.7 101.5,306.4 101.8,305.6 102.1,303.5 102.4,300.8 102.7,298.0 103.0,295.9 103.3,295.1 103.6,295.8 103.9,297.7 104.3,300.4 104.6,303.1 104.9,305.0 105.2,305.7 105.5,304.9 105.8,302.9 106.1,300.0 106.4,297.2 106.7,295.1 107.0,294.3 107.3,295.0 107.6,297.0 107.9,299.7 108.2,302.4 108.6,304.4 108.9,305.1 109.2,304.3 109.5,302.2 109.8,299.3 110.1,296.5 110.4,294.4 110.7,293.6 111.0,294.3 111.3,296.2 111.6,299.0 111.9,301.7 112.2,303.7 112.6,304.4 112.9,303.6 113.2,301.5 113.5,298.6 113.8,295.8 114.1,293.6 114.4,292.8 114.7,293.5 115.0,295.5 115.3,298.3 115.6,301.0 115.9,303.0 116.2,303.7 116.5,302.9 116.9,300.8 117.2,297.9 117.5,295.0 117.8,292.9 118.1,292.1 118.4,292.8 118.7,294.8 119.0,297.5 119.3,300.3 119.6,302.3 119.9,303.0 120.2,302.2 120.5,300.1 120.9,297.2 121.2,294.3 121.5,292.1 121.8,291.3 122.1,292.0 122.4,294.0 122.7,296.8 123.0,299.6 123.3,301.7 123.6,302.4 123.9,301.6 124.2,299.4 124.5,296.5 124.8,293.5 125.2,291.4 125.5,290.6 125.8,291.3 126.1,293.3 126.4,296.1 126.7,298.9 127.0,301.0 127.3,301.7 127.6,300.9 127.9,298.7 128.2,295.8 128.5,292.8 128.8,290.6 129.2,289.8 129.5,290.5 129.8,292.6 130.1,295.4 130.4,298.2 130.7,300.3 131.0,301.0 131.3,300.2 131.6,298.0 131.9,295.0 132.2,292.1 132.5,289.9 132.8,289.0 133.1,289.8 133.5,291.8 133.8,294.7 134.1,297.6 134.4,299.6 134.7,300.4 135.0,299.5 135.3,297.3 135.6,294.3 135.9,291.3 136.2,289.1 136.5,288.3 136.8,289.0 137.1,291.1 137.5,294.0 137.8,296.9 138.1,299.0 138.4,299.7 138.7,298.8 139.0,296.6 139.3,293.6 139.6,290.6 139.9,288.4 140.2,287.5 140.5,288.3 140.8,290.4 141.1,293.3 141.4,296.2 141.8,298.3 142.1,299.0 142.4,298.2 142.7,295.9 143.0,292.9 143.3,289.9 143.6,287.6 143.9,286.8 144.2,287.5 144.5,289.6 144.8,292.6 145.1,295.5 145.4,297.6 145.7,298.4 146.1,297.5 146.4,295.3 146.7,292.2 147.0,289.1 147.3,286.9 147.6,286.0 147.9,286.8 148.2,288.9 148.5,291.9 148.8,294.9 149.1,297.1 149.4,297.8 149.7,297.0 150.1,294.8 150.4,291.7 150.7,288.7 151.0,286.4 151.3,285.6 151.6,286.4 151.9,288.5 152.2,291.5 152.5,294.5 152.8,296.7 153.1,297.5 153.4,296.7 153.7,294.4 154.0,291.3 154.4,288.3 154.7,286.0 155.0,285.2 155.3,285.9 155.6,288.1 155.9,291.1 156.2,294.2 156.5,296.4 156.8,297.1 157.1,296.3 157.4,294.0 157.7,291.0 158.0,287.9 158.4,285.6 158.7,284.7 159.0,285.5 159.3,287.7 159.6,290.8 159.9,293.8 160.2,296.0 160.5,296.8 160.8,296.0 161.1,293.7 161.4,290.6 161.7,287.5 162.0,285.2 162.3,284.3 162.7,285.1 163.0,287.3 163.3,290.4 163.6,293.4 163.9,295.7 164.2,296.5 164.5,295.6 164.8,293.3 165.1,290.2 165.4,287.1 165.7,284.8 166.0,283.9 166.3,284.7 166.7,286.9 167.0,290.0 167.3,293.1 167.6,295.3 167.9,296.1 168.2,295.3 168.5,292.9 168.8,289.8 169.1,286.7 169.4,284.3 169.7,283.5 170.0,284.3 170.3,286.5 170.6,289.6 171.0,292.7 171.3,295.0 171.6,295.8 171.9,294.9 172.2,292.6 172.5,289.4 172.8,286.3 173.1,283.9 173.4,283.1 173.7,283.9 174.0,286.1 174.3,289.2 174.6,292.3 174.9,294.6 175.3,295.4 175.6,294.6 175.9,292.2 176.2,289.0 176.5,285.9 176.8,283.5 177.1,282.6 177.4,283.4 177.7,285.7 178.0,288.8 178.3,292.0 178.6,294.3 178.9,295.1 179.3,294.2 179.6,291.9 179.9,288.7 180.2,285.5 180.5,283.1 180.8,282.2 181.1,283.0 181.4,285.3 181.7,288.5 182.0,291.6 182.3,293.9 182.6,294.7 182.9,293.9 183.2,291.5 183.6,288.3 183.9,285.1 184.2,282.7 184.5,281.8 184.8,282.6 185.1,284.9 185.4,288.1 185.7,291.2 186.0,293.6 186.3,294.4 186.6,293.5 186.9,291.1 187.2,287.9 187.6,284.6 187.9,282.3 188.2,281.4 188.5,282.2 188.8,284.5 189.1,287.7 189.4,290.9 189.7,293.2 190.0,294.0 190.3,293.2 190.6,290.8 190.9,287.5 191.2,284.2 191.5,281.8 191.9,280.9 192.2,281.8 192.5,284.1 192.8,287.3 193.1,290.5 193.4,292.9 193.7,293.7 194.0,292.8 194.3,290.4 194.6,287.1 194.9,283.8 195.2,281.4 195.5,280.5 195.9,281.4 196.2,283.7 196.5,286.9 196.8,290.2 197.1,292.5 197.4,293.4 197.7,292.5 198.0,290.0 198.3,286.7 198.6,283.4 198.9,281.0 199.2,280.1 199.5,280.9 199.8,283.3 200.2,286.5 200.5,289.8 200.8,292.2 201.1,293.0 201.4,292.1 201.7,289.7 202.0,286.4 202.3,283.0 202.6,280.6 202.9,279.7 203.2,280.5 203.5,282.9 203.8,286.2 204.2,289.4 204.5,291.8 204.8,292.7 205.1,291.8 205.4,289.3 205.7,286.0 206.0,282.6 206.3,280.2 206.6,279.3 206.9,280.1 207.2,282.5 207.5,285.8 207.8,289.1 208.1,291.5 208.5,292.3 208.8,291.4 209.1,288.9 209.4,285.6 209.7,282.2 210.0,279.8 210.3,278.8 210.6,279.7 210.9,282.1 211.2,285.4 211.5,288.7 211.8,291.1 212.1,292.0 212.4,291.1 212.8,288.6 213.1,285.2 213.4,281.8 213.7,279.3 214.0,278.4 214.3,279.3 214.6,281.7 214.9,285.0 215.2,288.3 215.5,290.8 215.8,291.6 216.1,290.7 216.4,288.2 216.8,284.8 217.1,281.4 217.4,278.9 217.7,278.0 218.0,278.9 218.3,281.3 218.6,284.6 218.9,288.0 219.2,290.4 219.5,291.3 219.8,290.4 220.1,287.9 220.4,284.4 220.7,281.0 221.1,278.5 221.4,277.6 221.7,278.4 222.0,280.9 222.3,284.2 222.6,287.6 222.9,290.1 223.2,290.9 223.5,290.0 223.8,287.5 224.1,284.1 224.4,280.6 224.7,278.1 225.1,277.1 225.4,278.0 225.7,280.5 226.0,283.9 226.3,287.2 226.6,289.7 226.9,290.6 227.2,289.7 227.5,287.1 227.8,283.7 228.1,280.2 228.4,277.7 228.7,276.7 229.0,277.6 229.4,280.1 229.7,283.5 230.0,286.9 230.3,289.4 230.6,290.3 230.9,289.3 231.2,286.8 231.5,283.3 231.8,279.8 232.1,277.3 232.4,276.3 232.7,277.2 233.0,279.7 233.4,283.1 233.7,286.5 234.0,289.0 234.3,289.9 234.6,289.0 234.9,286.4 235.2,282.9 235.5,279.4 235.8,276.8 236.1,275.9 236.4,276.8 236.7,279.3 237.0,282.7 237.3,286.2 237.7,288.7 238.0,289.6 238.3,288.6 238.6,286.0 238.9,282.5 239.2,279.0 239.5,276.4 239.8,275.5 240.1,276.4 240.4,278.9 240.7,282.3 241.0,285.8 241.3,288.3 241.7,289.2 242.0,288.3 242.3,285.7 242.6,282.1 242.9,278.6 243.2,276.0 243.5,275.1 243.8,276.0 244.1,278.5 244.4,282.0 244.7,285.4 245.0,288.0 245.3,288.9 245.6,287.9 246.0,285.3 246.3,281.8 246.6,278.3 246.9,275.7 247.2,274.7 247.5,275.6 247.8,278.2 248.1,281.7 248.4,285.1 248.7,287.7 249.0,288.6 249.3,287.6 249.6,285.0 249.9,281.5 250.3,278.0 250.6,275.4 250.9,274.4 251.2,275.3 251.5,277.9 251.8,281.3 252.1,284.8 252.4,287.3 252.7,288.3 253.0,287.3 253.3,284.7 253.6,281.2 253.9,277.7 254.3,275.1 254.6,274.1 254.9,275.0 255.2,277.5 255.5,281.0 255.8,284.5 256.1,287.1 256.4,288.0 256.7,287.1 257.0,284.5 257.3,281.0 257.6,277.5 257.9,274.9" stroke="#4a4aff" stroke-width="1.05" stroke-opacity="1"/>
<path d="M30.7,500.0 31.4,450.0 32.2,435.0 33.1,422.2 33.4,423.8 33.8,426.5 34.1,430.8 34.4,425.3 34.7,420.7 35.0,417.1 35.3,414.3 35.6,412.2 35.9,410.8 36.3,410.3 36.6,410.6 36.9,412.0 37.2,414.9 37.5,419.6 37.8,427.4 38.1,418.8 38.4,413.0 38.7,408.8 39.1,405.9 39.4,404.0 39.7,402.9 40.0,402.8 40.3,403.6 40.6,405.7 40.9,409.2 41.2,415.0 41.5,425.1 41.9,414.3 42.2,407.8 42.5,403.5 42.8,400.6 43.1,398.8 43.4,398.0 43.7,398.1 44.0,399.1 44.4,401.3 44.7,405.0 45.0,411.1 45.3,422.4 45.6,410.5 45.9,403.5 46.2,398.9 46.5,395.9 46.8,394.0 47.2,393.1 47.5,393.2 47.8,394.3 48.1,396.7 48.4,400.8 48.7,407.5 49.0,420.8 49.3,407.0 49.7,399.5 50.0,394.7 50.3,391.5 50.6,389.6 50.9,388.8 51.2,388.9 51.5,390.2 51.8,392.7 52.1,396.9 52.5,404.3 52.8,419.6 53.1,403.9 53.4,396.1 53.7,391.3 54.0,388.2 54.3,386.4 54.6,385.8 54.9,386.1 55.3,387.5 55.6,390.2 55.9,394.7 56.2,402.3 56.5,418.0 56.8,402.0 57.1,394.0 57.4,389.2 57.8,386.1 58.1,384.3 58.4,383.6 58.7,384.0 59.0,385.4 59.3,388.1 59.6,392.7 59.9,400.3 60.2,416.4 60.6,400.0 60.9,392.0 61.2,387.1 61.5,384.0 61.8,382.2 62.1,381.5 62.4,381.8 62.7,383.3 63.1,386.0 63.4,390.6 63.7,398.3 64.0,414.8 64.3,398.0 64.6,389.9 64.9,385.0 65.2,381.8 65.5,380.0 65.9,379.3 66.2,379.7 66.5,381.1 66.8,383.9 67.1,388.5 67.4,396.4 67.7,413.2 68.0,396.0 68.3,387.9 68.7,383.0 69.0,379.9 69.3,378.1 69.6,377.5 69.9,377.9 70.2,379.5 70.5,382.3 70.8,387.0 71.2,395.0 71.5,412.2 71.8,394.8 72.1,386.6 72.4,381.7 72.7,378.6 73.0,376.8 73.3,376.2 73.6,376.6 74.0,378.2 74.3,381.0 74.6,385.8 74.9,393.8 75.2,411.4 75.5,393.6 75.8,385.4 76.1,380.4 76.5,377.3 76.8,375.5 77.1,374.9 77.4,375.3 77.7,376.9 78.0,379.7 78.3,384.5 78.6,392.6 78.9,410.5 79.3,392.4 79.6,384.1 79.9,379.1 80.2,376.0 80.5,374.2 80.8,373.6 81.1,374.0 81.4,375.6 81.7,378.5 82.1,383.3 82.4,391.4 82.7,409.6 83.0,391.2 83.3,382.8 83.6,377.8 83.9,374.7 84.2,372.9 84.6,372.3 84.9,372.7 85.2,374.3 85.5,377.2 85.8,382.0 86.1,390.2 86.4,408.7 86.7,390.0 87.0,381.6 87.4,376.5 87.7,373.4 88.0,371.6 88.3,371.0 88.6,371.4 88.9,373.0 89.2,375.9 89.5,380.7 89.9,389.0 90.2,407.9 90.5,388.8 90.8,380.3 91.1,375.2 91.4,372.1 91.7,370.3 92.0,369.7 92.3,370.1 92.7,371.7 93.0,374.6 93.3,379.5 93.6,387.8 93.9,407.0 94.2,387.6 94.5,379.0 94.8,373.9 95.1,370.8 95.5,369.0 95.8,368.3 96.1,368.8 96.4,370.4 96.7,373.3 97.0,378.2 97.3,386.6 97.6,406.1 98.0,386.4 98.3,377.8 98.6,372.7 98.9,369.5 99.2,367.8 99.5,367.1 99.8,367.6 100.1,369.2 100.4,372.1 100.8,377.0 101.1,385.5 101.4,404.8 101.7,385.3 102.0,376.7 102.3,371.6 102.6,368.5 102.9,366.7 103.3,366.1 103.6,366.5 103.9,368.1 104.2,371.1 104.5,375.9 104.8,384.3 105.1,403.4 105.4,384.1 105.7,375.6 106.1,370.5 106.4,367.4 106.7,365.6 107.0,365.0 107.3,365.4 107.6,367.0 107.9,370.0 108.2,374.8 108.5,383.2 108.9,401.9 109.2,383.0 109.5,374.5 109.8,369.4 110.1,366.3 110.4,364.5 110.7,363.9 111.0,364.4 111.4,365.9 111.7,368.9 112.0,373.7 112.3,382.0 112.6,400.5 112.9,381.8 113.2,373.4 113.5,368.3 113.8,365.2 114.2,363.5 114.5,362.9 114.8,363.3 115.1,364.9 115.4,367.8 115.7,372.6 116.0,380.8 116.3,399.1 116.7,380.6 117.0,372.3 117.3,367.3 117.6,364.2 117.9,362.4 118.2,361.8 118.5,362.2 118.8,363.8 119.1,366.7 119.5,371.5 119.8,379.7 120.1,397.7 120.4,379.5 120.7,371.1 121.0,366.2 121.3,363.1 121.6,361.3 121.9,360.7 122.3,361.2 122.6,362.7 122.9,365.6 123.2,370.4 123.5,378.5 123.8,396.2 124.1,378.3 124.4,370.0 124.8,365.1 125.1,362.0 125.4,360.3 125.7,359.6 126.0,360.1 126.3,361.6 126.6,364.5 126.9,369.3 127.2,377.3 127.6,394.8 127.9,377.1 128.2,368.9 128.5,364.0 128.8,360.9 129.1,359.2 129.4,358.6 129.7,359.0 130.1,360.6 130.4,363.5 130.7,368.2 131.0,376.2 131.3,393.4 131.6,376.0 131.9,367.8 132.2,362.9 132.5,359.8 132.9,358.1 133.2,357.5 133.5,357.9 133.8,359.5 134.1,362.4 134.4,367.1 134.7,375.0 135.0,392.0 135.3,374.8 135.7,366.7 136.0,361.8 136.3,358.8 136.6,357.1 136.9,356.4 137.2,356.9 137.5,358.4 137.8,361.3 138.2,366.0 138.5,373.8 138.8,390.5 139.1,373.6 139.4,365.6 139.7,360.7 140.0,357.7 140.3,356.0 140.6,355.4 141.0,355.9 141.3,357.5 141.6,360.4 141.9,365.1 142.2,373.0 142.5,389.7 142.8,372.9 143.1,364.9 143.5,360.1 143.8,357.1 144.1,355.4 144.4,354.9 144.7,355.3 145.0,356.9 145.3,359.8 145.6,364.5 145.9,372.4 146.3,389.1 146.6,372.3 146.9,364.3 147.2,359.5 147.5,356.5 147.8,354.9 148.1,354.3 148.4,354.8 148.7,356.3 149.1,359.2 149.4,364.0 149.7,371.8 150.0,388.5 150.3,371.8 150.6,363.8 150.9,358.9 151.2,356.0 151.6,354.3 151.9,353.7 152.2,354.2 152.5,355.8 152.8,358.7 153.1,363.4 153.4,371.3 153.7,388.0 154.0,371.2 154.4,363.2 154.7,358.4 155.0,355.4 155.3,353.7 155.6,353.1 155.9,353.6 156.2,355.2 156.5,358.1 156.8,362.8 157.2,370.7 157.5,387.4 157.8,370.6 158.1,362.6 158.4,357.8 158.7,354.8 159.0,353.1 159.3,352.6 159.7,353.0 160.0,354.6 160.3,357.5 160.6,362.2 160.9,370.1 161.2,386.8 161.5,370.0 161.8,362.0 162.1,357.2 162.5,354.2 162.8,352.6 163.1,352.0 163.4,352.5 163.7,354.0 164.0,356.9 164.3,361.7 164.6,369.6 165.0,386.3 165.3,369.5 165.6,361.5 165.9,356.7 166.2,353.7 166.5,352.0 166.8,351.4 167.1,351.9 167.4,353.5 167.8,356.4 168.1,361.1 168.4,369.0 168.7,385.7 169.0,368.9 169.3,360.9 169.6,356.1 169.9,353.1 170.2,351.4 170.6,350.8 170.9,351.3 171.2,352.9 171.5,355.8 171.8,360.5 172.1,368.4 172.4,385.1 172.7,368.3 173.1,360.3 173.4,355.5 173.7,352.5 174.0,350.8 174.3,350.3 174.6,350.7 174.9,352.3 175.2,355.2 175.5,359.9 175.9,367.9 176.2,384.6 176.5,367.8 176.8,359.8 177.1,354.9 177.4,351.9 177.7,350.3 178.0,349.7 178.4,350.2 178.7,351.7 179.0,354.6 179.3,359.4 179.6,367.3 179.9,384.0 180.2,367.2 180.5,359.2 180.8,354.4 181.2,351.4 181.5,349.8 181.8,349.2 182.1,349.7 182.4,351.3 182.7,354.2 183.0,359.0 183.3,366.9 183.6,383.7 184.0,366.8 184.3,358.8 184.6,354.0 184.9,351.1 185.2,349.4 185.5,348.8 185.8,349.3 186.1,350.9 186.5,353.8 186.8,358.6 187.1,366.6 187.4,383.4 187.7,366.5 188.0,358.5 188.3,353.7 188.6,350.7 188.9,349.0 189.3,348.5 189.6,348.9 189.9,350.5 190.2,353.5 190.5,358.2 190.8,366.2 191.1,383.2 191.4,366.1 191.8,358.1 192.1,353.3 192.4,350.3 192.7,348.6 193.0,348.1 193.3,348.6 193.6,350.2 193.9,353.1 194.2,357.9 194.6,365.9 194.9,382.9 195.2,365.8 195.5,357.7 195.8,352.9 196.1,349.9 196.4,348.3 196.7,347.7 197.0,348.2 197.4,349.8 197.7,352.7 198.0,357.5 198.3,365.5 198.6,382.6 198.9,365.4 199.2,357.4 199.5,352.5 199.9,349.5 200.2,347.9 200.5,347.3 200.8,347.8 201.1,349.4 201.4,352.3 201.7,357.1 202.0,365.1 202.3,382.3 202.7,365.1 203.0,357.0 203.3,352.2 203.6,349.2 203.9,347.5 204.2,346.9 204.5,347.4 204.8,349.0 205.2,352.0 205.5,356.8 205.8,364.8 206.1,382.0 206.4,364.7 206.7,356.6 207.0,351.8 207.3,348.8 207.6,347.1 208.0,346.6 208.3,347.1 208.6,348.7 208.9,351.6 209.2,356.4 209.5,364.4 209.8,381.8 210.1,364.4 210.4,356.3 210.8,351.4 211.1,348.4 211.4,346.7 211.7,346.2 212.0,346.7 212.3,348.3 212.6,351.2 212.9,356.0 213.3,364.1 213.6,381.5 213.9,364.0 214.2,355.9 214.5,351.0 214.8,348.0 215.1,346.4 215.4,345.8 215.7,346.3 216.1,347.9 216.4,350.9 216.7,355.7 217.0,363.7 217.3,381.2 217.6,363.7 217.9,355.5 218.2,350.7 218.6,347.7 218.9,346.0 219.2,345.4 219.5,345.9 219.8,347.5 220.1,350.5 220.4,355.3 220.7,363.4 221.0,380.9 221.4,363.3 221.7,355.2 222.0,350.3 222.3,347.3 222.6,345.6 222.9,345.0 223.2,345.5 223.5,347.2 223.8,350.1 224.2,354.9 224.5,363.0 224.8,380.6 225.1,363.0 225.4,354.8 225.7,349.9 226.0,346.9 226.3,345.2 226.7,344.7 227.0,345.2 227.3,346.8 227.6,349.7 227.9,354.6 228.2,362.7 228.5,380.4 228.8,362.6 229.1,354.4 229.5,349.5 229.8,346.5 230.1,344.8 230.4,344.3 230.7,344.8 231.0,346.4 231.3,349.4 231.6,354.2 232.0,362.3 232.3,380.1 232.6,362.3 232.9,354.1 233.2,349.2 233.5,346.2 233.8,344.5 234.1,343.9 234.4,344.4 234.8,346.1 235.1,349.0 235.4,353.9 235.7,362.0 236.0,379.8 236.3,362.0 236.6,353.8 236.9,348.9 237.2,345.9 237.6,344.2 237.9,343.7 238.2,344.2 238.5,345.8 238.8,348.8 239.1,353.6 239.4,361.8 239.7,379.4 240.1,361.7 240.4,353.5 240.7,348.7 241.0,345.7 241.3,344.0 241.6,343.4 241.9,343.9 242.2,345.6 242.5,348.5 242.9,353.4 243.2,361.5 243.5,379.1 243.8,361.4 244.1,353.3 244.4,348.4 244.7,345.4 245.0,343.7 245.4,343.2 245.7,343.7 246.0,345.3 246.3,348.3 246.6,353.1 246.9,361.2 247.2,378.8 247.5,361.2 247.8,353.0 248.2,348.2 248.5,345.2 248.8,343.5 249.1,342.9 249.4,343.4 249.7,345.1 250.0,348.0 250.3,352.9 250.6,360.9 251.0,378.4 251.3,360.9 251.6,352.8 251.9,347.9 252.2,344.9 252.5,343.2 252.8,342.7 253.1,343.2 253.5,344.8 253.8,347.8 254.1,352.6 254.4,360.7 254.7,378.1 255.0,360.6 255.3,352.5 255.6,347.6 255.9,344.7 256.3,343.0 256.6,342.5 256.9,343.0 257.2,344.7 257.5,347.6 257.8,352.5" stroke="#10eaf0" stroke-width="1.15" stroke-opacity="1"/>
<path d="M30.7,500.0 31.4,460.0 32.2,440.0 33.3,426.4 33.6,423.9 33.9,420.9 34.2,417.9 34.5,415.5 34.8,414.0 35.1,413.5 35.4,413.9 35.7,414.7 36.1,415.4 36.4,415.7 36.7,415.1 37.0,414.0 37.3,412.1 37.6,409.8 37.9,407.5 38.2,405.6 38.6,404.5 38.9,404.4 39.2,405.1 39.5,406.3 39.8,407.5 40.1,408.2 40.4,408.0 40.7,407.2 41.0,405.5 41.4,403.4 41.7,401.3 42.0,399.7 42.3,398.8 42.6,398.9 42.9,399.8 43.2,401.2 43.5,402.6 43.9,403.5 44.2,403.5 44.5,402.7 44.8,401.0 45.1,398.8 45.4,396.6 45.7,394.9 46.0,394.1 46.3,394.1 46.7,395.0 47.0,396.3 47.3,397.7 47.6,398.6 47.9,398.7 48.2,397.8 48.5,396.2 48.8,394.1 49.1,392.0 49.5,390.3 49.8,389.5 50.1,389.6 50.4,390.5 50.7,391.9 51.0,393.3 51.3,394.3 51.6,394.4 52.0,393.6 52.3,392.0 52.6,389.9 52.9,388.0 53.2,386.6 53.5,385.9 53.8,386.2 54.1,387.3 54.4,388.9 54.8,390.5 55.1,391.6 55.4,391.9 55.7,391.3 56.0,389.8 56.3,387.9 56.6,386.0 56.9,384.5 57.3,383.9 57.6,384.2 57.9,385.3 58.2,386.9 58.5,388.5 58.8,389.6 59.1,389.9 59.4,389.3 59.7,387.8 60.1,385.9 60.4,384.0 60.7,382.5 61.0,381.9 61.3,382.2 61.6,383.3 61.9,384.9 62.2,386.5 62.5,387.6 62.9,387.9 63.2,387.2 63.5,385.8 63.8,383.9 64.1,382.0 64.4,380.5 64.7,379.9 65.0,380.2 65.4,381.3 65.7,382.9 66.0,384.4 66.3,385.6 66.6,385.9 66.9,385.2 67.2,383.8 67.5,381.9 67.8,379.9 68.2,378.5 68.5,377.9 68.8,378.3 69.1,379.5 69.4,381.1 69.7,382.8 70.0,384.0 70.3,384.4 70.7,383.8 71.0,382.4 71.3,380.6 71.6,378.7 71.9,377.4 72.2,376.8 72.5,377.2 72.8,378.4 73.1,380.0 73.5,381.7 73.8,382.9 74.1,383.2 74.4,382.7 74.7,381.3 75.0,379.5 75.3,377.6 75.6,376.2 75.9,375.7 76.3,376.1 76.6,377.2 76.9,378.9 77.2,380.6 77.5,381.7 77.8,382.1 78.1,381.6 78.4,380.2 78.8,378.3 79.1,376.5 79.4,375.1 79.7,374.6 80.0,374.9 80.3,376.1 80.6,377.8 80.9,379.4 81.2,380.6 81.6,381.0 81.9,380.4 82.2,379.1 82.5,377.2 82.8,375.4 83.1,374.0 83.4,373.4 83.7,373.8 84.1,375.0 84.4,376.7 84.7,378.3 85.0,379.5 85.3,379.9 85.6,379.3 85.9,377.9 86.2,376.1 86.5,374.2 86.9,372.9 87.2,372.3 87.5,372.7 87.8,373.9 88.1,375.5 88.4,377.2 88.7,378.4 89.0,378.7 89.3,378.2 89.7,376.8 90.0,375.0 90.3,373.1 90.6,371.8 90.9,371.2 91.2,371.6 91.5,372.8 91.8,374.4 92.2,376.1 92.5,377.3 92.8,377.6 93.1,377.1 93.4,375.7 93.7,373.8 94.0,372.0 94.3,370.6 94.6,370.1 95.0,370.4 95.3,371.6 95.6,373.3 95.9,374.9 96.2,376.1 96.5,376.5 96.8,375.9 97.1,374.6 97.5,372.7 97.8,370.9 98.1,369.5 98.4,369.0 98.7,369.3 99.0,370.5 99.3,372.2 99.6,373.9 99.9,375.1 100.3,375.5 100.6,374.9 100.9,373.6 101.2,371.7 101.5,369.9 101.8,368.5 102.1,368.0 102.4,368.4 102.7,369.6 103.1,371.3 103.4,372.9 103.7,374.1 104.0,374.5 104.3,373.9 104.6,372.6 104.9,370.8 105.2,368.9 105.6,367.6 105.9,367.0 106.2,367.4 106.5,368.6 106.8,370.3 107.1,371.9 107.4,373.1 107.7,373.5 108.0,373.0 108.4,371.6 108.7,369.8 109.0,368.0 109.3,366.6 109.6,366.1 109.9,366.5 110.2,367.7 110.5,369.3 110.9,371.0 111.2,372.2 111.5,372.6 111.8,372.0 112.1,370.7 112.4,368.8 112.7,367.0 113.0,365.7 113.3,365.1 113.7,365.5 114.0,366.7 114.3,368.4 114.6,370.0 114.9,371.2 115.2,371.6 115.5,371.0 115.8,369.7 116.1,367.9 116.5,366.1 116.8,364.7 117.1,364.2 117.4,364.6 117.7,365.8 118.0,367.4 118.3,369.0 118.6,370.2 119.0,370.6 119.3,370.1 119.6,368.7 119.9,366.9 120.2,365.1 120.5,363.8 120.8,363.2 121.1,363.6 121.4,364.8 121.8,366.4 122.1,368.1 122.4,369.3 122.7,369.6 123.0,369.1 123.3,367.8 123.6,366.0 123.9,364.2 124.3,362.8 124.6,362.3 124.9,362.7 125.2,363.8 125.5,365.5 125.8,367.1 126.1,368.3 126.4,368.7 126.7,368.1 127.1,366.8 127.4,365.0 127.7,363.2 128.0,361.9 128.3,361.3 128.6,361.7 128.9,362.9 129.2,364.5 129.5,366.2 129.9,367.3 130.2,367.7 130.5,367.2 130.8,365.8 131.1,364.0 131.4,362.2 131.7,360.9 132.0,360.4 132.4,360.8 132.7,361.9 133.0,363.6 133.3,365.2 133.6,366.4 133.9,366.7 134.2,366.2 134.5,364.9 134.8,363.1 135.2,361.3 135.5,360.0 135.8,359.4 136.1,359.8 136.4,361.0 136.7,362.6 137.0,364.2 137.3,365.4 137.7,365.8 138.0,365.2 138.3,363.9 138.6,362.1 138.9,360.3 139.2,359.0 139.5,358.5 139.8,358.8 140.1,360.0 140.5,361.7 140.8,363.3 141.1,364.6 141.4,365.0 141.7,364.5 142.0,363.2 142.3,361.5 142.6,359.7 142.9,358.5 143.3,358.0 143.6,358.4 143.9,359.6 144.2,361.3 144.5,363.0 144.8,364.2 145.1,364.6 145.4,364.1 145.8,362.8 146.1,361.1 146.4,359.4 146.7,358.1 147.0,357.6 147.3,358.0 147.6,359.2 147.9,360.9 148.2,362.6 148.6,363.8 148.9,364.2 149.2,363.7 149.5,362.4 149.8,360.7 150.1,359.0 150.4,357.7 150.7,357.2 151.1,357.6 151.4,358.8 151.7,360.5 152.0,362.2 152.3,363.4 152.6,363.8 152.9,363.3 153.2,362.1 153.5,360.3 153.9,358.6 154.2,357.3 154.5,356.8 154.8,357.3 155.1,358.5 155.4,360.1 155.7,361.8 156.0,363.0 156.3,363.4 156.7,362.9 157.0,361.7 157.3,359.9 157.6,358.2 157.9,356.9 158.2,356.4 158.5,356.9 158.8,358.1 159.2,359.7 159.5,361.4 159.8,362.6 160.1,363.0 160.4,362.6 160.7,361.3 161.0,359.6 161.3,357.8 161.6,356.5 162.0,356.1 162.3,356.5 162.6,357.7 162.9,359.4 163.2,361.0 163.5,362.2 163.8,362.7 164.1,362.2 164.5,360.9 164.8,359.2 165.1,357.4 165.4,356.2 165.7,355.7 166.0,356.1 166.3,357.3 166.6,359.0 166.9,360.6 167.3,361.9 167.6,362.3 167.9,361.8 168.2,360.5 168.5,358.8 168.8,357.0 169.1,355.8 169.4,355.3 169.7,355.7 170.1,356.9 170.4,358.6 170.7,360.3 171.0,361.5 171.3,361.9 171.6,361.4 171.9,360.1 172.2,358.4 172.6,356.7 172.9,355.4 173.2,354.9 173.5,355.3 173.8,356.5 174.1,358.2 174.4,359.9 174.7,361.1 175.0,361.5 175.4,361.0 175.7,359.7 176.0,358.0 176.3,356.3 176.6,355.0 176.9,354.5 177.2,354.9 177.5,356.1 177.9,357.8 178.2,359.5 178.5,360.7 178.8,361.1 179.1,360.6 179.4,359.4 179.7,357.6 180.0,355.9 180.3,354.6 180.7,354.2 181.0,354.6 181.3,355.8 181.6,357.5 181.9,359.1 182.2,360.3 182.5,360.8 182.8,360.3 183.1,359.0 183.5,357.3 183.8,355.6 184.1,354.4 184.4,353.9 184.7,354.3 185.0,355.5 185.3,357.2 185.6,358.8 186.0,360.0 186.3,360.4 186.6,359.9 186.9,358.7 187.2,357.0 187.5,355.3 187.8,354.1 188.1,353.6 188.4,354.1 188.8,355.2 189.1,356.9 189.4,358.5 189.7,359.6 190.0,360.1 190.3,359.6 190.6,358.4 190.9,356.7 191.3,355.0 191.6,353.8 191.9,353.4 192.2,353.8 192.5,355.0 192.8,356.5 193.1,358.1 193.4,359.3 193.7,359.7 194.1,359.2 194.4,358.0 194.7,356.4 195.0,354.8 195.3,353.6 195.6,353.1 195.9,353.5 196.2,354.7 196.5,356.2 196.9,357.8 197.2,359.0 197.5,359.4 197.8,358.9 198.1,357.7 198.4,356.1 198.7,354.5 199.0,353.3 199.4,352.9 199.7,353.3 200.0,354.4 200.3,355.9 200.6,357.5 200.9,358.6 201.2,359.0 201.5,358.6 201.8,357.4 202.2,355.8 202.5,354.2 202.8,353.0 203.1,352.6 203.4,353.0 203.7,354.1 204.0,355.6 204.3,357.2 204.7,358.3 205.0,358.7 205.3,358.2 205.6,357.0 205.9,355.5 206.2,353.9 206.5,352.8 206.8,352.3 207.1,352.7 207.5,353.8 207.8,355.3 208.1,356.8 208.4,357.9 208.7,358.3 209.0,357.9 209.3,356.7 209.6,355.2 209.9,353.6 210.3,352.5 210.6,352.1 210.9,352.5 211.2,353.5 211.5,355.0 211.8,356.5 212.1,357.6 212.4,357.9 212.8,357.5 213.1,356.4 213.4,354.9 213.7,353.3 214.0,352.2 214.3,351.8 214.6,352.2 214.9,353.3 215.2,354.7 215.6,356.2 215.9,357.2 216.2,357.6 216.5,357.2 216.8,356.1 217.1,354.6 217.4,353.1 217.7,352.0 218.0,351.6 218.4,351.9 218.7,353.0 219.0,354.4 219.3,355.8 219.6,356.9 219.9,357.2 220.2,356.8 220.5,355.7 220.9,354.3 221.2,352.8 221.5,351.7 221.8,351.3 222.1,351.7 222.4,352.7 222.7,354.1 223.0,355.5 223.3,356.5 223.7,356.9 224.0,356.5 224.3,355.4 224.6,354.0 224.9,352.5 225.2,351.4 225.5,351.0 225.8,351.4 226.2,352.4 226.5,353.8 226.8,355.2 227.1,356.2 227.4,356.5 227.7,356.1 228.0,355.1 228.3,353.6 228.6,352.2 229.0,351.2 229.3,350.8 229.6,351.1 229.9,352.1 230.2,353.5 230.5,354.9 230.8,355.9 231.1,356.2 231.4,355.8 231.8,354.8 232.1,353.3 232.4,351.9 232.7,350.9 233.0,350.5 233.3,350.9 233.6,351.8 233.9,353.2 234.3,354.6 234.6,355.6 234.9,355.9 235.2,355.5 235.5,354.5 235.8,353.1 236.1,351.7 236.4,350.7 236.7,350.3 237.1,350.6 237.4,351.6 237.7,353.0 238.0,354.4 238.3,355.4 238.6,355.8 238.9,355.4 239.2,354.3 239.6,352.9 239.9,351.5 240.2,350.4 240.5,350.0 240.8,350.4 241.1,351.4 241.4,352.8 241.7,354.2 242.0,355.2 242.4,355.6 242.7,355.2 243.0,354.1 243.3,352.7 243.6,351.2 243.9,350.2 244.2,349.8 244.5,350.1 244.8,351.2 245.2,352.6 245.5,354.0 245.8,355.1 246.1,355.4 246.4,355.0 246.7,353.9 247.0,352.5 247.3,351.0 247.7,349.9 248.0,349.5 248.3,349.9 248.6,350.9 248.9,352.4 249.2,353.8 249.5,354.9 249.8,355.3 250.1,354.9 250.5,353.8 250.8,352.3 251.1,350.8 251.4,349.7 251.7,349.3 252.0,349.6 252.3,350.7 252.6,352.2 253.0,353.6 253.3,354.7 253.6,355.1 253.9,354.7 254.2,353.6 254.5,352.1 254.8,350.6 255.1,349.4 255.4,349.0 255.8,349.4 256.1,350.5 256.4,352.0 256.7,353.5 257.0,354.6 257.3,355.0 257.6,354.6 257.9,353.5" stroke="#cac232" stroke-width="0.95" stroke-opacity="1"/>
<path d="M33.0,422.0 34.1,418.2 35.2,414.5 36.3,412.6 37.5,410.8 38.6,408.9 39.7,407.1 40.9,405.5 42.0,404.3 43.1,403.2 44.3,402.0 45.4,400.9 46.5,399.7 47.6,398.6 48.8,397.4 49.9,396.3 51.0,395.2 52.2,394.1 53.3,393.3 54.4,392.7 55.6,392.1 56.7,391.4 57.8,390.8 59.0,390.2 60.1,389.5 61.2,388.9 62.3,388.3 63.5,387.6 64.6,387.0 65.7,386.4 66.9,385.7 68.0,385.1 69.1,384.7 70.3,384.4 71.4,384.1 72.5,383.8 73.7,383.5 74.8,383.1 75.9,382.8 77.0,382.5 78.2,382.2 79.3,381.9 80.4,381.5 81.6,381.2 82.7,380.9 83.8,380.6 85.0,380.3 86.1,379.9 87.2,379.6 88.4,379.3 89.5,379.0 90.6,378.6 91.7,378.3 92.9,378.0 94.0,377.7 95.1,377.4 96.3,377.0 97.4,376.7 98.5,376.4 99.7,376.2 100.8,376.0 101.9,375.7 103.1,375.5 104.2,375.3 105.3,375.1 106.4,374.8 107.6,374.6 108.7,374.4 109.8,374.1 111.0,373.9 112.1,373.7 113.2,373.5 114.4,373.2 115.5,373.0 116.6,372.8 117.7,372.5 118.9,372.3 120.0,372.1 121.1,371.9 122.3,371.6 123.4,371.4 124.5,371.2 125.7,370.9 126.8,370.7 127.9,370.5 129.1,370.3 130.2,370.0 131.3,369.8 132.4,369.6 133.6,369.3 134.7,369.1 135.8,368.9 137.0,368.7 138.1,368.4 139.2,368.2 140.4,368.0 141.5,367.9 142.6,367.8 143.8,367.8 144.9,367.7 146.0,367.6 147.1,367.5 148.3,367.5 149.4,367.4 150.5,367.3 151.7,367.2 152.8,367.2 153.9,367.1 155.1,367.0 156.2,366.9 157.3,366.9 158.5,366.8 159.6,366.7 160.7,366.6 161.8,366.6 163.0,366.5 164.1,366.4 165.2,366.3 166.4,366.3 167.5,366.2 168.6,366.1 169.8,366.0 170.9,366.0 172.0,365.9 173.2,365.8 174.3,365.7 175.4,365.7 176.5,365.6 177.7,365.5 178.8,365.5 179.9,365.4 181.1,365.3 182.2,365.3 183.3,365.2 184.5,365.1 185.6,365.1 186.7,365.0 187.8,364.9 189.0,364.8 190.1,364.8 191.2,364.7 192.4,364.6 193.5,364.6 194.6,364.5 195.8,364.4 196.9,364.4 198.0,364.3 199.2,364.2 200.3,364.1 201.4,364.1 202.5,364.0 203.7,363.9 204.8,363.9 205.9,363.8 207.1,363.7 208.2,363.7 209.3,363.6 210.5,363.5 211.6,363.5 212.7,363.4 213.9,363.4 215.0,363.3 216.1,363.3 217.2,363.2 218.4,363.2 219.5,363.1 220.6,363.1 221.8,363.0 222.9,363.0 224.0,362.9 225.2,362.9 226.3,362.8 227.4,362.8 228.6,362.7 229.7,362.7 230.8,362.7 231.9,362.6 233.1,362.6 234.2,362.5 235.3,362.5 236.5,362.4 237.6,362.4 238.7,362.3 239.9,362.3 241.0,362.2 242.1,362.2 243.3,362.1 244.4,362.1 245.5,362.0 246.6,362.0 247.8,361.9 248.9,361.9 250.0,361.8 251.2,361.8 252.3,361.7 253.4,361.7 254.6,361.6 255.7,361.6 256.8,361.6 257.9,361.6 257.9,376.6 256.8,376.6 255.7,376.6 254.6,376.7 253.4,376.7 252.3,376.8 251.2,376.9 250.0,376.9 248.9,377.0 247.8,377.1 246.6,377.1 245.5,377.2 244.4,377.3 243.3,377.4 242.1,377.4 241.0,377.5 239.9,377.6 238.7,377.6 237.6,377.7 236.5,377.8 235.3,377.9 234.2,377.9 233.1,378.0 231.9,378.1 230.8,378.1 229.7,378.2 228.6,378.3 227.4,378.3 226.3,378.4 225.2,378.5 224.0,378.6 222.9,378.6 221.8,378.7 220.6,378.8 219.5,378.8 218.4,378.9 217.2,379.0 216.1,379.1 215.0,379.1 213.9,379.2 212.7,379.3 211.6,379.3 210.5,379.4 209.3,379.4 208.2,379.5 207.1,379.5 205.9,379.5 204.8,379.6 203.7,379.6 202.5,379.7 201.4,379.7 200.3,379.7 199.2,379.8 198.0,379.8 196.9,379.8 195.8,379.9 194.6,379.9 193.5,379.9 192.4,380.0 191.2,380.0 190.1,380.1 189.0,380.1 187.8,380.1 186.7,380.2 185.6,380.2 184.5,380.2 183.3,380.3 182.2,380.3 181.1,380.3 179.9,380.4 178.8,380.4 177.7,380.5 176.5,380.5 175.4,380.5 174.3,380.6 173.2,380.6 172.0,380.6 170.9,380.7 169.8,380.7 168.6,380.8 167.5,380.8 166.4,380.9 165.2,381.0 164.1,381.0 163.0,381.1 161.8,381.1 160.7,381.2 159.6,381.3 158.5,381.3 157.3,381.4 156.2,381.4 155.1,381.5 153.9,381.6 152.8,381.6 151.7,381.7 150.5,381.7 149.4,381.8 148.3,381.9 147.1,381.9 146.0,382.0 144.9,382.0 143.8,382.1 142.6,382.2 141.5,382.2 140.4,382.3 139.2,382.4 138.1,382.5 137.0,382.6 135.8,382.7 134.7,382.9 133.6,383.0 132.4,383.1 131.3,383.2 130.2,383.3 129.1,383.4 127.9,383.6 126.8,383.7 125.7,383.8 124.5,383.9 123.4,384.0 122.3,384.1 121.1,384.3 120.0,384.4 118.9,384.5 117.7,384.6 116.6,384.7 115.5,384.9 114.4,385.0 113.2,385.1 112.1,385.2 111.0,385.3 109.8,385.4 108.7,385.6 107.6,385.7 106.4,385.8 105.3,385.9 104.2,386.0 103.1,386.1 101.9,386.3 100.8,386.4 99.7,386.5 98.5,386.6 97.4,386.8 96.3,387.0 95.1,387.3 94.0,387.5 92.9,387.7 91.7,388.0 90.6,388.2 89.5,388.4 88.4,388.6 87.2,388.9 86.1,389.1 85.0,389.3 83.8,389.5 82.7,389.8 81.6,390.0 80.4,390.2 79.3,390.5 78.2,390.7 77.0,390.9 75.9,391.1 74.8,391.4 73.7,391.6 72.5,391.8 71.4,392.1 70.3,392.3 69.1,392.5 68.0,392.8 66.9,393.4 65.7,394.0 64.6,394.6 63.5,395.2 62.3,395.8 61.2,396.4 60.1,397.0 59.0,397.6 57.8,398.2 56.7,398.8 55.6,399.4 54.4,400.0 53.3,400.6 52.2,401.3 51.0,402.4 49.9,403.5 48.8,404.6 47.6,405.8 46.5,406.9 45.4,408.1 44.3,409.2 43.1,410.4 42.0,411.5 40.9,412.7 39.7,414.8 38.6,417.4 37.5,420.1 36.3,422.7 35.2,425.3 34.1,427.2 33.0,429.0Z" fill="#ff9a9a" fill-opacity="0.5" stroke="none"/>
<path d="M30.7,500.0 31.4,465.0 32.2,440.0 33.0,422.0 33.3,421.7 33.6,422.8 33.9,425.0 34.2,427.6 34.5,429.7 34.8,430.3 35.1,429.0 35.4,425.5 35.8,421.1 36.1,416.7 36.4,413.5 36.7,412.1 37.0,412.5 37.3,414.4 37.6,417.1 37.9,419.6 38.2,421.2 38.6,421.2 38.9,419.6 39.2,416.6 39.5,413.1 39.8,409.7 40.1,407.2 40.4,405.9 40.7,406.3 41.1,407.9 41.4,410.1 41.7,412.4 42.0,413.9 42.3,414.3 42.6,413.3 42.9,411.1 43.2,408.2 43.5,405.3 43.9,403.1 44.2,402.1 44.5,402.5 44.8,404.0 45.1,406.3 45.4,408.5 45.7,410.1 46.0,410.5 46.3,409.5 46.7,407.3 47.0,404.4 47.3,401.5 47.6,399.3 47.9,398.3 48.2,398.7 48.5,400.3 48.8,402.5 49.2,404.8 49.5,406.4 49.8,406.7 50.1,405.7 50.4,403.6 50.7,400.7 51.0,397.8 51.3,395.6 51.6,394.6 52.0,395.0 52.3,396.6 52.6,398.9 52.9,401.3 53.2,403.0 53.5,403.6 53.8,402.7 54.1,400.6 54.5,397.9 54.8,395.1 55.1,393.0 55.4,392.2 55.7,392.7 56.0,394.4 56.3,396.9 56.6,399.3 56.9,401.1 57.3,401.6 57.6,400.8 57.9,398.7 58.2,395.9 58.5,393.1 58.8,391.0 59.1,390.1 59.4,390.6 59.7,392.4 60.1,394.9 60.4,397.4 60.7,399.2 61.0,399.7 61.3,398.8 61.6,396.7 61.9,393.9 62.2,391.0 62.6,388.9 62.9,388.0 63.2,388.5 63.5,390.3 63.8,392.9 64.1,395.4 64.4,397.2 64.7,397.8 65.0,396.9 65.4,394.7 65.7,391.9 66.0,389.0 66.3,386.8 66.6,385.9 66.9,386.4 67.2,388.3 67.5,390.9 67.9,393.4 68.2,395.3 68.5,396.0 68.8,395.2 69.1,393.1 69.4,390.2 69.7,387.4 70.0,385.2 70.3,384.4 70.7,385.1 71.0,387.0 71.3,389.8 71.6,392.6 71.9,394.6 72.2,395.3 72.5,394.5 72.8,392.3 73.1,389.4 73.5,386.4 73.8,384.2 74.1,383.3 74.4,384.0 74.7,386.1 75.0,389.0 75.3,391.9 75.6,394.0 76.0,394.7 76.3,393.9 76.6,391.6 76.9,388.5 77.2,385.5 77.5,383.2 77.8,382.3 78.1,383.0 78.4,385.1 78.8,388.1 79.1,391.1 79.4,393.3 79.7,394.1 80.0,393.2 80.3,390.9 80.6,387.7 80.9,384.5 81.3,382.1 81.6,381.2 81.9,382.0 82.2,384.2 82.5,387.3 82.8,390.4 83.1,392.7 83.4,393.5 83.7,392.6 84.1,390.1 84.4,386.9 84.7,383.6 85.0,381.1 85.3,380.2 85.6,380.9 85.9,383.2 86.2,386.4 86.5,389.7 86.9,392.0 87.2,392.8 87.5,391.9 87.8,389.4 88.1,386.0 88.4,382.6 88.7,380.1 89.0,379.1 89.4,379.9 89.7,382.3 90.0,385.6 90.3,388.9 90.6,391.4 90.9,392.2 91.2,391.2 91.5,388.7 91.8,385.2 92.2,381.7 92.5,379.0 92.8,378.0 93.1,378.9 93.4,381.3 93.7,384.8 94.0,388.2 94.3,390.7 94.7,391.6 95.0,390.6 95.3,387.9 95.6,384.3 95.9,380.7 96.2,378.0 96.5,377.0 96.8,377.8 97.1,380.4 97.5,383.9 97.8,387.5 98.1,390.0 98.4,391.0 98.7,390.0 99.0,387.3 99.3,383.6 99.6,379.9 99.9,377.1 100.3,376.1 100.6,377.0 100.9,379.7 101.2,383.4 101.5,387.1 101.8,389.8 102.1,390.8 102.4,389.7 102.8,386.9 103.1,383.1 103.4,379.3 103.7,376.4 104.0,375.3 104.3,376.3 104.6,379.1 104.9,382.9 105.2,386.7 105.6,389.5 105.9,390.5 106.2,389.5 106.5,386.6 106.8,382.6 107.1,378.6 107.4,375.7 107.7,374.6 108.1,375.6 108.4,378.4 108.7,382.4 109.0,386.3 109.3,389.2 109.6,390.3 109.9,389.2 110.2,386.2 110.5,382.1 110.9,378.0 111.2,375.0 111.5,373.8 111.8,374.8 112.1,377.8 112.4,381.9 112.7,386.0 113.0,389.0 113.3,390.1 113.7,388.9 114.0,385.8 114.3,381.6 114.6,377.4 114.9,374.2 115.2,373.1 115.5,374.1 115.8,377.2 116.2,381.4 116.5,385.6 116.8,388.7 117.1,389.8 117.4,388.7 117.7,385.5 118.0,381.1 118.3,376.8 118.6,373.5 119.0,372.3 119.3,373.4 119.6,376.5 119.9,380.9 120.2,385.2 120.5,388.4 120.8,389.6 121.1,388.4 121.5,385.1 121.8,380.6 122.1,376.1 122.4,372.8 122.7,371.5 123.0,372.7 123.3,375.9 123.6,380.4 123.9,384.9 124.3,388.2 124.6,389.4 124.9,388.1 125.2,384.8 125.5,380.1 125.8,375.5 126.1,372.1 126.4,370.8 126.7,372.0 127.1,375.3 127.4,379.9 127.7,384.5 128.0,387.9 128.3,389.1 128.6,387.9 128.9,384.4 129.2,379.6 129.6,374.9 129.9,371.4 130.2,370.0 130.5,371.2 130.8,374.7 131.1,379.4 131.4,384.2 131.7,387.6 132.0,388.9 132.4,387.6 132.7,384.0 133.0,379.2 133.3,374.3 133.6,370.6 133.9,369.3 134.2,370.5 134.5,374.0 134.9,378.9 135.2,383.8 135.5,387.4 135.8,388.7 136.1,387.3 136.4,383.7 136.7,378.7 137.0,373.6 137.3,369.9 137.7,368.5 138.0,369.8 138.3,373.4 138.6,378.4 138.9,383.4 139.2,387.1 139.5,388.4 139.8,387.1 140.1,383.3 140.5,378.2 140.8,373.1 141.1,369.3 141.4,367.9 141.7,369.3 142.0,373.0 142.3,378.1 142.6,383.2 143.0,386.9 143.3,388.3 143.6,386.9 143.9,383.1 144.2,378.0 144.5,372.8 144.8,369.1 145.1,367.7 145.4,369.0 145.8,372.8 146.1,377.9 146.4,383.0 146.7,386.7 147.0,388.1 147.3,386.7 147.6,382.9 147.9,377.8 148.3,372.6 148.6,368.8 148.9,367.4 149.2,368.8 149.5,372.5 149.8,377.7 150.1,382.8 150.4,386.5 150.7,387.9 151.1,386.5 151.4,382.7 151.7,377.5 152.0,372.4 152.3,368.6 152.6,367.2 152.9,368.5 153.2,372.3 153.5,377.4 153.9,382.6 154.2,386.4 154.5,387.7 154.8,386.3 155.1,382.5 155.4,377.3 155.7,372.1 156.0,368.3 156.4,366.9 156.7,368.3 157.0,372.1 157.3,377.2 157.6,382.4 157.9,386.2 158.2,387.6 158.5,386.2 158.8,382.3 159.2,377.1 159.5,371.9 159.8,368.1 160.1,366.7 160.4,368.0 160.7,371.8 161.0,377.0 161.3,382.2 161.7,386.0 162.0,387.4 162.3,386.0 162.6,382.1 162.9,376.9 163.2,371.7 163.5,367.8 163.8,366.4 164.1,367.8 164.5,371.6 164.8,376.8 165.1,382.0 165.4,385.8 165.7,387.2 166.0,385.8 166.3,382.0 166.6,376.7 166.9,371.5 167.3,367.6 167.6,366.2 167.9,367.6 168.2,371.4 168.5,376.6 168.8,381.8 169.1,385.6 169.4,387.0 169.8,385.6 170.1,381.8 170.4,376.5 170.7,371.2 171.0,367.4 171.3,365.9 171.6,367.3 171.9,371.2 172.2,376.4 172.6,381.7 172.9,385.5 173.2,386.9 173.5,385.5 173.8,381.6 174.1,376.3 174.4,371.0 174.7,367.1 175.1,365.7 175.4,367.1 175.7,371.0 176.0,376.3 176.3,381.6 176.6,385.4 176.9,386.9 177.2,385.4 177.5,381.5 177.9,376.2 178.2,370.8 178.5,366.9 178.8,365.5 179.1,366.9 179.4,370.8 179.7,376.1 180.0,381.5 180.3,385.4 180.7,386.8 181.0,385.4 181.3,381.4 181.6,376.0 181.9,370.7 182.2,366.7 182.5,365.2 182.8,366.7 183.2,370.6 183.5,376.0 183.8,381.3 184.1,385.3 184.4,386.7 184.7,385.3 185.0,381.3 185.3,375.9 185.6,370.5 186.0,366.5 186.3,365.0 186.6,366.4 186.9,370.4 187.2,375.8 187.5,381.2 187.8,385.2 188.1,386.6 188.5,385.2 188.8,381.2 189.1,375.7 189.4,370.3 189.7,366.3 190.0,364.8 190.3,366.2 190.6,370.2 190.9,375.7 191.3,381.1 191.6,385.1 191.9,386.6 192.2,385.1 192.5,381.1 192.8,375.6 193.1,370.1 193.4,366.0 193.7,364.5 194.1,366.0 194.4,370.0 194.7,375.5 195.0,381.0 195.3,385.0 195.6,386.5 195.9,385.0 196.2,381.0 196.6,375.4 196.9,369.9 197.2,365.8 197.5,364.3 197.8,365.8 198.1,369.8 198.4,375.4 198.7,380.9 199.0,384.9 199.4,386.4 199.7,384.9 200.0,380.8 200.3,375.3 200.6,369.7 200.9,365.6 201.2,364.1 201.5,365.6 201.9,369.6 202.2,375.2 202.5,380.8 202.8,384.9 203.1,386.4 203.4,384.8 203.7,380.7 204.0,375.1 204.3,369.5 204.7,365.4 205.0,363.9 205.3,365.3 205.6,369.4 205.9,375.0 206.2,380.7 206.5,384.8 206.8,386.3 207.1,384.8 207.5,380.6 207.8,375.0 208.1,369.3 208.4,365.2 208.7,363.6 209.0,365.1 209.3,369.2 209.6,374.9 210.0,380.5 210.3,384.7 210.6,386.2 210.9,384.7 211.2,380.5 211.5,374.8 211.8,369.1 212.1,365.0 212.4,363.4 212.8,364.9 213.1,369.1 213.4,374.7 213.7,380.3 214.0,384.5 214.3,385.9 214.6,384.4 214.9,380.3 215.3,374.6 215.6,368.9 215.9,364.8 216.2,363.3 216.5,364.8 216.8,368.9 217.1,374.5 217.4,380.1 217.7,384.2 218.1,385.7 218.4,384.1 218.7,380.0 219.0,374.4 219.3,368.7 219.6,364.6 219.9,363.1 220.2,364.6 220.5,368.7 220.9,374.3 221.2,379.9 221.5,383.9 221.8,385.4 222.1,383.9 222.4,379.8 222.7,374.2 223.0,368.6 223.4,364.5 223.7,363.0 224.0,364.4 224.3,368.5 224.6,374.1 224.9,379.6 225.2,383.7 225.5,385.1 225.8,383.6 226.2,379.5 226.5,374.0 226.8,368.4 227.1,364.3 227.4,362.8 227.7,364.3 228.0,368.3 228.3,373.9 228.7,379.4 229.0,383.4 229.3,384.9 229.6,383.4 229.9,379.3 230.2,373.7 230.5,368.2 230.8,364.1 231.1,362.6 231.5,364.1 231.8,368.1 232.1,373.6 232.4,379.1 232.7,383.2 233.0,384.6 233.3,383.1 233.6,379.1 233.9,373.5 234.3,368.0 234.6,364.0 234.9,362.5 235.2,363.9 235.5,367.9 235.8,373.4 236.1,378.9 236.4,382.9 236.8,384.3 237.1,382.9 237.4,378.8 237.7,373.3 238.0,367.8 238.3,363.8 238.6,362.3 238.9,363.8 239.2,367.8 239.6,373.2 239.9,378.7 240.2,382.6 240.5,384.1 240.8,382.6 241.1,378.6 241.4,373.1 241.7,367.6 242.1,363.6 242.4,362.2 242.7,363.6 243.0,367.6 243.3,373.0 243.6,378.4 243.9,382.4 244.2,383.8 244.5,382.3 244.9,378.3 245.2,372.9 245.5,367.5 245.8,363.5 246.1,362.0 246.4,363.4 246.7,367.4 247.0,372.8 247.3,378.2 247.7,382.1 248.0,383.5 248.3,382.1 248.6,378.1 248.9,372.7 249.2,367.3 249.5,363.3 249.8,361.8 250.2,363.3 250.5,367.2 250.8,372.6 251.1,377.9 251.4,381.9 251.7,383.3 252.0,381.8 252.3,377.9 252.6,372.5 253.0,367.1 253.3,363.1 253.6,361.7 253.9,363.1 254.2,367.0 254.5,372.4 254.8,377.7 255.1,381.6 255.5,383.0 255.8,381.6 256.1,377.6 256.4,372.3 256.7,367.0 257.0,363.0 257.3,361.6 257.6,363.0 257.9,366.9" stroke="#ff3434" stroke-width="1.1" stroke-opacity="1"/>
</g>
<text x="30.70" y="477.00" text-anchor="middle" class="tl">0</text>
<text x="68.20" y="477.00" text-anchor="middle" class="tl">5</text>
<text x="105.70" y="477.00" text-anchor="middle" class="tl">10</text>
<text x="143.20" y="477.00" text-anchor="middle" class="tl">15</text>
<text x="180.70" y="477.00" text-anchor="middle" class="tl">20</text>
<text x="218.20" y="477.00" text-anchor="middle" class="tl">25</text>
<text x="255.70" y="477.00" text-anchor="middle" class="tl">30</text>
<text x="28.10" y="471.60" text-anchor="end" class="tl">10<tspan dy="-4.1" class="sup">-2</tspan></text>
<text x="28.10" y="431.22" text-anchor="end" class="tl">10<tspan dy="-4.1" class="sup">-1</tspan></text>
<text x="28.10" y="390.84" text-anchor="end" class="tl">10<tspan dy="-4.1" class="sup">0</tspan></text>
<text x="28.10" y="350.46" text-anchor="end" class="tl">10<tspan dy="-4.1" class="sup">1</tspan></text>
<text x="28.10" y="310.08" text-anchor="end" class="tl">10<tspan dy="-4.1" class="sup">2</tspan></text>
<text x="28.10" y="269.70" text-anchor="end" class="tl">10<tspan dy="-4.1" class="sup">3</tspan></text>
<text x="143.20" y="487.00" text-anchor="middle" class="xl">Time [d]</text>
<text transform="translate(12.40,366.45) rotate(-90)" text-anchor="middle" class="xl">Distance from orbit calculated by FEM method [m]</text>
<text x="139.00" y="503.60" text-anchor="middle" class="pl">(c)</text>
<rect x="129.3" y="303.6" width="121.10" height="34.90" fill="#fff" stroke="#b0b0b0" stroke-width="0.9"/>
<path d="M130.80,308.30h10.6" stroke="#3c3cff" stroke-width="0.95"/>
<text x="142.50" y="310.60" class="lg">J2+J3+J4+T2</text>
<path d="M130.80,316.75h10.6" stroke="#10eaf0" stroke-width="0.95"/>
<text x="142.50" y="319.05" class="lg">J2+J3+J4+T2+T3+T4</text>
<path d="M130.80,325.20h10.6" stroke="#c4bc30" stroke-width="0.95"/>
<text x="142.50" y="327.50" class="lg">J2+J3+J4+J5+T2+T3+T4+T5</text>
<path d="M130.80,333.65h10.6" stroke="#ff3030" stroke-width="0.95"/>
<text x="142.50" y="335.95" class="lg">J2+J3+J4+J5+J6+T2+T3+T4+T5+T6</text>
<clipPath id="clipd"><rect x="314.59999999999997" y="265.5" width="225.79999999999998" height="201.89999999999998"/></clipPath>
<rect x="315.2" y="265.5" width="225.2" height="201.89999999999998" fill="none" stroke="#b0b0b0" stroke-width="1"/>
<path d="M315.20,467.4v-2.2M315.20,265.5v2.2M352.73,467.4v-2.2M352.73,265.5v2.2M390.27,467.4v-2.2M390.27,265.5v2.2M427.80,467.4v-2.2M427.80,265.5v2.2M465.33,467.4v-2.2M465.33,265.5v2.2M502.87,467.4v-2.2M502.87,265.5v2.2M540.40,467.4v-2.2M540.40,265.5v2.2M315.2,467.40h2.2M540.4,467.40h-2.2M315.2,455.24h1.2M540.4,455.24h-1.2M315.2,448.13h1.2M540.4,448.13h-1.2M315.2,443.09h1.2M540.4,443.09h-1.2M315.2,439.18h1.2M540.4,439.18h-1.2M315.2,435.98h1.2M540.4,435.98h-1.2M315.2,433.27h1.2M540.4,433.27h-1.2M315.2,430.93h1.2M540.4,430.93h-1.2M315.2,428.87h1.2M540.4,428.87h-1.2M315.2,427.02h2.2M540.4,427.02h-2.2M315.2,414.86h1.2M540.4,414.86h-1.2M315.2,407.75h1.2M540.4,407.75h-1.2M315.2,402.71h1.2M540.4,402.71h-1.2M315.2,398.80h1.2M540.4,398.80h-1.2M315.2,395.60h1.2M540.4,395.60h-1.2M315.2,392.89h1.2M540.4,392.89h-1.2M315.2,390.55h1.2M540.4,390.55h-1.2M315.2,388.49h1.2M540.4,388.49h-1.2M315.2,386.64h2.2M540.4,386.64h-2.2M315.2,374.48h1.2M540.4,374.48h-1.2M315.2,367.37h1.2M540.4,367.37h-1.2M315.2,362.33h1.2M540.4,362.33h-1.2M315.2,358.42h1.2M540.4,358.42h-1.2M315.2,355.22h1.2M540.4,355.22h-1.2M315.2,352.51h1.2M540.4,352.51h-1.2M315.2,350.17h1.2M540.4,350.17h-1.2M315.2,348.11h1.2M540.4,348.11h-1.2M315.2,346.26h2.2M540.4,346.26h-2.2M315.2,334.10h1.2M540.4,334.10h-1.2M315.2,326.99h1.2M540.4,326.99h-1.2M315.2,321.95h1.2M540.4,321.95h-1.2M315.2,318.04h1.2M540.4,318.04h-1.2M315.2,314.84h1.2M540.4,314.84h-1.2M315.2,312.13h1.2M540.4,312.13h-1.2M315.2,309.79h1.2M540.4,309.79h-1.2M315.2,307.73h1.2M540.4,307.73h-1.2M315.2,305.88h2.2M540.4,305.88h-2.2M315.2,293.72h1.2M540.4,293.72h-1.2M315.2,286.61h1.2M540.4,286.61h-1.2M315.2,281.57h1.2M540.4,281.57h-1.2M315.2,277.66h1.2M540.4,277.66h-1.2M315.2,274.46h1.2M540.4,274.46h-1.2M315.2,271.75h1.2M540.4,271.75h-1.2M315.2,269.41h1.2M540.4,269.41h-1.2M315.2,267.35h1.2M540.4,267.35h-1.2" stroke="#b0b0b0" stroke-width="0.8" fill="none"/>
<g clip-path="url(#clipd)" fill="none" stroke-linejoin="round">
<path d="M315.2,480.0 315.8,420.0 316.4,372.0 317.1,352.0 317.7,351.0 318.0,351.3 318.3,350.6 318.6,349.8 318.9,349.2 319.2,349.3 319.5,349.8 319.8,350.4 320.1,350.8 320.4,350.5 320.7,349.4 321.0,347.3 321.3,344.6 321.7,341.8 322.0,339.4 322.3,337.9 322.6,337.8 322.9,338.7 323.2,340.2 323.5,341.6 323.8,342.3 324.1,342.2 324.4,341.2 324.7,339.1 325.0,336.6 325.4,334.0 325.7,332.0 326.0,330.9 326.3,331.0 326.6,332.0 326.9,333.3 327.2,334.6 327.5,335.3 327.8,335.4 328.1,334.6 328.4,333.0 328.7,330.9 329.0,328.8 329.4,327.0 329.7,326.1 330.0,326.3 330.3,327.3 330.6,328.9 330.9,330.5 331.2,331.5 331.5,331.7 331.8,330.9 332.1,329.2 332.4,327.0 332.7,324.8 333.0,323.0 333.4,322.1 333.7,322.4 334.0,323.6 334.3,325.4 334.6,327.1 334.9,328.4 335.2,328.7 335.5,327.9 335.8,326.1 336.1,323.8 336.4,321.4 336.7,319.6 337.1,318.8 337.4,319.1 337.7,320.3 338.0,322.1 338.3,323.9 338.6,325.0 338.9,325.3 339.2,324.5 339.5,322.8 339.8,320.6 340.1,318.4 340.4,316.8 340.7,316.0 341.1,316.3 341.4,317.6 341.7,319.4 342.0,321.3 342.3,322.6 342.6,323.0 342.9,322.3 343.2,320.8 343.5,318.7 343.8,316.6 344.1,315.1 344.4,314.4 344.7,314.8 345.1,316.1 345.4,318.0 345.7,319.9 346.0,321.3 346.3,321.7 346.6,321.0 346.9,319.4 347.2,317.3 347.5,315.2 347.8,313.5 348.1,312.9 348.4,313.3 348.8,314.7 349.1,316.6 349.4,318.5 349.7,319.9 350.0,320.4 350.3,319.7 350.6,318.1 350.9,315.9 351.2,313.7 351.5,312.0 351.8,311.3 352.1,311.8 352.4,313.2 352.8,315.2 353.1,317.2 353.4,318.6 353.7,319.1 354.0,318.4 354.3,316.7 354.6,314.5 354.9,312.2 355.2,310.5 355.5,309.8 355.8,310.2 356.1,311.7 356.4,313.8 356.8,315.8 357.1,317.3 357.4,317.8 357.7,317.1 358.0,315.4 358.3,313.1 358.6,310.7 358.9,309.0 359.2,308.2 359.5,308.7 359.8,310.2 360.1,312.4 360.5,314.5 360.8,316.0 361.1,316.5 361.4,315.8 361.7,314.0 362.0,311.6 362.3,309.2 362.6,307.4 362.9,306.7 363.2,307.2 363.5,308.8 363.8,310.9 364.1,313.1 364.5,314.7 364.8,315.2 365.1,314.5 365.4,312.7 365.7,310.2 366.0,307.8 366.3,305.9 366.6,305.2 366.9,305.7 367.2,307.3 367.5,309.5 367.8,311.8 368.1,313.4 368.5,313.9 368.8,313.2 369.1,311.3 369.4,308.8 369.7,306.3 370.0,304.4 370.3,303.6 370.6,304.1 370.9,305.8 371.2,308.1 371.5,310.4 371.8,312.1 372.2,312.6 372.5,311.9 372.8,310.0 373.1,307.4 373.4,304.8 373.7,302.9 374.0,302.1 374.3,302.6 374.6,304.3 374.9,306.7 375.2,309.1 375.5,310.8 375.8,311.3 376.2,310.6 376.5,308.6 376.8,306.0 377.1,303.3 377.4,301.4 377.7,300.5 378.0,301.1 378.3,302.8 378.6,305.3 378.9,307.7 379.2,309.5 379.5,310.1 379.8,309.3 380.2,307.3 380.5,304.6 380.8,301.9 381.1,299.8 381.4,299.0 381.7,299.6 382.0,301.5 382.3,304.0 382.6,306.6 382.9,308.5 383.2,309.1 383.5,308.4 383.9,306.4 384.2,303.7 384.5,301.0 384.8,299.1 385.1,298.3 385.4,298.9 385.7,300.8 386.0,303.4 386.3,306.0 386.6,307.9 386.9,308.5 387.2,307.8 387.5,305.8 387.9,303.1 388.2,300.4 388.5,298.4 388.8,297.6 389.1,298.2 389.4,300.1 389.7,302.7 390.0,305.3 390.3,307.2 390.6,307.9 390.9,307.1 391.2,305.1 391.5,302.4 391.9,299.7 392.2,297.6 392.5,296.9 392.8,297.5 393.1,299.4 393.4,302.1 393.7,304.7 394.0,306.6 394.3,307.3 394.6,306.5 394.9,304.5 395.2,301.8 395.6,299.0 395.9,296.9 396.2,296.2 396.5,296.8 396.8,298.8 397.1,301.4 397.4,304.1 397.7,306.0 398.0,306.7 398.3,305.9 398.6,303.9 398.9,301.1 399.2,298.3 399.6,296.2 399.9,295.4 400.2,296.1 400.5,298.1 400.8,300.8 401.1,303.5 401.4,305.4 401.7,306.1 402.0,305.3 402.3,303.3 402.6,300.4 402.9,297.6 403.3,295.5 403.6,294.7 403.9,295.4 404.2,297.4 404.5,300.1 404.8,302.8 405.1,304.8 405.4,305.5 405.7,304.7 406.0,302.6 406.3,299.8 406.6,296.9 406.9,294.8 407.3,294.0 407.6,294.7 407.9,296.7 408.2,299.5 408.5,302.2 408.8,304.2 409.1,304.9 409.4,304.1 409.7,302.0 410.0,299.1 410.3,296.3 410.6,294.1 410.9,293.3 411.3,294.0 411.6,296.0 411.9,298.8 412.2,301.6 412.5,303.6 412.8,304.3 413.1,303.5 413.4,301.4 413.7,298.5 414.0,295.6 414.3,293.4 414.6,292.6 415.0,293.3 415.3,295.3 415.6,298.2 415.9,301.0 416.2,303.0 416.5,303.7 416.8,302.9 417.1,300.8 417.4,297.8 417.7,294.9 418.0,292.7 418.3,291.9 418.6,292.6 419.0,294.7 419.3,297.5 419.6,300.4 419.9,302.4 420.2,303.2 420.5,302.3 420.8,300.1 421.1,297.2 421.4,294.2 421.7,292.0 422.0,291.2 422.3,291.9 422.6,294.0 423.0,296.9 423.3,299.7 423.6,301.8 423.9,302.6 424.2,301.7 424.5,299.5 424.8,296.5 425.1,293.5 425.4,291.3 425.7,290.5 426.0,291.2 426.3,293.3 426.7,296.2 427.0,299.1 427.3,301.2 427.6,302.0 427.9,301.1 428.2,298.9 428.5,295.9 428.8,292.8 429.1,290.6 429.4,289.8 429.7,290.5 430.0,292.6 430.3,295.5 430.7,298.5 431.0,300.6 431.3,301.4 431.6,300.5 431.9,298.3 432.2,295.2 432.5,292.2 432.8,289.9 433.1,289.1 433.4,289.9 433.7,292.1 434.0,295.0 434.3,298.0 434.7,300.2 435.0,301.0 435.3,300.1 435.6,297.9 435.9,294.8 436.2,291.8 436.5,289.5 436.8,288.7 437.1,289.5 437.4,291.7 437.7,294.7 438.0,297.7 438.4,299.8 438.7,300.6 439.0,299.8 439.3,297.5 439.6,294.5 439.9,291.4 440.2,289.1 440.5,288.3 440.8,289.1 441.1,291.3 441.4,294.3 441.7,297.3 442.0,299.5 442.4,300.3 442.7,299.5 443.0,297.2 443.3,294.1 443.6,291.0 443.9,288.7 444.2,287.9 444.5,288.7 444.8,290.9 445.1,293.9 445.4,297.0 445.7,299.2 446.0,300.0 446.4,299.1 446.7,296.8 447.0,293.7 447.3,290.6 447.6,288.3 447.9,287.5 448.2,288.3 448.5,290.5 448.8,293.5 449.1,296.6 449.4,298.8 449.7,299.6 450.1,298.8 450.4,296.5 450.7,293.4 451.0,290.2 451.3,287.9 451.6,287.1 451.9,287.9 452.2,290.1 452.5,293.2 452.8,296.3 453.1,298.5 453.4,299.3 453.7,298.4 454.1,296.1 454.4,293.0 454.7,289.9 455.0,287.5 455.3,286.7 455.6,287.5 455.9,289.7 456.2,292.8 456.5,295.9 456.8,298.2 457.1,299.0 457.4,298.1 457.7,295.8 458.1,292.6 458.4,289.5 458.7,287.1 459.0,286.3 459.3,287.1 459.6,289.3 459.9,292.4 460.2,295.6 460.5,297.8 460.8,298.6 461.1,297.8 461.4,295.4 461.8,292.3 462.1,289.1 462.4,286.7 462.7,285.9 463.0,286.7 463.3,288.9 463.6,292.1 463.9,295.2 464.2,297.5 464.5,298.3 464.8,297.4 465.1,295.1 465.4,291.9 465.8,288.7 466.1,286.3 466.4,285.5 466.7,286.3 467.0,288.6 467.3,291.7 467.6,294.9 467.9,297.1 468.2,298.0 468.5,297.1 468.8,294.7 469.1,291.5 469.4,288.3 469.8,285.9 470.1,285.0 470.4,285.9 470.7,288.2 471.0,291.3 471.3,294.5 471.6,296.8 471.9,297.6 472.2,296.8 472.5,294.4 472.8,291.2 473.1,287.9 473.5,285.5 473.8,284.6 474.1,285.5 474.4,287.8 474.7,291.0 475.0,294.1 475.3,296.5 475.6,297.3 475.9,296.4 476.2,294.0 476.5,290.8 476.8,287.5 477.1,285.1 477.5,284.2 477.8,285.1 478.1,287.4 478.4,290.6 478.7,293.8 479.0,296.1 479.3,297.0 479.6,296.1 479.9,293.7 480.2,290.4 480.5,287.1 480.8,284.7 481.1,283.8 481.5,284.7 481.8,287.0 482.1,290.2 482.4,293.4 482.7,295.8 483.0,296.6 483.3,295.7 483.6,293.3 483.9,290.0 484.2,286.8 484.5,284.3 484.8,283.4 485.2,284.3 485.5,286.6 485.8,289.9 486.1,293.1 486.4,295.5 486.7,296.3 487.0,295.4 487.3,293.0 487.6,289.7 487.9,286.4 488.2,283.9 488.5,283.0 488.8,283.9 489.2,286.2 489.5,289.5 489.8,292.7 490.1,295.1 490.4,296.0 490.7,295.1 491.0,292.6 491.3,289.3 491.6,286.0 491.9,283.5 492.2,282.6 492.5,283.5 492.8,285.8 493.2,289.1 493.5,292.4 493.8,294.8 494.1,295.6 494.4,294.7 494.7,292.3 495.0,288.9 495.3,285.6 495.6,283.1 495.9,282.2 496.2,283.1 496.5,285.5 496.9,288.8 497.2,292.0 497.5,294.5 497.8,295.3 498.1,294.4 498.4,291.9 498.7,288.6 499.0,285.2 499.3,282.7 499.6,281.8 499.9,282.7 500.2,285.1 500.5,288.4 500.9,291.7 501.2,294.1 501.5,295.0 501.8,294.1 502.1,291.6 502.4,288.2 502.7,284.8 503.0,282.3 503.3,281.4 503.6,282.3 503.9,284.7 504.2,288.0 504.5,291.3 504.9,293.8 505.2,294.7 505.5,293.7 505.8,291.2 506.1,287.8 506.4,284.4 506.7,281.9 507.0,281.0 507.3,281.9 507.6,284.3 507.9,287.6 508.2,291.0 508.6,293.4 508.9,294.3 509.2,293.4 509.5,290.9 509.8,287.5 510.1,284.0 510.4,281.5 510.7,280.6 511.0,281.5 511.3,283.9 511.6,287.3 511.9,290.6 512.2,293.1 512.6,294.0 512.9,293.0 513.2,290.5 513.5,287.1 513.8,283.6 514.1,281.1 514.4,280.2 514.7,281.1 515.0,283.5 515.3,286.9 515.6,290.3 515.9,292.8 516.2,293.7 516.6,292.7 516.9,290.2 517.2,286.7 517.5,283.3 517.8,280.7 518.1,279.8 518.4,280.7 518.7,283.1 519.0,286.5 519.3,289.9 519.6,292.4 519.9,293.3 520.3,292.4 520.6,289.8 520.9,286.4 521.2,282.9 521.5,280.3 521.8,279.4 522.1,280.3 522.4,282.7 522.7,286.2 523.0,289.6 523.3,292.1 523.6,293.0 523.9,292.0 524.3,289.5 524.6,286.0 524.9,282.5 525.2,279.9 525.5,279.0 525.8,279.8 526.1,282.4 526.4,285.8 526.7,289.2 527.0,291.8 527.3,292.7 527.6,291.7 527.9,289.1 528.3,285.6 528.6,282.1 528.9,279.6 529.2,278.6 529.5,279.5 529.8,282.0 530.1,285.5 530.4,288.9 530.7,291.5 531.0,292.4 531.3,291.4 531.6,288.8 532.0,285.3 532.3,281.8 532.6,279.2 532.9,278.3 533.2,279.2 533.5,281.7 533.8,285.2 534.1,288.6 534.4,291.2 534.7,292.1 535.0,291.1 535.3,288.5 535.6,285.0 536.0,281.5 536.3,278.9 536.6,277.9 536.9,278.8 537.2,281.4 537.5,284.8 537.8,288.3 538.1,290.8 538.4,291.8 538.7,290.8 539.0,288.2 539.3,284.7 539.6,281.2 540.0,278.6 540.3,277.6 540.6,278.5 540.9,281.1 541.2,284.6 541.5,288.1 541.8,290.7 542.1,291.6 542.4,290.7" stroke="#4a4aff" stroke-width="1.05" stroke-opacity="1"/>
<path d="M315.2,500.0 316.3,460.0 317.5,430.0 318.9,422.4 319.2,419.8 319.5,416.6 319.8,413.3 320.1,410.5 320.4,408.8 320.8,408.4 321.1,409.0 321.4,410.1 321.7,411.2 322.0,411.8 322.3,411.3 322.6,409.7 322.9,407.1 323.3,403.9 323.6,400.8 323.9,398.2 324.2,397.0 324.5,397.0 324.8,398.0 325.1,399.8 325.4,401.5 325.7,402.8 326.1,403.0 326.4,401.9 326.7,399.6 327.0,396.7 327.3,393.7 327.6,391.4 327.9,390.3 328.2,390.6 328.6,392.1 328.9,394.2 329.2,396.4 329.5,397.9 329.8,398.3 330.1,397.2 330.4,394.9 330.7,392.0 331.0,389.1 331.4,386.9 331.7,385.9 332.0,386.3 332.3,388.0 332.6,390.5 332.9,393.1 333.2,394.9 333.5,395.5 333.9,394.5 334.2,392.2 334.5,389.1 334.8,385.9 335.1,383.4 335.4,382.2 335.7,382.6 336.0,384.6 336.4,387.5 336.7,390.5 337.0,392.7 337.3,393.4 337.6,392.3 337.9,389.6 338.2,385.9 338.5,382.2 338.8,379.4 339.2,378.2 339.5,379.0 339.8,381.4 340.1,384.8 340.4,388.2 340.7,390.6 341.0,391.5 341.3,390.3 341.7,387.5 342.0,383.6 342.3,379.8 342.6,376.9 342.9,375.7 343.2,376.5 343.5,379.1 343.8,382.8 344.1,386.5 344.5,389.2 344.8,390.1 345.1,389.0 345.4,386.0 345.7,381.9 346.0,377.8 346.3,374.8 346.6,373.6 347.0,374.5 347.3,377.1 347.6,380.7 347.9,384.3 348.2,386.8 348.5,387.6 348.8,386.4 349.1,383.5 349.5,379.6 349.8,375.8 350.1,373.0 350.4,372.0 350.7,372.8 351.0,375.3 351.3,378.7 351.6,382.1 351.9,384.5 352.3,385.3 352.6,384.2 352.9,381.5 353.2,377.9 353.5,374.3 353.8,371.7 354.1,370.6 354.4,371.4 354.8,373.7 355.1,377.0 355.4,380.1 355.7,382.4 356.0,383.1 356.3,382.0 356.6,379.5 356.9,376.0 357.2,372.6 357.6,370.1 357.9,369.1 358.2,369.8 358.5,372.1 358.8,375.1 359.1,378.1 359.4,380.3 359.7,381.0 360.1,379.9 360.4,377.5 360.7,374.2 361.0,370.9 361.3,368.5 361.6,367.6 361.9,368.3 362.2,370.4 362.6,373.3 362.9,376.1 363.2,378.2 363.5,378.8 363.8,377.8 364.1,375.5 364.4,372.3 364.7,369.2 365.0,367.0 365.4,366.0 365.7,366.7 366.0,368.7 366.3,371.4 366.6,374.1 366.9,376.0 367.2,376.6 367.5,375.7 367.9,373.5 368.2,370.5 368.5,367.6 368.8,365.4 369.1,364.5 369.4,365.1 369.7,367.0 370.0,369.6 370.3,372.1 370.7,373.9 371.0,374.5 371.3,373.6 371.6,371.5 371.9,368.6 372.2,365.9 372.5,363.8 372.8,363.0 373.2,363.6 373.5,365.3 373.8,367.7 374.1,370.1 374.4,371.8 374.7,372.3 375.0,371.5 375.3,369.5 375.7,366.9 376.0,364.4 376.3,362.5 376.6,361.8 376.9,362.5 377.2,364.2 377.5,366.7 377.8,369.2 378.1,370.9 378.5,371.6 378.8,370.9 379.1,369.0 379.4,366.4 379.7,363.9 380.0,362.0 380.3,361.3 380.6,362.0 381.0,363.7 381.3,366.2 381.6,368.7 381.9,370.4 382.2,371.1 382.5,370.4 382.8,368.5 383.1,365.9 383.4,363.4 383.8,361.5 384.1,360.8 384.4,361.5 384.7,363.2 385.0,365.7 385.3,368.2 385.6,369.9 385.9,370.6 386.3,369.9 386.6,368.0 386.9,365.5 387.2,362.9 387.5,361.0 387.8,360.3 388.1,361.0 388.4,362.7 388.8,365.2 389.1,367.7 389.4,369.4 389.7,370.1 390.0,369.4 390.3,367.5 390.6,364.9 390.9,362.4 391.2,360.5 391.6,359.8 391.9,360.4 392.2,362.2 392.5,364.7 392.8,367.1 393.1,368.9 393.4,369.6 393.7,368.9 394.1,367.0 394.4,364.4 394.7,361.8 395.0,359.8 395.3,359.1 395.6,359.7 395.9,361.5 396.2,364.1 396.5,366.6 396.9,368.4 397.2,369.1 397.5,368.3 397.8,366.4 398.1,363.8 398.4,361.1 398.7,359.2 399.0,358.4 399.4,359.1 399.7,360.9 400.0,363.5 400.3,366.0 400.6,367.9 400.9,368.6 401.2,367.8 401.5,365.9 401.9,363.2 402.2,360.5 402.5,358.5 402.8,357.7 403.1,358.4 403.4,360.3 403.7,362.9 404.0,365.5 404.3,367.4 404.7,368.1 405.0,367.3 405.3,365.3 405.6,362.6 405.9,359.9 406.2,357.9 406.5,357.2 406.8,357.9 407.2,359.8 407.5,362.4 407.8,365.1 408.1,367.0 408.4,367.7 408.7,366.9 409.0,364.9 409.3,362.3 409.6,359.6 410.0,357.6 410.3,356.9 410.6,357.5 410.9,359.4 411.2,362.1 411.5,364.7 411.8,366.6 412.1,367.3 412.5,366.5 412.8,364.6 413.1,361.9 413.4,359.2 413.7,357.3 414.0,356.5 414.3,357.2 414.6,359.1 415.0,361.7 415.3,364.3 415.6,366.2 415.9,366.9 416.2,366.1 416.5,364.2 416.8,361.5 417.1,358.9 417.4,356.9 417.8,356.2 418.1,356.9 418.4,358.7 418.7,361.3 419.0,363.9 419.3,365.8 419.6,366.5 419.9,365.8 420.3,363.8 420.6,361.2 420.9,358.5 421.2,356.6 421.5,355.8 421.8,356.5 422.1,358.4 422.4,361.0 422.7,363.6 423.1,365.4 423.4,366.1 423.7,365.4 424.0,363.4 424.3,360.8 424.6,358.2 424.9,356.2 425.2,355.5 425.6,356.2 425.9,358.0 426.2,360.6 426.5,363.2 426.8,365.0 427.1,365.7 427.4,365.0 427.7,363.0 428.1,360.4 428.4,357.8 428.7,355.9 429.0,355.2 429.3,355.8 429.6,357.7 429.9,360.2 430.2,362.8 430.5,364.6 430.9,365.3 431.2,364.6 431.5,362.7 431.8,360.1 432.1,357.5 432.4,355.6 432.7,354.8 433.0,355.5 433.4,357.3 433.7,359.9 434.0,362.4 434.3,364.3 434.6,364.9 434.9,364.2 435.2,362.3 435.5,359.7 435.8,357.1 436.2,355.2 436.5,354.5 436.8,355.2 437.1,357.0 437.4,359.5 437.7,362.0 438.0,363.9 438.3,364.5 438.7,363.8 439.0,361.9 439.3,359.3 439.6,356.8 439.9,354.9 440.2,354.2 440.5,354.8 440.8,356.6 441.2,359.1 441.5,361.7 441.8,363.5 442.1,364.1 442.4,363.4 442.7,361.5 443.0,359.0 443.3,356.4 443.6,354.5 444.0,353.8 444.3,354.5 444.6,356.3 444.9,358.8 445.2,361.3 445.5,363.1 445.8,363.7 446.1,363.0 446.5,361.1 446.8,358.6 447.1,356.1 447.4,354.2 447.7,353.5 448.0,354.1 448.3,355.9 448.6,358.4 448.9,360.9 449.3,362.7 449.6,363.3 449.9,362.6 450.2,360.8 450.5,358.2 450.8,355.7 451.1,353.8 451.4,353.2 451.8,353.8 452.1,355.6 452.4,358.1 452.7,360.5 453.0,362.3 453.3,362.9 453.6,362.2 453.9,360.4 454.3,357.9 454.6,355.4 454.9,353.5 455.2,352.8 455.5,353.5 455.8,355.2 456.1,357.7 456.4,360.1 456.7,361.9 457.1,362.5 457.4,361.9 457.7,360.0 458.0,357.5 458.3,355.0 458.6,353.2 458.9,352.5 459.2,353.1 459.6,354.9 459.9,357.3 460.2,359.8 460.5,361.5 460.8,362.2 461.1,361.5 461.4,359.6 461.7,357.1 462.0,354.7 462.4,352.8 462.7,352.1 463.0,352.8 463.3,354.5 463.6,357.0 463.9,359.4 464.2,361.1 464.5,361.8 464.9,361.1 465.2,359.2 465.5,356.8 465.8,354.3 466.1,352.5 466.4,351.8 466.7,352.4 467.0,354.2 467.3,356.6 467.7,359.0 468.0,360.7 468.3,361.4 468.6,360.7 468.9,358.9 469.2,356.4 469.5,354.0 469.8,352.1 470.2,351.5 470.5,352.1 470.8,353.9 471.1,356.3 471.4,358.7 471.7,360.4 472.0,361.0 472.3,360.3 472.7,358.6 473.0,356.1 473.3,353.7 473.6,352.0 473.9,351.3 474.2,351.9 474.5,353.7 474.8,356.0 475.1,358.4 475.5,360.1 475.8,360.7 476.1,360.0 476.4,358.3 476.7,355.9 477.0,353.5 477.3,351.8 477.6,351.2 478.0,351.8 478.3,353.5 478.6,355.8 478.9,358.1 479.2,359.7 479.5,360.3 479.8,359.7 480.1,358.0 480.4,355.6 480.8,353.3 481.1,351.6 481.4,351.0 481.7,351.6 482.0,353.3 482.3,355.5 482.6,357.8 482.9,359.4 483.3,360.0 483.6,359.4 483.9,357.7 484.2,355.4 484.5,353.1 484.8,351.5 485.1,350.8 485.4,351.4 485.8,353.1 486.1,355.3 486.4,357.5 486.7,359.1 487.0,359.7 487.3,359.0 487.6,357.4 487.9,355.1 488.2,352.9 488.6,351.3 488.9,350.7 489.2,351.3 489.5,352.8 489.8,355.0 490.1,357.2 490.4,358.8 490.7,359.3 491.1,358.7 491.4,357.1 491.7,354.9 492.0,352.7 492.3,351.1 492.6,350.5 492.9,351.1 493.2,352.6 493.5,354.8 493.9,356.9 494.2,358.4 494.5,359.0 494.8,358.4 495.1,356.8 495.4,354.6 495.7,352.5 496.0,350.9 496.4,350.4 496.7,350.9 497.0,352.4 497.3,354.5 497.6,356.6 497.9,358.1 498.2,358.6 498.5,358.1 498.9,356.5 499.2,354.4 499.5,352.3 499.8,350.8 500.1,350.2 500.4,350.7 500.7,352.2 501.0,354.3 501.3,356.3 501.7,357.8 502.0,358.3 502.3,357.7 502.6,356.2 502.9,354.1 503.2,352.1 503.5,350.6 503.8,350.0 504.2,350.6 504.5,352.0 504.8,354.0 505.1,356.0 505.4,357.5 505.7,358.0 506.0,357.4 506.3,355.9 506.6,353.9 507.0,351.9 507.3,350.4 507.6,349.9 507.9,350.4 508.2,351.8 508.5,353.8 508.8,355.7 509.1,357.1 509.5,357.6 509.8,357.1 510.1,355.6 510.4,353.6 510.7,351.7 511.0,350.2 511.3,349.7 511.6,350.2 512.0,351.6 512.3,353.5 512.6,355.4 512.9,356.8 513.2,357.3 513.5,356.8 513.8,355.3 514.1,353.4 514.4,351.5 514.8,350.1 515.1,349.5 515.4,350.0 515.7,351.4 516.0,353.3 516.3,355.1 516.6,356.5 516.9,357.0 517.3,356.4 517.6,355.0 517.9,353.2 518.2,351.3 518.5,349.9 518.8,349.4 519.1,349.9 519.4,351.2 519.7,353.0 520.1,354.8 520.4,356.2 520.7,356.6 521.0,356.1 521.3,354.7 521.6,352.9 521.9,351.1 522.2,349.7 522.6,349.2 522.9,349.7 523.2,351.0 523.5,352.8 523.8,354.5 524.1,355.8 524.4,356.3 524.7,355.8 525.1,354.5 525.4,352.7 525.7,350.9 526.0,349.6 526.3,349.1 526.6,349.5 526.9,350.8 527.2,352.6 527.5,354.3 527.9,355.6 528.2,356.1 528.5,355.6 528.8,354.3 529.1,352.5 529.4,350.7 529.7,349.4 530.0,348.9 530.4,349.4 530.7,350.7 531.0,352.4 531.3,354.2 531.6,355.4 531.9,355.9 532.2,355.4 532.5,354.1 532.8,352.3 533.2,350.6 533.5,349.2 533.8,348.8 534.1,349.2 534.4,350.5 534.7,352.2 535.0,354.0 535.3,355.3 535.7,355.7 536.0,355.2 536.3,353.9 536.6,352.2 536.9,350.4 537.2,349.1 537.5,348.6 537.8,349.1 538.2,350.3 538.5,352.1 538.8,353.8 539.1,355.1 539.4,355.5 539.7,355.1 540.0,353.8 540.3,352.0 540.6,350.3 541.0,349.0 541.3,348.5 541.6,349.0 541.9,350.2 542.2,352.0 542.5,353.8" stroke="#10eaf0" stroke-width="1.15" stroke-opacity="1"/>
<path d="M318.0,422.5 319.1,420.3 320.2,418.1 321.4,415.9 322.5,413.7 323.6,411.6 324.8,409.9 325.9,408.5 327.0,407.0 328.1,405.5 329.3,404.1 330.4,402.6 331.5,401.4 332.7,400.3 333.8,399.2 334.9,398.1 336.0,396.9 337.2,395.8 338.3,394.8 339.4,394.1 340.6,393.4 341.7,392.7 342.8,392.0 343.9,391.3 345.1,390.6 346.2,389.9 347.3,389.2 348.5,388.5 349.6,387.8 350.7,387.1 351.8,386.3 353.0,385.6 354.1,384.9 355.2,384.2 356.4,383.5 357.5,382.8 358.6,382.2 359.8,381.6 360.9,380.9 362.0,380.3 363.1,379.7 364.3,379.1 365.4,378.5 366.5,377.9 367.7,377.3 368.8,376.7 369.9,376.1 371.0,375.5 372.2,374.9 373.3,374.3 374.4,373.6 375.6,373.1 376.7,373.0 377.8,372.8 378.9,372.6 380.1,372.4 381.2,372.2 382.3,372.0 383.5,371.8 384.6,371.6 385.7,371.4 386.8,371.2 388.0,371.0 389.1,370.8 390.2,370.6 391.4,370.4 392.5,370.2 393.6,370.0 394.8,369.8 395.9,369.6 397.0,369.4 398.1,369.2 399.3,369.0 400.4,368.8 401.5,368.7 402.7,368.5 403.8,368.3 404.9,368.1 406.0,367.9 407.2,367.8 408.3,367.7 409.4,367.6 410.6,367.5 411.7,367.4 412.8,367.3 413.9,367.2 415.1,367.1 416.2,367.0 417.3,366.9 418.5,366.8 419.6,366.7 420.7,366.6 421.8,366.5 423.0,366.4 424.1,366.3 425.2,366.1 426.4,366.0 427.5,365.9 428.6,365.8 429.8,365.7 430.9,365.6 432.0,365.5 433.1,365.4 434.3,365.3 435.4,365.2 436.5,365.1 437.7,365.0 438.8,364.9 439.9,364.8 441.0,364.7 442.2,364.6 443.3,364.5 444.4,364.4 445.6,364.3 446.7,364.2 447.8,364.0 448.9,363.9 450.1,363.8 451.2,363.7 452.3,363.6 453.5,363.5 454.6,363.4 455.7,363.3 456.8,363.2 458.0,363.1 459.1,363.0 460.2,362.9 461.4,362.8 462.5,362.7 463.6,362.6 464.7,362.5 465.9,362.4 467.0,362.3 468.1,362.2 469.3,362.1 470.4,361.9 471.5,361.8 472.7,361.7 473.8,361.6 474.9,361.5 476.0,361.4 477.2,361.3 478.3,361.2 479.4,361.1 480.6,361.0 481.7,360.9 482.8,360.8 483.9,360.7 485.1,360.6 486.2,360.5 487.3,360.4 488.5,360.3 489.6,360.2 490.7,360.1 491.8,360.0 493.0,359.9 494.1,359.8 495.2,359.7 496.4,359.6 497.5,359.5 498.6,359.4 499.7,359.3 500.9,359.2 502.0,359.1 503.1,359.0 504.3,358.9 505.4,358.8 506.5,358.7 507.7,358.6 508.8,358.5 509.9,358.4 511.0,358.3 512.2,358.2 513.3,358.1 514.4,358.0 515.6,357.9 516.7,357.8 517.8,357.7 518.9,357.6 520.1,357.5 521.2,357.4 522.3,357.3 523.5,357.2 524.6,357.1 525.7,357.0 526.8,357.0 528.0,356.9 529.1,356.9 530.2,356.8 531.4,356.8 532.5,356.8 533.6,356.7 534.7,356.7 535.9,356.7 537.0,356.6 538.1,356.6 539.3,356.5 540.4,356.5 541.5,356.5 542.7,356.5 542.7,371.2 541.5,371.2 540.4,371.2 539.3,371.2 538.1,371.3 537.0,371.3 535.9,371.4 534.7,371.4 533.6,371.5 532.5,371.5 531.4,371.6 530.2,371.6 529.1,371.7 528.0,371.7 526.8,371.8 525.7,371.8 524.6,371.9 523.5,371.9 522.3,371.9 521.2,372.0 520.1,372.0 518.9,372.1 517.8,372.1 516.7,372.2 515.6,372.2 514.4,372.3 513.3,372.3 512.2,372.4 511.0,372.4 509.9,372.5 508.8,372.5 507.7,372.6 506.5,372.6 505.4,372.7 504.3,372.7 503.1,372.8 502.0,372.8 500.9,372.9 499.7,372.9 498.6,373.0 497.5,373.0 496.4,373.1 495.2,373.1 494.1,373.1 493.0,373.2 491.8,373.2 490.7,373.3 489.6,373.3 488.5,373.4 487.3,373.4 486.2,373.5 485.1,373.5 483.9,373.6 482.8,373.6 481.7,373.7 480.6,373.7 479.4,373.8 478.3,373.8 477.2,373.9 476.0,373.9 474.9,374.0 473.8,374.0 472.7,374.1 471.5,374.1 470.4,374.2 469.3,374.2 468.1,374.3 467.0,374.3 465.9,374.3 464.7,374.4 463.6,374.4 462.5,374.5 461.4,374.5 460.2,374.6 459.1,374.6 458.0,374.7 456.8,374.7 455.7,374.8 454.6,374.8 453.5,374.9 452.3,374.9 451.2,375.0 450.1,375.0 448.9,375.1 447.8,375.1 446.7,375.2 445.6,375.2 444.4,375.3 443.3,375.3 442.2,375.4 441.0,375.4 439.9,375.5 438.8,375.5 437.7,375.6 436.5,375.6 435.4,375.7 434.3,375.7 433.1,375.7 432.0,375.8 430.9,375.8 429.8,375.9 428.6,375.9 427.5,376.0 426.4,376.0 425.2,376.1 424.1,376.1 423.0,376.2 421.8,376.2 420.7,376.3 419.6,376.3 418.5,376.4 417.3,376.4 416.2,376.5 415.1,376.5 413.9,376.6 412.8,376.6 411.7,376.7 410.6,376.7 409.4,376.8 408.3,376.8 407.2,376.9 406.0,376.9 404.9,377.0 403.8,377.2 402.7,377.4 401.5,377.5 400.4,377.7 399.3,377.9 398.1,378.1 397.0,378.2 395.9,378.4 394.8,378.6 393.6,378.8 392.5,379.0 391.4,379.1 390.2,379.3 389.1,379.5 388.0,379.7 386.8,379.8 385.7,380.0 384.6,380.2 383.5,380.4 382.3,380.5 381.2,380.7 380.1,380.9 378.9,381.1 377.8,381.3 376.7,381.4 375.6,381.6 374.4,382.0 373.3,382.4 372.2,382.9 371.0,383.4 369.9,383.8 368.8,384.3 367.7,384.7 366.5,385.2 365.4,385.6 364.3,386.1 363.1,386.5 362.0,387.0 360.9,387.5 359.8,387.9 358.6,388.4 357.5,388.9 356.4,389.4 355.2,390.0 354.1,390.6 353.0,391.2 351.8,391.7 350.7,392.3 349.6,392.9 348.5,393.5 347.3,394.0 346.2,394.6 345.1,395.2 343.9,395.8 342.8,396.3 341.7,396.9 340.6,397.5 339.4,398.1 338.3,398.6 337.2,399.7 336.0,400.8 334.9,402.0 333.8,403.2 332.7,404.4 331.5,405.5 330.4,406.8 329.3,408.2 328.1,409.5 327.0,410.9 325.9,412.2 324.8,413.6 323.6,415.1 322.5,417.3 321.4,419.4 320.2,421.5 319.1,423.7 318.0,425.8Z" fill="#d0c850" fill-opacity="0.4" stroke="none"/>
<path d="M315.2,500.0 316.3,460.0 317.5,432.0 318.1,427.3 318.4,425.7 318.8,423.8 319.1,421.8 319.4,420.2 319.7,419.2 320.0,418.9 320.3,419.4 320.6,420.2 320.9,421.1 321.3,421.5 321.6,421.3 321.9,420.4 322.2,418.7 322.5,416.7 322.8,414.6 323.1,412.9 323.4,411.9 323.7,411.7 324.1,412.3 324.4,413.4 324.7,414.6 325.0,415.3 325.3,415.4 325.6,414.6 325.9,413.1 326.2,411.2 326.6,409.2 326.9,407.6 327.2,406.8 327.5,406.8 327.8,407.6 328.1,408.9 328.4,410.2 328.7,411.0 329.1,411.1 329.4,410.3 329.7,408.7 330.0,406.6 330.3,404.5 330.6,402.8 330.9,402.0 331.2,402.1 331.5,403.1 331.9,404.5 332.2,405.9 332.5,406.8 332.8,406.9 333.1,406.2 333.4,404.6 333.7,402.6 334.0,400.6 334.4,399.0 334.7,398.3 335.0,398.4 335.3,399.3 335.6,400.6 335.9,401.9 336.2,402.8 336.5,402.9 336.8,402.1 337.2,400.6 337.5,398.7 337.8,396.8 338.1,395.4 338.4,394.8 338.7,395.0 339.0,396.0 339.3,397.5 339.7,398.9 340.0,400.0 340.3,400.3 340.6,399.7 340.9,398.3 341.2,396.5 341.5,394.6 341.8,393.1 342.2,392.4 342.5,392.7 342.8,393.8 343.1,395.5 343.4,397.1 343.7,398.4 344.0,398.7 344.3,398.1 344.6,396.5 345.0,394.5 345.3,392.4 345.6,390.8 345.9,390.1 346.2,390.4 346.5,391.7 346.8,393.5 347.1,395.4 347.5,396.7 347.8,397.1 348.1,396.4 348.4,394.8 348.7,392.5 349.0,390.2 349.3,388.5 349.6,387.7 349.9,388.1 350.3,389.5 350.6,391.5 350.9,393.6 351.2,395.0 351.5,395.5 351.8,394.8 352.1,393.0 352.4,390.5 352.8,388.1 353.1,386.2 353.4,385.4 353.7,385.8 354.0,387.4 354.3,389.5 354.6,391.8 354.9,393.4 355.3,393.9 355.6,393.1 355.9,391.2 356.2,388.6 356.5,385.9 356.8,383.9 357.1,383.0 357.4,383.5 357.7,385.2 358.1,387.6 358.4,390.0 358.7,391.8 359.0,392.4 359.3,391.6 359.6,389.5 359.9,386.8 360.2,384.0 360.6,381.8 360.9,381.0 361.2,381.5 361.5,383.4 361.8,386.0 362.1,388.6 362.4,390.6 362.7,391.2 363.0,390.4 363.4,388.2 363.7,385.2 364.0,382.2 364.3,379.9 364.6,378.9 364.9,379.6 365.2,381.6 365.5,384.4 365.9,387.2 366.2,389.3 366.5,390.0 366.8,389.1 367.1,386.8 367.4,383.6 367.7,380.4 368.0,377.9 368.4,376.9 368.7,377.6 369.0,379.8 369.3,382.8 369.6,385.9 369.9,388.1 370.2,388.9 370.5,387.9 370.8,385.4 371.2,382.0 371.5,378.5 371.8,376.0 372.1,374.9 372.4,375.6 372.7,377.9 373.0,381.2 373.3,384.5 373.7,386.9 374.0,387.7 374.3,386.7 374.6,384.0 374.9,380.4 375.2,376.7 375.5,374.1 375.8,373.1 376.1,374.0 376.5,376.5 376.8,380.0 377.1,383.5 377.4,386.0 377.7,386.9 378.0,385.9 378.3,383.3 378.6,379.7 379.0,376.1 379.3,373.5 379.6,372.5 379.9,373.3 380.2,375.9 380.5,379.4 380.8,382.9 381.1,385.5 381.5,386.4 381.8,385.4 382.1,382.7 382.4,379.1 382.7,375.5 383.0,372.8 383.3,371.8 383.6,372.7 383.9,375.3 384.3,378.8 384.6,382.3 384.9,384.9 385.2,385.8 385.5,384.8 385.8,382.2 386.1,378.5 386.4,374.9 386.8,372.2 387.1,371.2 387.4,372.1 387.7,374.7 388.0,378.2 388.3,381.8 388.6,384.4 388.9,385.3 389.2,384.3 389.6,381.6 389.9,377.9 390.2,374.2 390.5,371.5 390.8,370.5 391.1,371.4 391.4,374.0 391.7,377.6 392.1,381.2 392.4,383.8 392.7,384.7 393.0,383.7 393.3,381.0 393.6,377.3 393.9,373.6 394.2,370.9 394.5,369.9 394.9,370.8 395.2,373.4 395.5,377.0 395.8,380.6 396.1,383.3 396.4,384.2 396.7,383.2 397.0,380.4 397.4,376.7 397.7,373.0 398.0,370.2 398.3,369.2 398.6,370.1 398.9,372.8 399.2,376.4 399.5,380.1 399.9,382.7 400.2,383.6 400.5,382.6 400.8,379.9 401.1,376.1 401.4,372.4 401.7,369.6 402.0,368.6 402.3,369.5 402.7,372.2 403.0,375.8 403.3,379.5 403.6,382.2 403.9,383.1 404.2,382.1 404.5,379.3 404.8,375.5 405.2,371.7 405.5,369.0 405.8,368.0 406.1,368.9 406.4,371.6 406.7,375.4 407.0,379.1 407.3,381.9 407.6,382.9 408.0,381.9 408.3,379.1 408.6,375.3 408.9,371.5 409.2,368.7 409.5,367.6 409.8,368.6 410.1,371.4 410.5,375.2 410.8,379.0 411.1,381.8 411.4,382.8 411.7,381.8 412.0,379.0 412.3,375.1 412.6,371.2 413.0,368.3 413.3,367.3 413.6,368.3 413.9,371.1 414.2,375.0 414.5,378.9 414.8,381.8 415.1,382.8 415.4,381.8 415.8,378.9 416.1,374.9 416.4,370.9 416.7,368.0 417.0,366.9 417.3,367.9 417.6,370.8 417.9,374.8 418.3,378.8 418.6,381.7 418.9,382.8 419.2,381.7 419.5,378.7 419.8,374.7 420.1,370.7 420.4,367.7 420.7,366.6 421.1,367.6 421.4,370.6 421.7,374.6 422.0,378.7 422.3,381.6 422.6,382.7 422.9,381.6 423.2,378.6 423.6,374.5 423.9,370.4 424.2,367.3 424.5,366.2 424.8,367.3 425.1,370.3 425.4,374.4 425.7,378.6 426.1,381.6 426.4,382.7 426.7,381.6 427.0,378.5 427.3,374.3 427.6,370.1 427.9,367.0 428.2,365.9 428.5,367.0 428.9,370.0 429.2,374.2 429.5,378.4 429.8,381.5 430.1,382.7 430.4,381.5 430.7,378.4 431.0,374.1 431.4,369.8 431.7,366.7 432.0,365.5 432.3,366.6 432.6,369.8 432.9,374.0 433.2,378.3 433.5,381.5 433.8,382.6 434.2,381.5 434.5,378.3 434.8,373.9 435.1,369.6 435.4,366.4 435.7,365.2 436.0,366.3 436.3,369.5 436.7,373.8 437.0,378.2 437.3,381.4 437.6,382.6 437.9,381.4 438.2,378.2 438.5,373.8 438.8,369.3 439.2,366.0 439.5,364.8 439.8,366.0 440.1,369.2 440.4,373.7 440.7,378.1 441.0,381.4 441.3,382.6 441.6,381.4 442.0,378.1 442.3,373.6 442.6,369.0 442.9,365.7 443.2,364.5 443.5,365.7 443.8,368.9 444.1,373.5 444.5,378.0 444.8,381.3 445.1,382.5 445.4,381.3 445.7,378.0 446.0,373.4 446.3,368.8 446.6,365.4 446.9,364.1 447.3,365.3 447.6,368.7 447.9,373.3 448.2,377.9 448.5,381.3 448.8,382.5 449.1,381.2 449.4,377.8 449.8,373.2 450.1,368.5 450.4,365.1 450.7,363.8 451.0,365.0 451.3,368.4 451.6,373.1 451.9,377.8 452.3,381.2 452.6,382.5 452.9,381.2 453.2,377.7 453.5,373.0 453.8,368.2 454.1,364.7 454.4,363.4 454.7,364.7 455.1,368.1 455.4,372.9 455.7,377.7 456.0,381.1 456.3,382.4 456.6,381.1 456.9,377.6 457.2,372.8 457.6,368.0 457.9,364.4 458.2,363.1 458.5,364.4 458.8,367.9 459.1,372.7 459.4,377.5 459.7,381.1 460.0,382.4 460.4,381.1 460.7,377.5 461.0,372.6 461.3,367.7 461.6,364.1 461.9,362.7 462.2,364.0 462.5,367.6 462.9,372.5 463.2,377.4 463.5,381.0 463.8,382.4 464.1,381.0 464.4,377.4 464.7,372.4 465.0,367.4 465.4,363.8 465.7,362.4 466.0,363.7 466.3,367.3 466.6,372.3 466.9,377.3 467.2,381.0 467.5,382.3 467.8,381.0 468.2,377.3 468.5,372.2 468.8,367.2 469.1,363.4 469.4,362.0 469.7,363.4 470.0,367.1 470.3,372.1 470.7,377.2 471.0,380.9 471.3,382.3 471.6,380.9 471.9,377.2 472.2,372.0 472.5,366.9 472.8,363.1 473.1,361.7 473.5,363.1 473.8,366.8 474.1,371.9 474.4,377.1 474.7,380.9 475.0,382.2 475.3,380.9 475.6,377.0 476.0,371.8 476.3,366.6 476.6,362.8 476.9,361.4 477.2,362.7 477.5,366.5 477.8,371.7 478.1,377.0 478.5,380.8 478.8,382.2 479.1,380.8 479.4,376.9 479.7,371.7 480.0,366.4 480.3,362.5 480.6,361.0 480.9,362.4 481.3,366.3 481.6,371.6 481.9,376.9 482.2,380.7 482.5,382.2 482.8,380.7 483.1,376.8 483.4,371.5 483.8,366.1 484.1,362.2 484.4,360.7 484.7,362.1 485.0,366.0 485.3,371.4 485.6,376.7 485.9,380.7 486.2,382.1 486.6,380.7 486.9,376.7 487.2,371.3 487.5,365.8 487.8,361.8 488.1,360.4 488.4,361.8 488.7,365.7 489.1,371.2 489.4,376.6 489.7,380.6 490.0,382.1 490.3,380.6 490.6,376.6 490.9,371.1 491.2,365.6 491.6,361.5 491.9,360.0 492.2,361.5 492.5,365.5 492.8,371.0 493.1,376.5 493.4,380.6 493.7,382.0 494.0,380.6 494.4,376.5 494.7,370.9 495.0,365.3 495.3,361.2 495.6,359.7 495.9,361.2 496.2,365.2 496.5,370.8 496.9,376.4 497.2,380.5 497.5,382.0 497.8,380.5 498.1,376.4 498.4,370.7 498.7,365.0 499.0,360.9 499.3,359.3 499.7,360.8 500.0,365.0 500.3,370.6 500.6,376.3 500.9,380.4 501.2,382.0 501.5,380.4 501.8,376.2 502.2,370.5 502.5,364.8 502.8,360.6 503.1,359.0 503.4,360.5 503.7,364.7 504.0,370.4 504.3,376.2 504.7,380.4 505.0,381.9 505.3,380.4 505.6,376.1 505.9,370.3 506.2,364.5 506.5,360.3 506.8,358.7 507.1,360.2 507.5,364.4 507.8,370.2 508.1,376.1 508.4,380.3 508.7,381.9 509.0,380.3 509.3,376.0 509.6,370.1 510.0,364.3 510.3,359.9 510.6,358.3 510.9,359.9 511.2,364.2 511.5,370.0 511.8,375.9 512.1,380.3 512.4,381.8 512.8,380.2 513.1,375.9 513.4,370.0 513.7,364.0 514.0,359.6 514.3,358.0 514.6,359.6 514.9,363.9 515.3,369.9 515.6,375.8 515.9,380.2 516.2,381.8 516.5,380.2 516.8,375.8 517.1,369.8 517.4,363.7 517.8,359.3 518.1,357.7 518.4,359.2 518.7,363.6 519.0,369.7 519.3,375.7 519.6,380.1 519.9,381.8 520.2,380.1 520.6,375.7 520.9,369.6 521.2,363.5 521.5,359.0 521.8,357.3 522.1,358.9 522.4,363.4 522.7,369.5 523.1,375.6 523.4,380.1 523.7,381.7 524.0,380.1 524.3,375.6 524.6,369.4 524.9,363.2 525.2,358.7 525.5,357.0 525.9,358.6 526.2,363.1 526.5,369.3 526.8,375.5 527.1,380.0 527.4,381.6 527.7,379.9 528.0,375.4 528.4,369.2 528.7,363.1 529.0,358.5 529.3,356.9 529.6,358.5 529.9,363.0 530.2,369.2 530.5,375.3 530.9,379.8 531.2,381.4 531.5,379.8 531.8,375.2 532.1,369.1 532.4,362.9 532.7,358.4 533.0,356.7 533.3,358.4 533.7,362.9 534.0,369.0 534.3,375.1 534.6,379.6 534.9,381.3 535.2,379.6 535.5,375.1 535.8,368.9 536.2,362.8 536.5,358.3 536.8,356.6 537.1,358.3 537.4,362.7 537.7,368.9 538.0,375.0 538.3,379.5 538.6,381.1 539.0,379.4 539.3,374.9 539.6,368.8 539.9,362.6 540.2,358.1 540.5,356.5 540.8,358.1 541.1,362.6 541.5,368.8 541.8,374.9 542.1,379.4 542.4,381.0" stroke="#cac232" stroke-width="1.25" stroke-opacity="1"/>
<path d="M318.8,445.0 319.9,441.0 321.1,438.0 322.2,435.7 323.3,433.4 324.4,431.1 325.6,429.3 326.7,427.5 327.8,425.7 328.9,424.1 330.1,422.7 331.2,421.3 332.3,420.0 333.4,418.8 334.6,417.6 335.7,416.6 336.8,415.9 337.9,415.1 339.1,414.3 340.2,413.5 341.3,412.7 342.4,412.0 343.6,411.4 344.7,410.8 345.8,410.2 346.9,409.6 348.0,408.9 349.2,408.3 350.3,407.7 351.4,407.1 352.5,406.5 353.7,405.9 354.8,405.5 355.9,405.1 357.0,404.7 358.2,404.3 359.3,403.8 360.4,403.4 361.5,403.0 362.7,402.6 363.8,402.2 364.9,401.7 366.0,401.3 367.2,400.9 368.3,400.5 369.4,400.1 370.5,399.7 371.7,399.2 372.8,398.8 373.9,398.4 375.0,398.0 376.2,397.7 377.3,397.5 378.4,397.2 379.5,397.0 380.7,396.8 381.8,396.5 382.9,396.3 384.0,396.1 385.2,395.9 386.3,395.6 387.4,395.4 388.5,395.2 389.7,394.9 390.8,394.7 391.9,394.5 393.0,394.2 394.2,394.0 395.3,393.8 396.4,393.5 397.5,393.3 398.7,393.1 399.8,392.8 400.9,392.6 402.0,392.4 403.2,392.1 404.3,391.9 405.4,391.7 406.5,391.6 407.7,391.5 408.8,391.3 409.9,391.2 411.0,391.1 412.2,391.0 413.3,390.9 414.4,390.8 415.5,390.6 416.7,390.5 417.8,390.4 418.9,390.3 420.0,390.2 421.2,390.1 422.3,389.9 423.4,389.8 424.5,389.7 425.7,389.6 426.8,389.5 427.9,389.4 429.0,389.2 430.2,389.1 431.3,389.0 432.4,388.9 433.5,388.8 434.7,388.7 435.8,388.5 436.9,388.4 438.0,388.3 439.2,388.2 440.3,388.1 441.4,387.9 442.5,387.8 443.7,387.7 444.8,387.6 445.9,387.5 447.0,387.4 448.2,387.2 449.3,387.1 450.4,387.0 451.5,386.9 452.7,386.8 453.8,386.7 454.9,386.5 456.0,386.4 457.2,386.3 458.3,386.2 459.4,386.1 460.5,386.0 461.7,385.8 462.8,385.7 463.9,385.6 465.0,385.5 466.2,385.4 467.3,385.3 468.4,385.1 469.5,385.0 470.7,384.9 471.8,384.9 472.9,384.8 474.0,384.7 475.2,384.6 476.3,384.6 477.4,384.5 478.5,384.4 479.7,384.3 480.8,384.3 481.9,384.2 483.0,384.1 484.2,384.0 485.3,384.0 486.4,383.9 487.5,383.8 488.7,383.7 489.8,383.6 490.9,383.6 492.0,383.5 493.2,383.4 494.3,383.3 495.4,383.3 496.5,383.2 497.7,383.1 498.8,383.0 499.9,383.0 501.0,382.9 502.2,382.8 503.3,382.7 504.4,382.7 505.5,382.6 506.7,382.5 507.8,382.4 508.9,382.4 510.0,382.3 511.2,382.2 512.3,382.1 513.4,382.0 514.5,382.0 515.7,381.9 516.8,381.9 517.9,381.9 519.0,381.8 520.2,381.8 521.3,381.7 522.4,381.7 523.5,381.6 524.7,381.6 525.8,381.6 526.9,381.5 528.0,381.5 529.2,381.4 530.3,381.4 531.4,381.3 532.5,381.3 533.7,381.3 534.8,381.2 535.9,381.2 537.0,381.1 538.2,381.1 539.3,381.0 540.4,381.0 541.5,381.0 542.7,381.0 542.7,394.7 541.5,394.7 540.4,394.7 539.3,394.8 538.2,394.9 537.0,395.0 535.9,395.1 534.8,395.2 533.7,395.3 532.5,395.4 531.4,395.5 530.3,395.6 529.2,395.7 528.0,395.8 526.9,395.9 525.8,396.0 524.7,396.1 523.5,396.2 522.4,396.3 521.3,396.4 520.2,396.5 519.0,396.6 517.9,396.7 516.8,396.8 515.7,396.9 514.5,397.0 513.4,397.1 512.3,397.2 511.2,397.3 510.0,397.4 508.9,397.4 507.8,397.5 506.7,397.6 505.5,397.7 504.4,397.8 503.3,397.8 502.2,397.9 501.0,398.0 499.9,398.1 498.8,398.1 497.7,398.2 496.5,398.3 495.4,398.4 494.3,398.5 493.2,398.5 492.0,398.6 490.9,398.7 489.8,398.8 488.7,398.9 487.5,398.9 486.4,399.0 485.3,399.1 484.2,399.2 483.0,399.2 481.9,399.3 480.8,399.4 479.7,399.5 478.5,399.6 477.4,399.6 476.3,399.7 475.2,399.8 474.0,399.9 472.9,399.9 471.8,400.0 470.7,400.1 469.5,400.2 468.4,400.3 467.3,400.4 466.2,400.5 465.0,400.6 463.9,400.7 462.8,400.8 461.7,400.9 460.5,401.0 459.4,401.1 458.3,401.2 457.2,401.3 456.0,401.4 454.9,401.5 453.8,401.6 452.7,401.7 451.5,401.8 450.4,401.9 449.3,402.0 448.2,402.1 447.0,402.2 445.9,402.3 444.8,402.4 443.7,402.5 442.5,402.6 441.4,402.7 440.3,402.8 439.2,402.8 438.0,402.9 436.9,403.0 435.8,403.1 434.7,403.2 433.5,403.3 432.4,403.4 431.3,403.5 430.2,403.6 429.0,403.7 427.9,403.8 426.8,403.9 425.7,404.0 424.5,404.1 423.4,404.2 422.3,404.3 421.2,404.4 420.0,404.5 418.9,404.6 417.8,404.7 416.7,404.8 415.5,404.9 414.4,405.0 413.3,405.1 412.2,405.2 411.0,405.3 409.9,405.4 408.8,405.5 407.7,405.6 406.5,405.7 405.4,405.8 404.3,406.0 403.2,406.2 402.0,406.4 400.9,406.6 399.8,406.8 398.7,407.0 397.5,407.2 396.4,407.4 395.3,407.6 394.2,407.8 393.0,408.1 391.9,408.3 390.8,408.5 389.7,408.7 388.5,408.9 387.4,409.1 386.3,409.3 385.2,409.5 384.0,409.7 382.9,409.9 381.8,410.1 380.7,410.3 379.5,410.5 378.4,410.7 377.3,410.9 376.2,411.1 375.0,411.4 373.9,411.8 372.8,412.2 371.7,412.7 370.5,413.1 369.4,413.5 368.3,414.0 367.2,414.4 366.0,414.8 364.9,415.2 363.8,415.7 362.7,416.1 361.5,416.5 360.4,417.0 359.3,417.4 358.2,417.8 357.0,418.2 355.9,418.7 354.8,419.1 353.7,419.5 352.5,420.0 351.4,420.6 350.3,421.1 349.2,421.6 348.0,422.1 346.9,422.6 345.8,423.2 344.7,423.7 343.6,424.2 342.4,424.7 341.3,425.3 340.2,426.0 339.1,426.7 337.9,427.3 336.8,428.0 335.7,428.7 334.6,429.7 333.4,430.9 332.3,432.1 331.2,433.2 330.1,434.4 328.9,435.5 327.8,436.9 326.7,438.7 325.6,440.4 324.4,442.2 323.3,444.2 322.2,446.3 321.1,448.4 319.9,450.9 318.8,453.8Z" fill="#ffb0b0" fill-opacity="0.3" stroke="none"/>
<path d="M315.2,500.0 316.7,480.0 318.2,468.0 319.0,465.2 319.3,466.4 319.6,464.4 319.9,459.5 320.3,452.6 320.6,445.4 320.9,440.1 321.2,437.7 321.5,438.8 321.8,443.0 322.1,449.0 322.4,455.1 322.8,459.5 323.1,460.8 323.4,458.5 323.7,453.0 324.0,445.6 324.3,438.2 324.6,432.7 324.9,430.3 325.2,431.7 325.6,436.2 325.9,442.7 326.2,449.2 326.5,453.8 326.8,455.2 327.1,452.9 327.4,447.3 327.7,439.8 328.1,432.3 328.4,426.7 328.7,424.4 329.0,425.9 329.3,430.8 329.6,437.7 329.9,444.7 330.2,449.8 330.6,451.6 330.9,449.4 331.2,443.7 331.5,435.9 331.8,428.1 332.1,422.2 332.4,419.9 332.7,421.6 333.0,426.7 333.4,433.9 333.7,441.1 334.0,446.3 334.3,448.0 334.6,445.6 334.9,439.8 335.2,432.0 335.5,424.3 335.9,418.5 336.2,416.3 336.5,418.1 336.8,423.5 337.1,430.9 337.4,438.3 337.7,443.8 338.0,445.7 338.3,443.5 338.7,437.7 339.0,429.8 339.3,421.9 339.6,416.0 339.9,413.7 340.2,415.5 340.5,421.1 340.8,428.7 341.2,436.4 341.5,442.1 341.8,444.0 342.1,441.8 342.4,435.9 342.7,427.8 343.0,419.6 343.3,413.6 343.7,411.3 344.0,413.3 344.3,419.0 344.6,426.9 344.9,434.9 345.2,440.7 345.5,442.7 345.8,440.5 346.1,434.4 346.5,426.1 346.8,417.8 347.1,411.7 347.4,409.3 347.7,411.3 348.0,417.2 348.3,425.3 348.6,433.4 349.0,439.3 349.3,441.5 349.6,439.1 349.9,432.9 350.2,424.5 350.5,416.0 350.8,409.7 351.1,407.3 351.4,409.4 351.8,415.3 352.1,423.6 352.4,431.9 352.7,438.0 353.0,440.2 353.3,437.8 353.6,431.4 353.9,422.8 354.3,414.2 354.6,407.9 354.9,405.5 355.2,407.6 355.5,413.7 355.8,422.1 356.1,430.5 356.4,436.6 356.8,438.7 357.1,436.3 357.4,430.0 357.7,421.4 358.0,412.8 358.3,406.5 358.6,404.1 358.9,406.2 359.2,412.3 359.6,420.7 359.9,429.0 360.2,435.1 360.5,437.2 360.8,434.8 361.1,428.5 361.4,420.0 361.7,411.4 362.1,405.1 362.4,402.7 362.7,404.8 363.0,410.9 363.3,419.2 363.6,427.6 363.9,433.6 364.2,435.8 364.5,433.4 364.9,427.1 365.2,418.5 365.5,410.0 365.8,403.7 366.1,401.3 366.4,403.4 366.7,409.5 367.0,417.8 367.4,426.1 367.7,432.1 368.0,434.3 368.3,431.9 368.6,425.6 368.9,417.1 369.2,408.6 369.5,402.3 369.9,399.9 370.2,402.0 370.5,408.1 370.8,416.4 371.1,424.6 371.4,430.7 371.7,432.8 372.0,430.4 372.3,424.2 372.7,415.6 373.0,407.1 373.3,400.9 373.6,398.5 373.9,400.6 374.2,406.7 374.5,414.9 374.8,423.2 375.2,429.2 375.5,431.4 375.8,429.1 376.1,422.9 376.4,414.4 376.7,406.0 377.0,399.8 377.3,397.5 377.6,399.7 378.0,405.8 378.3,414.1 378.6,422.5 378.9,428.6 379.2,430.8 379.5,428.5 379.8,422.3 380.1,413.8 380.5,405.3 380.8,399.0 381.1,396.7 381.4,398.9 381.7,405.0 382.0,413.5 382.3,421.9 382.6,428.0 383.0,430.3 383.3,428.0 383.6,421.7 383.9,413.1 384.2,404.6 384.5,398.3 384.8,395.9 385.1,398.1 385.4,404.3 385.8,412.8 386.1,421.3 386.4,427.5 386.7,429.7 387.0,427.4 387.3,421.1 387.6,412.5 387.9,403.8 388.3,397.5 388.6,395.2 388.9,397.4 389.2,403.6 389.5,412.1 389.8,420.7 390.1,426.9 390.4,429.2 390.7,426.8 391.1,420.5 391.4,411.8 391.7,403.1 392.0,396.8 392.3,394.4 392.6,396.6 392.9,402.9 393.2,411.5 393.6,420.1 393.9,426.4 394.2,428.6 394.5,426.3 394.8,419.9 395.1,411.1 395.4,402.4 395.7,396.0 396.1,393.6 396.4,395.9 396.7,402.2 397.0,410.8 397.3,419.5 397.6,425.8 397.9,428.1 398.2,425.7 398.5,419.3 398.9,410.5 399.2,401.7 399.5,395.2 399.8,392.8 400.1,395.1 400.4,401.5 400.7,410.2 401.0,418.9 401.4,425.2 401.7,427.5 402.0,425.1 402.3,418.7 402.6,409.8 402.9,401.0 403.2,394.5 403.5,392.1 403.8,394.4 404.2,400.7 404.5,409.5 404.8,418.3 405.1,424.7 405.4,427.0 405.7,424.6 406.0,418.1 406.3,409.3 406.7,400.4 407.0,393.9 407.3,391.5 407.6,393.8 407.9,400.3 408.2,409.1 408.5,417.9 408.8,424.4 409.2,426.8 409.5,424.4 409.8,417.8 410.1,408.9 410.4,400.0 410.7,393.5 411.0,391.1 411.3,393.5 411.6,399.9 412.0,408.8 412.3,417.7 412.6,424.2 412.9,426.5 413.2,424.1 413.5,417.6 413.8,408.6 414.1,399.7 414.5,393.1 414.8,390.7 415.1,393.1 415.4,399.6 415.7,408.5 416.0,417.4 416.3,423.9 416.6,426.3 416.9,423.9 417.3,417.3 417.6,408.3 417.9,399.3 418.2,392.8 418.5,390.3 418.8,392.7 419.1,399.2 419.4,408.2 419.8,417.1 420.1,423.7 420.4,426.0 420.7,423.6 421.0,417.0 421.3,408.0 421.6,399.0 421.9,392.4 422.3,389.9 422.6,392.3 422.9,398.9 423.2,407.9 423.5,416.8 423.8,423.4 424.1,425.8 424.4,423.4 424.7,416.7 425.1,407.7 425.4,398.6 425.7,392.0 426.0,389.6 426.3,391.9 426.6,398.5 426.9,407.5 427.2,416.6 427.6,423.2 427.9,425.6 428.2,423.1 428.5,416.5 428.8,407.4 429.1,398.3 429.4,391.6 429.7,389.2 430.0,391.6 430.4,398.2 430.7,407.2 431.0,416.3 431.3,422.9 431.6,425.3 431.9,422.9 432.2,416.2 432.5,407.1 432.9,397.9 433.2,391.2 433.5,388.8 433.8,391.2 434.1,397.8 434.4,406.9 434.7,416.0 435.0,422.7 435.4,425.1 435.7,422.6 436.0,415.9 436.3,406.8 436.6,397.6 436.9,390.9 437.2,388.4 437.5,390.8 437.8,397.5 438.2,406.6 438.5,415.7 438.8,422.4 439.1,424.9 439.4,422.4 439.7,415.6 440.0,406.4 440.3,397.2 440.7,390.5 441.0,388.0 441.3,390.4 441.6,397.1 441.9,406.3 442.2,415.5 442.5,422.2 442.8,424.6 443.1,422.1 443.5,415.4 443.8,406.1 444.1,396.9 444.4,390.1 444.7,387.6 445.0,390.0 445.3,396.8 445.6,406.0 446.0,415.2 446.3,421.9 446.6,424.4 446.9,421.9 447.2,415.1 447.5,405.8 447.8,396.5 448.1,389.7 448.5,387.2 448.8,389.7 449.1,396.4 449.4,405.7 449.7,414.9 450.0,421.7 450.3,424.1 450.6,421.6 450.9,414.8 451.3,405.5 451.6,396.2 451.9,389.4 452.2,386.8 452.5,389.3 452.8,396.1 453.1,405.3 453.4,414.6 453.8,421.4 454.1,423.9 454.4,421.4 454.7,414.5 455.0,405.2 455.3,395.8 455.6,389.0 455.9,386.4 456.2,388.9 456.6,395.7 456.9,405.0 457.2,414.4 457.5,421.2 457.8,423.7 458.1,421.1 458.4,414.3 458.7,404.9 459.1,395.5 459.4,388.6 459.7,386.1 460.0,388.5 460.3,395.4 460.6,404.7 460.9,414.1 461.2,420.9 461.6,423.4 461.9,420.9 462.2,414.0 462.5,404.6 462.8,395.1 463.1,388.2 463.4,385.7 463.7,388.2 464.0,395.0 464.4,404.4 464.7,413.8 465.0,420.7 465.3,423.2 465.6,420.6 465.9,413.7 466.2,404.3 466.5,394.8 466.9,387.8 467.2,385.3 467.5,387.8 467.8,394.7 468.1,404.1 468.4,413.5 468.7,420.4 469.0,423.0 469.3,420.4 469.7,413.4 470.0,403.9 470.3,394.4 470.6,387.5 470.9,384.9 471.2,387.4 471.5,394.4 471.8,403.8 472.2,413.3 472.5,420.2 472.8,422.7 473.1,420.1 473.4,413.2 473.7,403.7 474.0,394.2 474.3,387.2 474.7,384.7 475.0,387.2 475.3,394.1 475.6,403.5 475.9,413.0 476.2,419.9 476.5,422.4 476.8,419.9 477.1,412.9 477.5,403.4 477.8,393.9 478.1,387.0 478.4,384.4 478.7,386.9 479.0,393.8 479.3,403.3 479.6,412.7 480.0,419.6 480.3,422.1 480.6,419.6 480.9,412.6 481.2,403.2 481.5,393.7 481.8,386.7 482.1,384.2 482.4,386.7 482.8,393.6 483.1,403.0 483.4,412.5 483.7,419.4 484.0,421.9 484.3,419.3 484.6,412.4 484.9,402.9 485.3,393.4 485.6,386.5 485.9,383.9 486.2,386.4 486.5,393.3 486.8,402.8 487.1,412.2 487.4,419.1 487.8,421.6 488.1,419.0 488.4,412.1 488.7,402.6 489.0,393.2 489.3,386.2 489.6,383.7 489.9,386.2 490.2,393.1 490.6,402.5 490.9,411.9 491.2,418.8 491.5,421.3 491.8,418.8 492.1,411.8 492.4,402.4 492.7,392.9 493.1,386.0 493.4,383.4 493.7,385.9 494.0,392.8 494.3,402.2 494.6,411.7 494.9,418.6 495.2,421.1 495.5,418.5 495.9,411.6 496.2,402.1 496.5,392.6 496.8,385.7 497.1,383.2 497.4,385.7 497.7,392.6 498.0,402.0 498.4,411.4 498.7,418.3 499.0,420.8 499.3,418.2 499.6,411.3 499.9,401.8 500.2,392.4 500.5,385.4 500.9,382.9 501.2,385.4 501.5,392.3 501.8,401.7 502.1,411.1 502.4,418.0 502.7,420.5 503.0,418.0 503.3,411.0 503.7,401.6 504.0,392.1 504.3,385.2 504.6,382.6 504.9,385.2 505.2,392.0 505.5,401.5 505.8,410.9 506.2,417.7 506.5,420.3 506.8,417.7 507.1,410.8 507.4,401.3 507.7,391.9 508.0,384.9 508.3,382.4 508.6,384.9 509.0,391.8 509.3,401.2 509.6,410.6 509.9,417.5 510.2,420.0 510.5,417.4 510.8,410.5 511.1,401.1 511.5,391.6 511.8,384.7 512.1,382.1 512.4,384.6 512.7,391.5 513.0,400.9 513.3,410.3 513.6,417.2 514.0,419.7 514.3,417.2 514.6,410.2 514.9,400.8 515.2,391.3 515.5,384.5 515.8,381.9 516.1,384.4 516.4,391.3 516.8,400.6 517.1,409.9 517.4,416.6 517.7,419.1 518.0,416.5 518.3,409.7 518.6,400.4 518.9,391.1 519.3,384.3 519.6,381.8 519.9,384.3 520.2,391.0 520.5,400.2 520.8,409.4 521.1,416.0 521.4,418.4 521.7,415.9 522.1,409.2 522.4,400.0 522.7,390.8 523.0,384.1 523.3,381.7 523.6,384.1 523.9,390.7 524.2,399.8 524.6,408.8 524.9,415.4 525.2,417.8 525.5,415.3 525.8,408.7 526.1,399.6 526.4,390.5 526.7,383.9 527.1,381.5 527.4,383.9 527.7,390.5 528.0,399.4 528.3,408.3 528.6,414.8 528.9,417.2 529.2,414.7 529.5,408.1 529.9,399.2 530.2,390.3 530.5,383.8 530.8,381.4 531.1,383.7 531.4,390.2 531.7,399.0 532.0,407.8 532.4,414.2 532.7,416.5 533.0,414.1 533.3,407.6 533.6,398.8 533.9,390.0 534.2,383.6 534.5,381.2 534.8,383.6 535.2,389.9 535.5,398.6 535.8,407.3 536.1,413.6 536.4,415.9 536.7,413.5 537.0,407.1 537.3,398.4 537.7,389.7 538.0,383.4 538.3,381.1 538.6,383.4 538.9,389.7 539.2,398.2 539.5,406.8 539.8,413.0 540.2,415.2 540.5,412.9 540.8,406.6 541.1,398.1 541.4,389.6 541.7,383.3 542.0,381.0 542.3,383.3 542.6,389.5" stroke="#ff3434" stroke-width="1.0" stroke-opacity="0.85"/>
</g>
<text x="315.20" y="477.00" text-anchor="middle" class="tl">0</text>
<text x="352.73" y="477.00" text-anchor="middle" class="tl">5</text>
<text x="390.27" y="477.00" text-anchor="middle" class="tl">10</text>
<text x="427.80" y="477.00" text-anchor="middle" class="tl">15</text>
<text x="465.33" y="477.00" text-anchor="middle" class="tl">20</text>
<text x="502.87" y="477.00" text-anchor="middle" class="tl">25</text>
<text x="540.40" y="477.00" text-anchor="middle" class="tl">30</text>
<text x="312.60" y="471.60" text-anchor="end" class="tl">10<tspan dy="-4.1" class="sup">-2</tspan></text>
<text x="312.60" y="431.22" text-anchor="end" class="tl">10<tspan dy="-4.1" class="sup">-1</tspan></text>
<text x="312.60" y="390.84" text-anchor="end" class="tl">10<tspan dy="-4.1" class="sup">0</tspan></text>
<text x="312.60" y="350.46" text-anchor="end" class="tl">10<tspan dy="-4.1" class="sup">1</tspan></text>
<text x="312.60" y="310.08" text-anchor="end" class="tl">10<tspan dy="-4.1" class="sup">2</tspan></text>
<text x="312.60" y="269.70" text-anchor="end" class="tl">10<tspan dy="-4.1" class="sup">3</tspan></text>
<text x="427.80" y="487.00" text-anchor="middle" class="xl">Time [d]</text>
<text transform="translate(296.90,366.45) rotate(-90)" text-anchor="middle" class="xl">Distance from orbit calculated by FEM method [m]</text>
<text x="431.80" y="503.60" text-anchor="middle" class="pl">(d)</text>
<rect x="412.6" y="307.6" width="122.00" height="35.20" fill="#fff" stroke="#b0b0b0" stroke-width="0.9"/>
<path d="M414.10,312.30h10.6" stroke="#3c3cff" stroke-width="0.95"/>
<text x="425.80" y="314.60" class="lg">J2+J3+J4+T2</text>
<path d="M414.10,320.75h10.6" stroke="#10eaf0" stroke-width="0.95"/>
<text x="425.80" y="323.05" class="lg">J2+J3+J4+T2+T3+T4</text>
<path d="M414.10,329.20h10.6" stroke="#c4bc30" stroke-width="0.95"/>
<text x="425.80" y="331.50" class="lg">J2+J3+J4+J5+T2+T3+T4+T5</text>
<path d="M414.10,337.65h10.6" stroke="#ff3030" stroke-width="0.95"/>
<text x="425.80" y="339.95" class="lg">J2+J3+J4+J5+J6+T2+T3+T4+T5+T6</text>
</svg></body></html>
